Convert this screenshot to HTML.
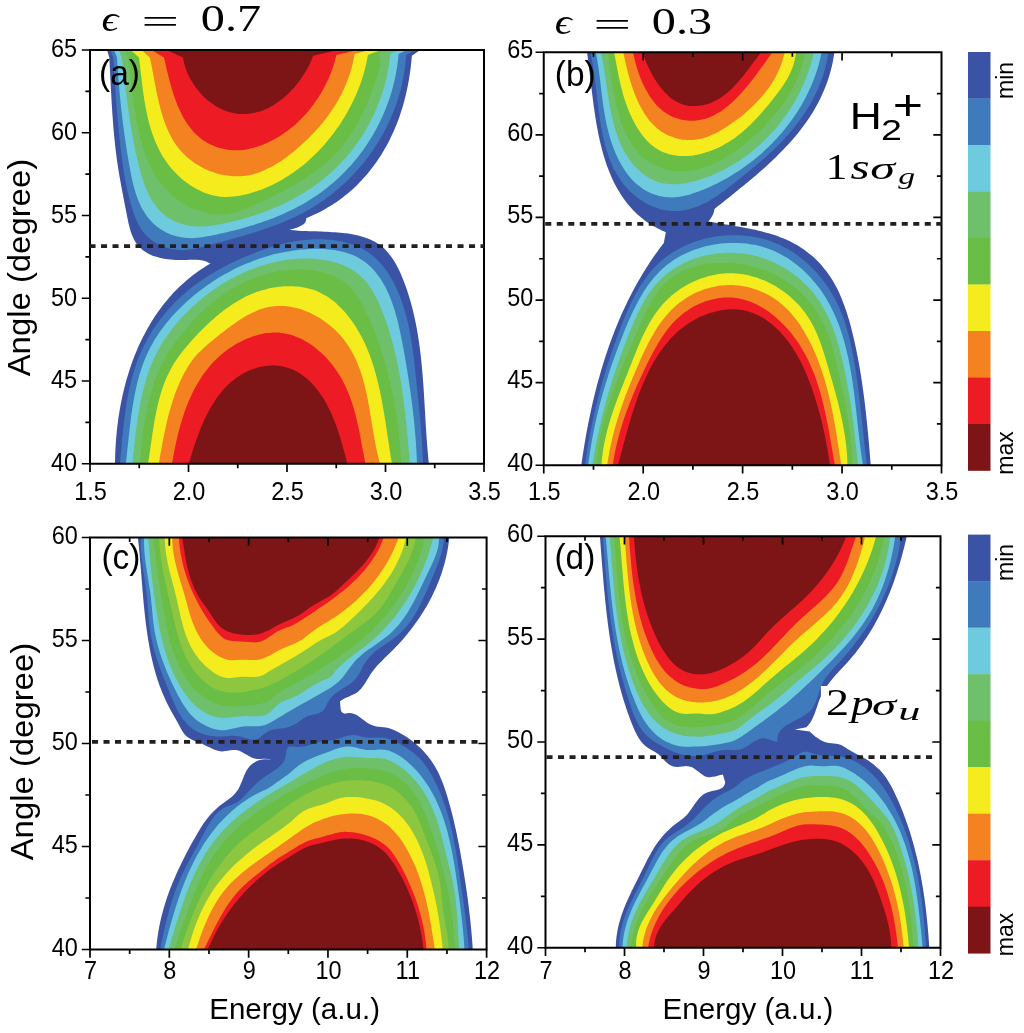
<!DOCTYPE html>
<html lang="en"><head><meta charset="utf-8"><title>Figure</title>
<style>
html,body{margin:0;padding:0;background:#fff;}
body{width:1024px;height:1033px;overflow:hidden;}
svg{display:block;}
text{font-family:"Liberation Sans",sans-serif;fill:#000;}
.tk{font-size:26.2px;}
.ax{font-size:31px;}
.pl{font-size:31px;}
.cb{font-size:22px;}
.m{font-family:"Liberation Serif","DejaVu Serif",serif;}
</style></head><body>
<svg width="1024" height="1033" viewBox="0 0 1024 1033">
<rect width="1024" height="1033" fill="#fff"/>
<!-- panel a -->
<clipPath id="clip-a"><rect x="90" y="50" width="394" height="413.75"/></clipPath>
<g clip-path="url(#clip-a)">
<path d="M107 38L107 50L109.3 57.5C109.34 58.34 109.48 60.85 109.56 62.53C109.65 64.21 109.73 65.89 109.82 67.58C109.9 69.27 109.99 70.95 110.07 72.64C110.16 74.33 110.24 76.03 110.33 77.72C110.41 79.42 110.5 81.11 110.58 82.81C110.67 84.51 110.76 86.21 110.85 87.91C110.94 89.61 111.03 91.31 111.12 93.01C111.21 94.71 111.31 96.41 111.4 98.12C111.5 99.82 111.6 101.52 111.7 103.23C111.81 104.93 111.91 106.63 112.02 108.33C112.13 110.04 112.24 111.74 112.36 113.44C112.47 115.14 112.59 116.84 112.72 118.54C112.84 120.24 112.97 121.94 113.11 123.63C113.24 125.33 113.38 127.03 113.52 128.72C113.67 130.41 113.82 132.1 113.97 133.79C114.13 135.48 114.29 137.17 114.46 138.85C114.63 140.53 114.8 142.21 114.98 143.89C115.16 145.57 115.35 147.24 115.55 148.91C115.74 150.59 115.94 152.25 116.15 153.92C116.36 155.58 116.58 157.24 116.81 158.9C117.03 160.55 117.27 162.2 117.51 163.85C117.76 165.5 118.01 167.14 118.27 168.78C118.53 170.42 118.8 172.06 119.07 173.7C119.35 175.34 119.63 176.98 119.92 178.62C120.2 180.26 120.5 181.9 120.8 183.55C121.1 185.2 121.41 186.85 121.72 188.5C122.03 190.16 122.35 191.82 122.67 193.5C122.99 195.17 123.31 196.85 123.64 198.54C123.97 200.23 124.3 201.93 124.63 203.64C124.97 205.35 125.31 207.08 125.65 208.82C125.98 210.56 126.32 212.32 126.67 214.09C127.02 215.85 127.36 217.65 127.73 219.42C128.1 221.19 128.47 222.98 128.89 224.72C129.31 226.47 129.76 228.21 130.26 229.89C130.76 231.58 131.3 233.24 131.91 234.82C132.52 236.4 133.18 237.94 133.93 239.39C134.69 240.84 135.51 242.22 136.42 243.51C137.33 244.79 138.34 245.98 139.42 247.09C140.5 248.2 141.66 249.22 142.89 250.16C144.12 251.1 145.42 251.96 146.78 252.74C148.14 253.53 149.56 254.24 151.03 254.88C152.5 255.52 154.03 256.09 155.6 256.6C157.16 257.11 158.78 257.54 160.42 257.93C162.06 258.31 163.74 258.63 165.44 258.91C167.14 259.18 168.87 259.39 170.61 259.56C172.35 259.73 174.12 259.85 175.88 259.92C177.64 260 179.42 260.03 181.18 260.03C182.95 260.03 184.73 259.96 186.48 259.92C188.23 259.87 189.98 259.78 191.69 259.76C193.4 259.74 195.1 259.72 196.75 259.81C198.4 259.9 200.02 260.02 201.59 260.3C203.15 260.58 204.67 260.93 206.13 261.48C207.58 262.03 209.6 263.25 210.3 263.6L250 256L289.8 229.7C291.18 229.28 295.6 228.32 298.1 227.2C300.6 226.08 303.42 224.53 304.8 223C306.18 221.47 306.13 218.83 306.4 218C307.22 217.66 309.69 216.67 311.31 215.97C312.92 215.27 314.52 214.55 316.1 213.79C317.68 213.04 319.23 212.27 320.77 211.47C322.31 210.66 323.84 209.84 325.34 208.99C326.84 208.14 328.32 207.27 329.78 206.37C331.25 205.48 332.69 204.56 334.12 203.62C335.54 202.68 336.95 201.71 338.33 200.73C339.72 199.74 341.09 198.73 342.43 197.71C343.78 196.68 345.11 195.63 346.42 194.56C347.73 193.49 349.02 192.4 350.29 191.29C351.55 190.18 352.81 189.05 354.04 187.9C355.27 186.75 356.48 185.58 357.67 184.4C358.86 183.21 360.03 182.01 361.19 180.78C362.34 179.56 363.47 178.32 364.59 177.06C365.7 175.81 366.79 174.53 367.87 173.24C368.94 171.95 370 170.64 371.03 169.32C372.07 167.99 373.08 166.65 374.08 165.3C375.07 163.94 376.05 162.57 377 161.18C377.96 159.8 378.89 158.4 379.81 156.99C380.73 155.57 381.62 154.14 382.5 152.7C383.37 151.26 384.23 149.81 385.07 148.34C385.9 146.87 386.72 145.39 387.52 143.9C388.31 142.41 389.09 140.91 389.85 139.39C390.6 137.88 391.34 136.35 392.05 134.81C392.77 133.28 393.47 131.73 394.14 130.17C394.82 128.61 395.47 127.04 396.11 125.47C396.75 123.89 397.36 122.3 397.96 120.71C398.55 119.11 399.13 117.51 399.69 115.89C400.24 114.28 400.78 112.66 401.3 111.04C401.82 109.41 402.32 107.77 402.8 106.13C403.28 104.49 403.74 102.85 404.19 101.2C404.63 99.54 405.06 97.89 405.46 96.22C405.87 94.56 406.26 92.89 406.63 91.22C407 89.55 407.35 87.88 407.69 86.2C408.03 84.52 408.34 82.84 408.64 81.15C408.94 79.47 409.23 77.78 409.49 76.09C409.76 74.41 410.01 72.72 410.24 71.02C410.48 69.33 410.69 67.64 410.89 65.95C411.09 64.26 411.28 62.56 411.44 60.87C411.61 59.18 411.82 56.65 411.9 55.8L420.2 50L420.2 38Z" fill="#3A53A4"/>
<path d="M115 475.75L115 463.75C115.01 462.92 115.04 460.43 115.08 458.77C115.12 457.11 115.17 455.44 115.23 453.78C115.29 452.11 115.37 450.44 115.45 448.76C115.54 447.09 115.64 445.42 115.75 443.74C115.86 442.07 115.98 440.39 116.12 438.71C116.26 437.03 116.4 435.35 116.56 433.67C116.73 431.99 116.9 430.31 117.09 428.63C117.27 426.95 117.47 425.27 117.69 423.59C117.9 421.91 118.13 420.23 118.37 418.56C118.61 416.88 118.86 415.2 119.13 413.53C119.39 411.85 119.67 410.18 119.97 408.51C120.26 406.84 120.57 405.17 120.89 403.5C121.21 401.84 121.55 400.17 121.9 398.51C122.25 396.85 122.61 395.2 122.99 393.54C123.37 391.89 123.76 390.24 124.17 388.6C124.58 386.95 125 385.31 125.44 383.67C125.88 382.04 126.33 380.41 126.8 378.78C127.26 377.16 127.75 375.54 128.24 373.92C128.74 372.31 129.25 370.7 129.78 369.1C130.31 367.49 130.85 365.9 131.41 364.31C131.97 362.72 132.54 361.14 133.14 359.56C133.73 357.99 134.33 356.42 134.95 354.86C135.58 353.3 136.22 351.75 136.87 350.21C137.52 348.67 138.2 347.13 138.88 345.61C139.57 344.08 140.27 342.56 140.99 341.06C141.72 339.55 142.45 338.05 143.21 336.57C143.96 335.08 144.73 333.6 145.52 332.14C146.31 330.67 147.11 329.21 147.93 327.77C148.76 326.32 149.6 324.89 150.45 323.47C151.31 322.05 152.18 320.64 153.08 319.24C153.97 317.84 154.88 316.45 155.81 315.08C156.73 313.71 157.68 312.35 158.64 311C159.61 309.65 160.59 308.32 161.59 307C162.59 305.67 163.61 304.37 164.64 303.07C165.68 301.78 166.73 300.5 167.81 299.24C168.88 297.98 169.98 296.73 171.09 295.49C172.2 294.26 173.33 293.04 174.48 291.84C175.63 290.64 176.8 289.45 177.98 288.28C179.17 287.11 180.38 285.96 181.61 284.82C182.83 283.68 184.08 282.56 185.34 281.46C186.61 280.36 187.89 279.27 189.2 278.2C190.51 277.14 191.83 276.09 193.18 275.05C194.52 274.02 195.89 273.01 197.27 272.02C198.66 271.02 200.07 270.05 201.49 269.09C202.92 268.14 204.37 267.2 205.83 266.29C207.3 265.37 209.56 264.05 210.3 263.6L250 240L289.8 229.7C290.54 229.79 292.72 230.09 294.23 230.25C295.74 230.41 297.3 230.54 298.88 230.65C300.46 230.77 302.08 230.87 303.72 230.96C305.36 231.04 307.03 231.11 308.72 231.18C310.41 231.25 312.12 231.31 313.85 231.36C315.57 231.42 317.32 231.47 319.08 231.53C320.83 231.59 322.6 231.65 324.37 231.72C326.14 231.79 327.92 231.87 329.7 231.96C331.48 232.05 333.27 232.15 335.04 232.28C336.82 232.4 338.6 232.54 340.36 232.71C342.13 232.88 343.89 233.07 345.63 233.29C347.37 233.51 349.1 233.75 350.81 234.04C352.52 234.32 354.21 234.64 355.88 235C357.54 235.35 359.19 235.75 360.8 236.19C362.42 236.63 364 237.12 365.55 237.66C367.1 238.19 368.62 238.78 370.1 239.42C371.57 240.07 373.01 240.76 374.41 241.52C375.8 242.28 377.15 243.1 378.45 243.98C379.75 244.87 381 245.82 382.2 246.83C383.4 247.85 384.55 248.93 385.66 250.06C386.77 251.2 387.83 252.39 388.85 253.63C389.87 254.87 390.84 256.16 391.78 257.5C392.72 258.83 393.62 260.21 394.48 261.62C395.34 263.03 396.17 264.49 396.96 265.97C397.76 267.44 398.52 268.96 399.25 270.49C399.98 272.02 400.68 273.58 401.36 275.15C402.04 276.73 402.69 278.32 403.32 279.92C403.94 281.52 404.55 283.13 405.13 284.75C405.72 286.36 406.28 287.98 406.83 289.6C407.38 291.22 407.91 292.84 408.42 294.46C408.93 296.08 409.42 297.71 409.9 299.34C410.37 300.96 410.83 302.59 411.28 304.22C411.72 305.85 412.15 307.48 412.56 309.12C412.97 310.75 413.37 312.39 413.75 314.03C414.13 315.66 414.5 317.3 414.85 318.94C415.21 320.58 415.55 322.22 415.87 323.87C416.2 325.51 416.51 327.16 416.81 328.8C417.11 330.45 417.4 332.1 417.68 333.75C417.96 335.39 418.22 337.04 418.48 338.7C418.73 340.35 418.97 342 419.21 343.65C419.44 345.31 419.66 346.96 419.88 348.62C420.09 350.28 420.3 351.93 420.49 353.59C420.69 355.25 420.88 356.91 421.05 358.57C421.23 360.23 421.41 361.89 421.57 363.55C421.73 365.22 421.89 366.88 422.04 368.54C422.19 370.21 422.34 371.87 422.48 373.54C422.62 375.2 422.75 376.87 422.88 378.54C423.01 380.2 423.13 381.87 423.25 383.54C423.37 385.21 423.48 386.88 423.6 388.54C423.71 390.21 423.82 391.88 423.92 393.55C424.03 395.22 424.13 396.89 424.23 398.57C424.34 400.24 424.43 401.91 424.53 403.58C424.63 405.25 424.73 406.92 424.83 408.59C424.92 410.27 425.02 411.94 425.12 413.61C425.21 415.28 425.31 416.96 425.41 418.63C425.51 420.3 425.61 421.97 425.71 423.65C425.81 425.32 425.92 426.99 426.02 428.66C426.13 430.34 426.24 432.01 426.35 433.68C426.46 435.35 426.58 437.03 426.7 438.7C426.82 440.37 426.94 442.04 427.07 443.71C427.2 445.38 427.33 447.06 427.47 448.73C427.61 450.4 427.76 452.07 427.91 453.74C428.06 455.41 428.22 457.08 428.38 458.75C428.55 460.41 428.81 462.92 428.9 463.75L428.9 475.75Z" fill="#3A53A4"/>
<path d="M110.3 38L110.3 50L113.3 57.5C113.35 58.34 113.5 60.85 113.6 62.53C113.71 64.2 113.81 65.87 113.91 67.55C114.01 69.22 114.11 70.89 114.22 72.57C114.32 74.24 114.43 75.91 114.53 77.58C114.64 79.25 114.75 80.92 114.85 82.59C114.96 84.26 115.07 85.93 115.18 87.59C115.3 89.26 115.41 90.93 115.53 92.6C115.64 94.26 115.76 95.93 115.88 97.59C116 99.26 116.12 100.92 116.25 102.59C116.37 104.25 116.5 105.92 116.63 107.58C116.76 109.25 116.9 110.91 117.04 112.57C117.17 114.23 117.31 115.9 117.46 117.56C117.6 119.22 117.75 120.88 117.9 122.54C118.05 124.2 118.21 125.86 118.37 127.52C118.53 129.18 118.69 130.84 118.86 132.5C119.03 134.16 119.2 135.82 119.38 137.48C119.56 139.14 119.74 140.8 119.93 142.46C120.12 144.11 120.31 145.77 120.51 147.43C120.7 149.09 120.91 150.75 121.12 152.4C121.33 154.06 121.54 155.72 121.76 157.37C121.98 159.03 122.21 160.69 122.44 162.34C122.68 164 122.92 165.66 123.16 167.31C123.41 168.97 123.66 170.62 123.93 172.28C124.2 173.93 124.47 175.59 124.76 177.24C125.04 178.89 125.34 180.54 125.65 182.19C125.97 183.83 126.29 185.48 126.63 187.12C126.97 188.77 127.33 190.41 127.7 192.04C128.08 193.68 128.47 195.32 128.88 196.95C129.29 198.58 129.72 200.2 130.17 201.83C130.62 203.45 131.09 205.07 131.59 206.68C132.08 208.3 132.6 209.91 133.14 211.51C133.68 213.11 134.24 214.72 134.85 216.31C135.45 217.89 136.07 219.48 136.75 221.02C137.44 222.57 138.16 224.1 138.95 225.57C139.75 227.04 140.61 228.49 141.55 229.85C142.49 231.22 143.52 232.54 144.61 233.78C145.71 235.03 146.89 236.21 148.12 237.32C149.35 238.43 150.66 239.48 152.01 240.46C153.36 241.43 154.78 242.34 156.22 243.18C157.67 244.01 159.17 244.77 160.7 245.46C162.22 246.15 163.79 246.76 165.37 247.29C166.95 247.83 168.56 248.29 170.17 248.66C171.79 249.04 173.42 249.34 175.05 249.55C176.68 249.76 178.32 249.89 179.95 249.94C181.58 250 183.21 249.97 184.83 249.88C186.46 249.79 188.09 249.63 189.71 249.43C191.34 249.22 192.96 248.95 194.58 248.66C196.21 248.36 197.83 248.01 199.46 247.64C201.08 247.28 202.7 246.87 204.33 246.45C205.96 246.04 207.58 245.6 209.21 245.16C210.84 244.73 212.47 244.28 214.1 243.84C215.73 243.4 217.36 242.96 218.99 242.52C220.63 242.08 222.26 241.63 223.89 241.19C225.53 240.74 227.16 240.3 228.79 239.85C230.43 239.4 232.06 238.95 233.69 238.49C235.32 238.04 236.96 237.58 238.58 237.11C240.21 236.65 241.84 236.18 243.46 235.71C245.09 235.23 246.71 234.75 248.33 234.26C249.95 233.78 251.57 233.28 253.18 232.78C254.79 232.28 256.4 231.77 258.01 231.25C259.61 230.74 261.22 230.21 262.81 229.67C264.41 229.14 266 228.59 267.59 228.04C269.17 227.48 270.75 226.91 272.33 226.34C273.9 225.76 275.47 225.17 277.03 224.57C278.6 223.97 280.15 223.35 281.7 222.72C283.25 222.1 284.79 221.45 286.32 220.8C287.86 220.14 289.38 219.47 290.9 218.79C292.42 218.1 293.92 217.4 295.42 216.69C296.92 215.97 298.41 215.24 299.89 214.48C301.38 213.73 302.85 212.97 304.31 212.18C305.77 211.39 307.22 210.59 308.66 209.77C310.1 208.94 311.53 208.1 312.94 207.24C314.36 206.38 315.77 205.5 317.16 204.6C318.56 203.7 319.94 202.78 321.31 201.85C322.68 200.92 324.04 199.96 325.39 198.99C326.73 198.02 328.07 197.03 329.39 196.03C330.71 195.02 332.02 194 333.32 192.96C334.61 191.93 335.9 190.87 337.17 189.8C338.44 188.73 339.69 187.64 340.93 186.53C342.18 185.43 343.41 184.31 344.62 183.17C345.84 182.04 347.04 180.89 348.22 179.72C349.41 178.56 350.58 177.37 351.74 176.18C352.89 174.98 354.04 173.77 355.16 172.55C356.29 171.32 357.4 170.08 358.5 168.83C359.59 167.58 360.68 166.31 361.74 165.03C362.81 163.75 363.85 162.45 364.89 161.15C365.92 159.84 366.94 158.52 367.94 157.18C368.94 155.85 369.92 154.5 370.89 153.15C371.85 151.79 372.8 150.42 373.74 149.04C374.67 147.65 375.58 146.26 376.48 144.85C377.38 143.45 378.26 142.03 379.12 140.6C379.98 139.17 380.83 137.73 381.65 136.28C382.48 134.83 383.28 133.37 384.07 131.9C384.86 130.43 385.63 128.95 386.38 127.45C387.13 125.96 387.86 124.46 388.58 122.95C389.29 121.44 389.98 119.92 390.65 118.39C391.33 116.86 391.98 115.32 392.61 113.77C393.25 112.23 393.86 110.67 394.45 109.1C395.04 107.54 395.62 105.97 396.17 104.39C396.72 102.81 397.25 101.22 397.76 99.62C398.27 98.03 398.76 96.42 399.22 94.81C399.69 93.2 400.13 91.58 400.56 89.96C400.98 88.33 401.38 86.7 401.76 85.07C402.14 83.43 402.5 81.78 402.83 80.14C403.16 78.49 403.47 76.83 403.76 75.17C404.05 73.51 404.32 71.84 404.56 70.17C404.8 68.5 405.02 66.82 405.22 65.14C405.41 63.46 405.58 61.77 405.73 60.08C405.88 58.39 406.04 55.85 406.1 55L414.4 50L414.4 38Z" fill="#3F7ABD"/>
<path d="M120 475.75L120 463.75C120.07 462.94 120.29 460.52 120.43 458.89C120.58 457.27 120.72 455.63 120.86 454C121 452.36 121.15 450.71 121.29 449.06C121.44 447.41 121.58 445.76 121.73 444.1C121.88 442.44 122.03 440.78 122.19 439.11C122.35 437.44 122.51 435.77 122.67 434.1C122.84 432.43 123.01 430.75 123.19 429.07C123.37 427.4 123.55 425.72 123.74 424.04C123.93 422.36 124.13 420.68 124.34 419C124.55 417.31 124.77 415.63 124.99 413.95C125.22 412.27 125.46 410.59 125.71 408.92C125.95 407.24 126.21 405.56 126.49 403.89C126.76 402.22 127.04 400.54 127.34 398.88C127.64 397.21 127.95 395.55 128.28 393.89C128.6 392.23 128.94 390.57 129.3 388.92C129.66 387.27 130.03 385.62 130.42 383.98C130.81 382.34 131.22 380.71 131.65 379.08C132.07 377.45 132.52 375.83 132.98 374.22C133.44 372.61 133.93 371 134.43 369.4C134.94 367.81 135.46 366.22 136.01 364.64C136.55 363.06 137.12 361.49 137.71 359.93C138.31 358.37 138.92 356.82 139.56 355.28C140.2 353.74 140.86 352.21 141.55 350.69C142.24 349.18 142.95 347.67 143.68 346.18C144.42 344.68 145.18 343.2 145.96 341.73C146.74 340.26 147.54 338.81 148.37 337.36C149.2 335.92 150.04 334.49 150.91 333.07C151.78 331.65 152.67 330.25 153.59 328.86C154.5 327.46 155.43 326.09 156.38 324.72C157.34 323.36 158.31 322.01 159.3 320.68C160.3 319.34 161.31 318.02 162.34 316.72C163.37 315.41 164.42 314.12 165.49 312.84C166.56 311.57 167.65 310.31 168.76 309.07C169.86 307.82 170.99 306.6 172.13 305.38C173.27 304.17 174.43 302.98 175.6 301.8C176.77 300.62 177.97 299.46 179.17 298.32C180.38 297.17 181.61 296.04 182.84 294.93C184.08 293.83 185.34 292.73 186.61 291.66C187.88 290.59 189.16 289.53 190.46 288.49C191.76 287.46 193.07 286.44 194.4 285.44C195.72 284.44 197.06 283.45 198.41 282.49C199.77 281.52 201.13 280.57 202.51 279.64C203.89 278.71 205.28 277.79 206.68 276.89C208.08 275.99 209.49 275.11 210.91 274.24C212.34 273.38 213.77 272.52 215.22 271.69C216.66 270.85 218.11 270.03 219.58 269.22C221.04 268.41 222.51 267.62 224 266.84C225.48 266.06 226.97 265.3 228.47 264.54C229.96 263.79 231.47 263.05 232.98 262.33C234.5 261.6 236.02 260.89 237.55 260.19C239.07 259.49 240.61 258.8 242.15 258.12C243.69 257.44 245.23 256.78 246.78 256.12C248.34 255.47 249.89 254.83 251.45 254.2C253.02 253.56 254.58 252.94 256.15 252.34C257.73 251.73 259.3 251.14 260.89 250.57C262.47 249.99 264.06 249.43 265.66 248.89C267.25 248.34 268.85 247.81 270.46 247.31C272.07 246.8 273.68 246.31 275.31 245.84C276.93 245.37 278.55 244.92 280.19 244.5C281.82 244.07 283.47 243.66 285.11 243.28C286.76 242.9 288.42 242.54 290.08 242.21C291.75 241.88 293.42 241.57 295.1 241.29C296.77 241.01 298.46 240.75 300.16 240.53C301.85 240.3 303.55 240.1 305.26 239.94C306.97 239.77 308.68 239.63 310.39 239.53C312.11 239.42 313.83 239.34 315.54 239.3C317.25 239.26 318.97 239.25 320.68 239.28C322.39 239.31 324.09 239.37 325.79 239.46C327.49 239.56 329.18 239.69 330.86 239.87C332.54 240.04 334.21 240.24 335.87 240.49C337.52 240.74 339.17 241.03 340.79 241.36C342.42 241.69 344.03 242.05 345.62 242.47C347.21 242.88 348.78 243.33 350.33 243.83C351.88 244.33 353.41 244.87 354.91 245.46C356.4 246.05 357.88 246.68 359.32 247.36C360.77 248.04 362.19 248.77 363.57 249.55C364.96 250.33 366.31 251.15 367.63 252.03C368.94 252.9 370.23 253.83 371.47 254.8C372.72 255.78 373.93 256.8 375.11 257.87C376.29 258.94 377.43 260.05 378.55 261.2C379.66 262.35 380.73 263.55 381.78 264.78C382.82 266.01 383.84 267.28 384.82 268.58C385.8 269.88 386.75 271.22 387.67 272.58C388.59 273.95 389.48 275.34 390.33 276.76C391.19 278.18 392.02 279.63 392.82 281.1C393.62 282.57 394.4 284.07 395.14 285.58C395.88 287.09 396.6 288.62 397.29 290.17C397.98 291.72 398.64 293.28 399.27 294.85C399.91 296.43 400.52 298.01 401.1 299.61C401.69 301.2 402.25 302.81 402.78 304.42C403.32 306.03 403.83 307.64 404.32 309.27C404.81 310.89 405.28 312.52 405.72 314.16C406.17 315.8 406.6 317.44 407 319.09C407.41 320.74 407.8 322.39 408.17 324.05C408.54 325.7 408.89 327.37 409.23 329.03C409.57 330.7 409.89 332.37 410.2 334.04C410.51 335.71 410.8 337.39 411.08 339.06C411.36 340.74 411.63 342.42 411.88 344.1C412.14 345.78 412.38 347.46 412.62 349.14C412.85 350.82 413.08 352.51 413.3 354.19C413.51 355.87 413.72 357.56 413.93 359.24C414.13 360.92 414.32 362.6 414.52 364.28C414.71 365.95 414.89 367.63 415.08 369.3C415.26 370.98 415.44 372.65 415.62 374.32C415.79 375.98 415.97 377.65 416.14 379.31C416.32 380.97 416.49 382.63 416.67 384.28C416.84 385.93 417.02 387.58 417.19 389.22C417.37 390.87 417.54 392.51 417.71 394.15C417.88 395.79 418.05 397.43 418.22 399.07C418.39 400.7 418.56 402.34 418.72 403.97C418.89 405.61 419.05 407.24 419.21 408.87C419.38 410.51 419.53 412.14 419.69 413.77C419.84 415.41 420 417.04 420.15 418.68C420.29 420.31 420.44 421.95 420.58 423.59C420.72 425.23 420.86 426.87 420.99 428.52C421.13 430.16 421.26 431.81 421.38 433.46C421.5 435.11 421.62 436.77 421.74 438.43C421.85 440.09 421.96 441.75 422.06 443.42C422.17 445.09 422.27 446.76 422.36 448.45C422.45 450.13 422.53 451.81 422.61 453.51C422.69 455.2 422.76 456.9 422.83 458.61C422.89 460.31 422.97 462.89 423 463.75L423 475.75Z" fill="#3F7ABD"/>
<path d="M114 38L114 50L117 57.5C117.05 58.37 117.21 60.98 117.32 62.7C117.43 64.42 117.54 66.14 117.66 67.84C117.77 69.55 117.89 71.25 118.01 72.94C118.14 74.63 118.26 76.31 118.39 77.98C118.52 79.66 118.65 81.33 118.79 82.99C118.93 84.65 119.07 86.31 119.21 87.96C119.35 89.61 119.5 91.26 119.65 92.9C119.8 94.55 119.96 96.18 120.12 97.82C120.28 99.45 120.44 101.08 120.61 102.71C120.78 104.34 120.95 105.97 121.13 107.59C121.3 109.22 121.48 110.84 121.67 112.46C121.85 114.09 122.04 115.71 122.24 117.33C122.43 118.95 122.63 120.57 122.83 122.2C123.04 123.82 123.24 125.44 123.46 127.07C123.67 128.69 123.89 130.32 124.11 131.95C124.34 133.58 124.56 135.22 124.8 136.85C125.03 138.49 125.27 140.13 125.51 141.77C125.76 143.42 126.01 145.07 126.26 146.72C126.51 148.37 126.77 150.03 127.04 151.7C127.31 153.36 127.58 155.04 127.85 156.71C128.13 158.39 128.41 160.08 128.7 161.77C128.99 163.47 129.28 165.17 129.59 166.87C129.89 168.58 130.2 170.29 130.53 172C130.86 173.71 131.2 175.43 131.56 177.13C131.92 178.84 132.29 180.54 132.69 182.24C133.1 183.93 133.52 185.62 133.97 187.28C134.42 188.95 134.9 190.62 135.41 192.25C135.92 193.89 136.46 195.52 137.04 197.11C137.62 198.71 138.23 200.29 138.89 201.84C139.54 203.39 140.24 204.92 140.98 206.41C141.73 207.9 142.51 209.36 143.35 210.79C144.19 212.21 145.07 213.6 146.02 214.95C146.96 216.3 147.95 217.61 149 218.87C150.05 220.13 151.16 221.35 152.32 222.5C153.47 223.66 154.68 224.76 155.94 225.8C157.2 226.84 158.51 227.82 159.86 228.74C161.21 229.66 162.61 230.51 164.04 231.3C165.47 232.09 166.94 232.82 168.44 233.48C169.93 234.14 171.46 234.73 173.01 235.26C174.56 235.78 176.14 236.24 177.73 236.62C179.31 237.01 180.93 237.32 182.54 237.56C184.16 237.8 185.79 237.97 187.42 238.07C189.05 238.16 190.68 238.17 192.32 238.13C193.96 238.09 195.59 237.97 197.23 237.81C198.88 237.66 200.52 237.44 202.16 237.2C203.81 236.96 205.45 236.67 207.1 236.37C208.75 236.08 210.39 235.75 212.04 235.42C213.69 235.09 215.34 234.75 216.99 234.4C218.64 234.05 220.29 233.69 221.94 233.33C223.59 232.96 225.24 232.58 226.89 232.2C228.54 231.81 230.19 231.41 231.84 231.01C233.48 230.6 235.13 230.18 236.77 229.75C238.41 229.32 240.05 228.89 241.69 228.44C243.33 227.98 244.96 227.52 246.59 227.05C248.22 226.58 249.85 226.09 251.47 225.59C253.09 225.09 254.71 224.58 256.33 224.06C257.94 223.54 259.55 223 261.15 222.46C262.76 221.91 264.35 221.35 265.95 220.77C267.54 220.2 269.12 219.61 270.7 219.01C272.28 218.41 273.86 217.79 275.42 217.16C276.98 216.53 278.54 215.88 280.09 215.22C281.64 214.56 283.18 213.89 284.72 213.2C286.25 212.51 287.77 211.81 289.29 211.09C290.8 210.37 292.31 209.63 293.8 208.88C295.3 208.12 296.79 207.36 298.26 206.57C299.74 205.79 301.2 204.98 302.66 204.17C304.11 203.35 305.55 202.51 306.98 201.66C308.41 200.81 309.83 199.94 311.24 199.05C312.64 198.16 314.04 197.25 315.42 196.33C316.8 195.4 318.17 194.46 319.52 193.5C320.87 192.54 322.21 191.56 323.54 190.56C324.87 189.56 326.18 188.55 327.48 187.52C328.77 186.48 330.06 185.43 331.33 184.36C332.6 183.3 333.85 182.21 335.09 181.11C336.33 180.01 337.56 178.89 338.77 177.75C339.98 176.62 341.17 175.47 342.35 174.3C343.53 173.14 344.7 171.95 345.84 170.76C346.99 169.56 348.13 168.34 349.24 167.12C350.36 165.89 351.46 164.65 352.55 163.39C353.63 162.13 354.7 160.86 355.75 159.57C356.8 158.29 357.84 156.99 358.86 155.68C359.88 154.36 360.88 153.04 361.86 151.7C362.85 150.36 363.82 149 364.77 147.64C365.72 146.27 366.65 144.9 367.57 143.51C368.48 142.11 369.38 140.71 370.26 139.3C371.14 137.88 372 136.46 372.84 135.02C373.69 133.58 374.51 132.13 375.32 130.67C376.12 129.22 376.91 127.74 377.68 126.26C378.45 124.78 379.2 123.29 379.93 121.79C380.66 120.29 381.38 118.78 382.07 117.26C382.76 115.74 383.43 114.21 384.09 112.67C384.74 111.13 385.38 109.58 385.99 108.02C386.6 106.47 387.2 104.9 387.77 103.33C388.34 101.75 388.9 100.17 389.43 98.58C389.96 96.99 390.47 95.39 390.97 93.79C391.46 92.18 391.93 90.57 392.38 88.95C392.83 87.33 393.25 85.71 393.66 84.07C394.07 82.44 394.45 80.8 394.82 79.16C395.18 77.52 395.52 75.86 395.84 74.21C396.16 72.55 396.46 70.89 396.73 69.22C397.01 67.56 397.26 65.89 397.49 64.21C397.72 62.53 397.93 60.85 398.11 59.17C398.3 57.48 398.52 54.94 398.6 54.1L407 50L407 38Z" fill="#6DCBDD"/>
<path d="M125.75 475.75L125.75 463.75C125.85 462.95 126.14 460.58 126.33 458.98C126.51 457.38 126.7 455.77 126.88 454.15C127.06 452.53 127.23 450.89 127.41 449.26C127.59 447.62 127.76 445.97 127.94 444.32C128.12 442.67 128.29 441.01 128.47 439.35C128.65 437.68 128.83 436.01 129.02 434.33C129.2 432.66 129.39 430.98 129.58 429.3C129.77 427.62 129.97 425.93 130.17 424.24C130.38 422.56 130.58 420.87 130.8 419.17C131.02 417.48 131.24 415.79 131.48 414.1C131.71 412.41 131.96 410.72 132.21 409.03C132.47 407.34 132.73 405.65 133.01 403.97C133.29 402.29 133.57 400.6 133.88 398.93C134.18 397.25 134.5 395.57 134.83 393.91C135.16 392.24 135.51 390.57 135.87 388.91C136.24 387.26 136.62 385.61 137.02 383.96C137.41 382.32 137.83 380.68 138.27 379.06C138.7 377.43 139.16 375.81 139.63 374.2C140.11 372.59 140.61 370.99 141.13 369.41C141.65 367.82 142.19 366.24 142.76 364.68C143.33 363.11 143.92 361.56 144.53 360.02C145.15 358.48 145.79 356.96 146.46 355.45C147.13 353.94 147.83 352.44 148.55 350.96C149.27 349.48 150.02 348.01 150.79 346.56C151.57 345.11 152.37 343.67 153.19 342.25C154.02 340.83 154.87 339.42 155.74 338.03C156.61 336.64 157.51 335.26 158.43 333.9C159.34 332.53 160.29 331.19 161.25 329.85C162.21 328.52 163.2 327.2 164.2 325.89C165.2 324.59 166.23 323.3 167.27 322.02C168.32 320.74 169.38 319.48 170.47 318.23C171.55 316.98 172.65 315.75 173.77 314.53C174.89 313.31 176.03 312.11 177.18 310.92C178.33 309.72 179.5 308.55 180.69 307.38C181.88 306.22 183.08 305.07 184.29 303.94C185.51 302.8 186.74 301.68 187.99 300.58C189.23 299.47 190.49 298.38 191.76 297.3C193.03 296.22 194.32 295.15 195.61 294.1C196.91 293.05 198.22 292.02 199.54 290.99C200.86 289.97 202.2 288.97 203.54 287.98C204.89 286.99 206.25 286.01 207.62 285.05C208.99 284.09 210.37 283.15 211.77 282.22C213.16 281.29 214.57 280.38 215.98 279.49C217.4 278.59 218.83 277.71 220.26 276.85C221.7 275.99 223.15 275.14 224.61 274.32C226.07 273.49 227.54 272.68 229.02 271.89C230.5 271.09 231.99 270.32 233.49 269.56C234.99 268.81 236.5 268.07 238.01 267.35C239.53 266.63 241.06 265.93 242.6 265.25C244.13 264.57 245.68 263.9 247.23 263.26C248.79 262.61 250.35 261.99 251.92 261.39C253.5 260.78 255.08 260.2 256.66 259.63C258.25 259.07 259.85 258.52 261.45 258C263.06 257.47 264.67 256.97 266.29 256.49C267.91 256.01 269.53 255.55 271.17 255.11C272.8 254.67 274.44 254.25 276.09 253.85C277.73 253.45 279.39 253.08 281.05 252.73C282.71 252.37 284.37 252.04 286.05 251.73C287.72 251.43 289.4 251.14 291.08 250.88C292.77 250.62 294.46 250.38 296.15 250.16C297.85 249.95 299.55 249.75 301.25 249.58C302.96 249.42 304.67 249.27 306.38 249.15C308.09 249.04 309.8 248.94 311.51 248.88C313.22 248.82 314.93 248.79 316.64 248.78C318.34 248.78 320.04 248.81 321.73 248.88C323.42 248.94 325.11 249.04 326.78 249.17C328.45 249.31 330.11 249.48 331.75 249.69C333.4 249.9 335.03 250.14 336.64 250.43C338.26 250.72 339.85 251.05 341.43 251.43C343 251.8 344.56 252.22 346.09 252.68C347.62 253.15 349.13 253.66 350.6 254.22C352.08 254.78 353.54 255.38 354.96 256.04C356.38 256.7 357.77 257.41 359.13 258.17C360.49 258.94 361.81 259.75 363.1 260.63C364.39 261.5 365.64 262.43 366.85 263.41C368.06 264.4 369.24 265.44 370.37 266.53C371.51 267.62 372.61 268.76 373.68 269.95C374.74 271.14 375.77 272.37 376.77 273.64C377.76 274.92 378.72 276.24 379.65 277.59C380.57 278.94 381.46 280.33 382.32 281.75C383.18 283.17 384.01 284.63 384.8 286.11C385.6 287.59 386.36 289.1 387.09 290.63C387.83 292.16 388.53 293.71 389.2 295.28C389.87 296.85 390.51 298.45 391.13 300.05C391.74 301.65 392.32 303.27 392.88 304.9C393.44 306.53 393.98 308.18 394.49 309.83C395 311.48 395.49 313.14 395.95 314.81C396.42 316.47 396.87 318.15 397.3 319.83C397.73 321.51 398.14 323.19 398.54 324.88C398.93 326.56 399.31 328.25 399.68 329.94C400.06 331.63 400.41 333.32 400.76 335C401.11 336.69 401.44 338.37 401.78 340.05C402.11 341.72 402.43 343.4 402.75 345.06C403.07 346.73 403.38 348.4 403.69 350.06C403.99 351.71 404.29 353.37 404.59 355.02C404.88 356.67 405.17 358.32 405.45 359.96C405.74 361.61 406.01 363.25 406.29 364.89C406.56 366.52 406.83 368.16 407.09 369.79C407.36 371.42 407.62 373.05 407.87 374.68C408.13 376.31 408.38 377.94 408.63 379.56C408.87 381.19 409.12 382.81 409.36 384.43C409.6 386.06 409.84 387.68 410.07 389.3C410.3 390.92 410.53 392.54 410.75 394.16C410.98 395.78 411.2 397.4 411.41 399.02C411.63 400.65 411.84 402.27 412.05 403.89C412.25 405.51 412.46 407.14 412.65 408.77C412.85 410.39 413.04 412.02 413.23 413.65C413.41 415.28 413.59 416.91 413.77 418.55C413.95 420.18 414.12 421.82 414.28 423.46C414.44 425.1 414.6 426.75 414.76 428.4C414.91 430.04 415.06 431.7 415.2 433.35C415.34 435.01 415.47 436.67 415.6 438.33C415.73 440 415.85 441.67 415.96 443.35C416.08 445.02 416.18 446.7 416.29 448.39C416.39 450.08 416.48 451.77 416.57 453.47C416.65 455.17 416.73 456.88 416.81 458.59C416.88 460.3 416.97 462.89 417 463.75L417 475.75Z" fill="#6DCBDD"/>
<path d="M119 38L119 50L121.6 57.5C121.71 58.35 122.06 60.92 122.29 62.62C122.51 64.32 122.73 66.01 122.95 67.7C123.17 69.39 123.38 71.07 123.6 72.75C123.81 74.42 124.02 76.1 124.23 77.76C124.44 79.43 124.64 81.09 124.85 82.75C125.06 84.41 125.27 86.07 125.47 87.72C125.68 89.37 125.89 91.02 126.1 92.67C126.31 94.32 126.52 95.96 126.73 97.6C126.94 99.25 127.15 100.89 127.37 102.53C127.59 104.17 127.81 105.8 128.03 107.44C128.26 109.08 128.48 110.71 128.71 112.35C128.95 113.99 129.18 115.62 129.43 117.26C129.67 118.89 129.92 120.53 130.17 122.17C130.42 123.81 130.68 125.45 130.95 127.09C131.22 128.73 131.49 130.37 131.78 132.01C132.06 133.66 132.35 135.31 132.65 136.96C132.95 138.61 133.26 140.26 133.57 141.92C133.89 143.57 134.22 145.23 134.56 146.9C134.9 148.56 135.25 150.23 135.61 151.9C135.97 153.57 136.34 155.25 136.72 156.93C137.11 158.62 137.5 160.3 137.91 162C138.32 163.69 138.74 165.4 139.18 167.1C139.62 168.8 140.07 170.51 140.55 172.2C141.03 173.9 141.52 175.6 142.04 177.28C142.57 178.97 143.11 180.64 143.69 182.3C144.26 183.95 144.87 185.6 145.51 187.21C146.15 188.83 146.82 190.42 147.53 191.99C148.25 193.55 148.99 195.09 149.79 196.59C150.58 198.08 151.42 199.55 152.3 200.97C153.18 202.39 154.11 203.78 155.08 205.1C156.06 206.43 157.08 207.72 158.15 208.94C159.22 210.17 160.34 211.34 161.51 212.44C162.68 213.55 163.89 214.59 165.15 215.57C166.42 216.54 167.73 217.45 169.08 218.29C170.43 219.13 171.82 219.9 173.25 220.61C174.68 221.32 176.14 221.97 177.63 222.55C179.13 223.13 180.65 223.64 182.2 224.09C183.75 224.55 185.32 224.93 186.91 225.26C188.5 225.59 190.12 225.85 191.75 226.05C193.37 226.25 195.01 226.39 196.66 226.47C198.31 226.54 199.97 226.56 201.63 226.51C203.29 226.47 204.96 226.37 206.63 226.22C208.3 226.08 209.97 225.88 211.65 225.65C213.32 225.42 215 225.15 216.67 224.85C218.35 224.56 220.03 224.23 221.7 223.89C223.37 223.55 225.04 223.19 226.71 222.83C228.38 222.46 230.05 222.07 231.71 221.68C233.37 221.28 235.03 220.87 236.69 220.45C238.34 220.02 239.99 219.58 241.64 219.13C243.28 218.68 244.93 218.21 246.56 217.73C248.2 217.25 249.83 216.75 251.46 216.24C253.08 215.73 254.7 215.2 256.32 214.66C257.93 214.12 259.54 213.56 261.14 212.99C262.74 212.42 264.34 211.84 265.92 211.23C267.51 210.63 269.09 210.02 270.66 209.38C272.23 208.75 273.8 208.1 275.35 207.44C276.91 206.78 278.46 206.1 279.99 205.4C281.53 204.71 283.06 203.99 284.58 203.27C286.1 202.54 287.61 201.79 289.11 201.03C290.61 200.27 292.1 199.49 293.58 198.7C295.06 197.91 296.53 197.1 297.99 196.27C299.44 195.44 300.89 194.6 302.32 193.73C303.76 192.87 305.18 191.99 306.59 191.1C308 190.2 309.4 189.29 310.79 188.36C312.17 187.42 313.55 186.48 314.9 185.51C316.26 184.54 317.61 183.56 318.94 182.55C320.27 181.55 321.59 180.53 322.89 179.49C324.2 178.45 325.49 177.4 326.76 176.32C328.03 175.25 329.29 174.15 330.54 173.04C331.78 171.93 333.01 170.79 334.22 169.65C335.43 168.5 336.62 167.33 337.8 166.14C338.98 164.96 340.15 163.76 341.29 162.54C342.44 161.32 343.57 160.08 344.68 158.83C345.79 157.58 346.89 156.31 347.97 155.03C349.04 153.74 350.11 152.44 351.15 151.13C352.19 149.81 353.22 148.48 354.23 147.14C355.23 145.79 356.22 144.44 357.19 143.06C358.16 141.69 359.12 140.31 360.05 138.91C360.99 137.51 361.9 136.09 362.8 134.67C363.69 133.25 364.57 131.81 365.43 130.36C366.29 128.91 367.13 127.45 367.94 125.97C368.76 124.5 369.56 123.02 370.34 121.52C371.12 120.03 371.88 118.52 372.62 117.01C373.36 115.49 374.07 113.97 374.77 112.43C375.47 110.9 376.14 109.35 376.8 107.8C377.45 106.24 378.09 104.68 378.7 103.11C379.31 101.54 379.91 99.96 380.47 98.37C381.04 96.79 381.59 95.19 382.12 93.59C382.64 91.99 383.15 90.38 383.63 88.76C384.11 87.15 384.57 85.53 385 83.9C385.44 82.27 385.85 80.64 386.24 79C386.63 77.36 387 75.72 387.34 74.07C387.68 72.42 388 70.77 388.3 69.11C388.59 67.45 388.86 65.79 389.11 64.12C389.36 62.46 389.58 60.79 389.78 59.12C389.98 57.45 390.21 54.94 390.3 54.1L399.5 50L399.5 38Z" fill="#6FC06B"/>
<path d="M132.5 475.75L132.5 463.75C132.58 462.94 132.81 460.53 132.97 458.9C133.13 457.28 133.28 455.65 133.45 454.01C133.61 452.37 133.77 450.73 133.94 449.08C134.11 447.43 134.28 445.78 134.45 444.12C134.63 442.46 134.81 440.79 134.99 439.13C135.18 437.46 135.37 435.79 135.57 434.12C135.77 432.45 135.98 430.77 136.19 429.1C136.4 427.42 136.63 425.74 136.86 424.07C137.09 422.39 137.33 420.71 137.58 419.04C137.83 417.36 138.09 415.68 138.36 414.01C138.64 412.34 138.92 410.66 139.22 408.99C139.51 407.32 139.82 405.66 140.14 404C140.47 402.33 140.8 400.67 141.15 399.02C141.5 397.37 141.87 395.72 142.25 394.07C142.63 392.43 143.03 390.79 143.45 389.16C143.86 387.53 144.29 385.91 144.74 384.3C145.19 382.68 145.66 381.07 146.15 379.48C146.63 377.88 147.14 376.29 147.66 374.71C148.19 373.13 148.74 371.56 149.31 370C149.88 368.45 150.46 366.9 151.08 365.36C151.69 363.83 152.32 362.31 152.98 360.8C153.64 359.29 154.32 357.79 155.03 356.31C155.74 354.83 156.47 353.36 157.23 351.91C157.99 350.45 158.77 349.01 159.57 347.59C160.38 346.16 161.21 344.75 162.06 343.36C162.91 341.96 163.79 340.58 164.69 339.21C165.59 337.84 166.51 336.49 167.45 335.15C168.39 333.81 169.35 332.48 170.34 331.17C171.32 329.85 172.33 328.55 173.35 327.27C174.38 325.98 175.43 324.71 176.49 323.45C177.56 322.19 178.64 320.95 179.74 319.72C180.85 318.48 181.97 317.27 183.11 316.06C184.25 314.85 185.41 313.66 186.58 312.48C187.76 311.3 188.95 310.14 190.16 308.99C191.37 307.83 192.59 306.69 193.83 305.57C195.07 304.44 196.33 303.33 197.6 302.23C198.87 301.14 200.16 300.05 201.47 298.99C202.77 297.92 204.09 296.87 205.42 295.83C206.75 294.79 208.09 293.77 209.45 292.77C210.81 291.77 212.19 290.78 213.57 289.81C214.96 288.84 216.36 287.89 217.77 286.96C219.18 286.03 220.61 285.11 222.05 284.22C223.48 283.32 224.93 282.44 226.39 281.59C227.85 280.73 229.32 279.89 230.81 279.08C232.29 278.26 233.78 277.46 235.29 276.69C236.79 275.91 238.31 275.16 239.83 274.43C241.36 273.7 242.89 272.99 244.43 272.3C245.98 271.61 247.53 270.95 249.09 270.3C250.65 269.66 252.22 269.04 253.8 268.45C255.38 267.86 256.96 267.29 258.56 266.74C260.15 266.2 261.75 265.68 263.36 265.18C264.97 264.69 266.59 264.22 268.21 263.77C269.83 263.33 271.46 262.91 273.09 262.52C274.73 262.14 276.37 261.77 278.01 261.44C279.66 261.1 281.31 260.79 282.96 260.52C284.62 260.24 286.28 259.99 287.95 259.77C289.61 259.55 291.28 259.35 292.95 259.19C294.62 259.03 296.3 258.9 297.98 258.8C299.66 258.69 301.34 258.62 303.03 258.58C304.71 258.55 306.4 258.54 308.08 258.57C309.76 258.59 311.44 258.65 313.12 258.75C314.79 258.84 316.46 258.97 318.12 259.14C319.78 259.31 321.43 259.52 323.07 259.76C324.71 260.01 326.33 260.29 327.94 260.62C329.55 260.94 331.15 261.31 332.72 261.72C334.29 262.12 335.85 262.57 337.38 263.07C338.91 263.57 340.42 264.1 341.9 264.69C343.38 265.28 344.84 265.91 346.27 266.59C347.69 267.27 349.09 268 350.45 268.77C351.82 269.55 353.15 270.38 354.44 271.26C355.73 272.14 356.99 273.07 358.21 274.05C359.43 275.03 360.61 276.07 361.74 277.16C362.88 278.25 363.97 279.4 365.02 280.59C366.07 281.79 367.08 283.04 368.06 284.32C369.04 285.61 369.97 286.94 370.88 288.31C371.78 289.67 372.65 291.08 373.49 292.52C374.33 293.96 375.13 295.43 375.91 296.93C376.69 298.42 377.44 299.95 378.16 301.5C378.89 303.04 379.58 304.61 380.26 306.19C380.93 307.77 381.58 309.37 382.22 310.98C382.85 312.59 383.46 314.21 384.06 315.83C384.65 317.45 385.23 319.08 385.79 320.71C386.35 322.34 386.9 323.97 387.44 325.6C387.97 327.23 388.49 328.86 388.99 330.49C389.5 332.12 389.99 333.75 390.47 335.38C390.94 337.01 391.41 338.65 391.86 340.28C392.31 341.91 392.75 343.55 393.17 345.18C393.6 346.82 394.01 348.45 394.41 350.09C394.82 351.73 395.21 353.36 395.59 355C395.96 356.64 396.33 358.28 396.69 359.92C397.04 361.55 397.39 363.19 397.73 364.83C398.06 366.47 398.39 368.11 398.7 369.75C399.02 371.4 399.33 373.04 399.62 374.68C399.92 376.32 400.21 377.96 400.49 379.61C400.77 381.25 401.04 382.89 401.3 384.54C401.56 386.18 401.82 387.83 402.07 389.47C402.32 391.12 402.55 392.76 402.79 394.41C403.02 396.06 403.25 397.7 403.47 399.35C403.69 401 403.9 402.64 404.11 404.29C404.32 405.94 404.52 407.59 404.71 409.24C404.91 410.88 405.1 412.53 405.29 414.18C405.48 415.83 405.66 417.48 405.83 419.13C406.01 420.78 406.18 422.43 406.35 424.08C406.52 425.73 406.69 427.38 406.85 429.04C407.02 430.69 407.18 432.34 407.33 433.99C407.49 435.64 407.64 437.29 407.8 438.95C407.95 440.6 408.1 442.25 408.25 443.9C408.4 445.56 408.55 447.21 408.69 448.86C408.84 450.52 408.98 452.17 409.13 453.82C409.27 455.48 409.42 457.13 409.56 458.79C409.71 460.44 409.93 462.92 410 463.75L410 475.75Z" fill="#6FC06B"/>
<path d="M125 38L125 50L128 57.5C128.11 58.26 128.45 60.53 128.66 62.08C128.88 63.62 129.09 65.19 129.29 66.77C129.5 68.35 129.7 69.95 129.9 71.56C130.1 73.17 130.3 74.8 130.5 76.44C130.7 78.08 130.9 79.74 131.1 81.4C131.3 83.07 131.49 84.75 131.7 86.43C131.9 88.12 132.11 89.82 132.32 91.52C132.53 93.22 132.75 94.93 132.97 96.65C133.19 98.36 133.42 100.09 133.66 101.81C133.9 103.54 134.14 105.27 134.4 107C134.65 108.73 134.92 110.46 135.19 112.19C135.47 113.92 135.75 115.66 136.05 117.39C136.35 119.12 136.67 120.84 136.99 122.57C137.32 124.29 137.66 126.01 138.02 127.72C138.38 129.44 138.76 131.15 139.15 132.85C139.54 134.55 139.95 136.24 140.38 137.92C140.82 139.6 141.26 141.28 141.74 142.94C142.21 144.6 142.7 146.25 143.22 147.88C143.73 149.52 144.27 151.14 144.83 152.75C145.4 154.35 145.99 155.94 146.6 157.52C147.21 159.09 147.85 160.65 148.52 162.18C149.19 163.72 149.89 165.24 150.61 166.74C151.34 168.23 152.09 169.71 152.88 171.16C153.67 172.61 154.49 174.04 155.34 175.44C156.19 176.85 157.07 178.23 157.99 179.58C158.91 180.93 159.86 182.26 160.85 183.55C161.84 184.85 162.87 186.11 163.93 187.35C164.99 188.59 166.09 189.79 167.24 190.97C168.38 192.14 169.56 193.28 170.78 194.38C172 195.49 173.26 196.56 174.57 197.59C175.87 198.63 177.21 199.63 178.59 200.58C179.96 201.54 181.38 202.45 182.82 203.33C184.26 204.2 185.74 205.03 187.24 205.81C188.74 206.6 190.27 207.33 191.82 208.02C193.36 208.71 194.94 209.35 196.53 209.94C198.12 210.52 199.73 211.06 201.35 211.54C202.98 212.02 204.62 212.44 206.27 212.81C207.91 213.17 209.58 213.48 211.24 213.73C212.91 213.97 214.58 214.16 216.25 214.28C217.93 214.4 219.61 214.46 221.28 214.45C222.95 214.44 224.63 214.37 226.29 214.22C227.96 214.07 229.62 213.86 231.27 213.57C232.92 213.28 234.57 212.92 236.19 212.48C237.82 212.04 239.43 211.52 241.03 210.93C242.62 210.35 244.2 209.66 245.77 208.96C247.34 208.27 248.9 207.51 250.46 206.78C252.02 206.05 253.58 205.31 255.14 204.57C256.69 203.84 258.25 203.1 259.8 202.37C261.36 201.63 262.91 200.9 264.46 200.16C266.01 199.42 267.55 198.69 269.09 197.94C270.63 197.2 272.17 196.46 273.7 195.71C275.23 194.96 276.75 194.2 278.27 193.44C279.79 192.68 281.3 191.92 282.8 191.14C284.31 190.37 285.8 189.59 287.29 188.8C288.78 188 290.26 187.21 291.73 186.4C293.2 185.58 294.66 184.77 296.11 183.93C297.56 183.1 299 182.26 300.43 181.4C301.86 180.54 303.27 179.68 304.68 178.79C306.08 177.91 307.47 177.01 308.85 176.09C310.23 175.18 311.59 174.25 312.94 173.3C314.29 172.35 315.63 171.39 316.95 170.4C318.27 169.42 319.57 168.42 320.86 167.39C322.15 166.37 323.42 165.33 324.67 164.26C325.93 163.2 327.17 162.11 328.38 161C329.6 159.89 330.8 158.76 331.98 157.61C333.16 156.45 334.32 155.27 335.46 154.06C336.6 152.86 337.72 151.63 338.82 150.37C339.91 149.11 340.99 147.82 342.05 146.51C343.1 145.19 344.13 143.85 345.14 142.49C346.15 141.13 347.14 139.73 348.11 138.33C349.08 136.92 350.03 135.48 350.96 134.04C351.88 132.59 352.79 131.12 353.68 129.63C354.57 128.15 355.43 126.65 356.28 125.13C357.13 123.62 357.96 122.09 358.77 120.55C359.58 119.02 360.37 117.47 361.15 115.91C361.92 114.35 362.68 112.79 363.41 111.22C364.15 109.65 364.87 108.07 365.57 106.49C366.28 104.92 366.96 103.33 367.63 101.75C368.3 100.17 368.95 98.59 369.59 97.01C370.22 95.44 370.84 93.86 371.45 92.29C372.05 90.72 372.64 89.15 373.21 87.6C373.78 86.04 374.34 84.49 374.88 82.95C375.43 81.41 375.96 79.89 376.47 78.37C376.98 76.85 377.5 75.36 377.95 73.84C378.4 72.33 378.84 70.82 379.17 69.26C379.51 67.7 379.8 66.12 379.96 64.46C380.12 62.8 380.21 61.11 380.13 59.3C380.06 57.48 379.61 54.55 379.5 53.6L391.2 50L391.2 38Z" fill="#6ABD45"/>
<path d="M140 475.75L140 463.75C140.07 462.92 140.26 460.42 140.4 458.75C140.54 457.08 140.68 455.4 140.83 453.73C140.98 452.05 141.13 450.37 141.3 448.69C141.46 447.01 141.63 445.33 141.81 443.65C141.98 441.96 142.17 440.28 142.37 438.59C142.56 436.91 142.77 435.23 142.98 433.54C143.2 431.86 143.42 430.18 143.66 428.5C143.9 426.82 144.15 425.14 144.41 423.46C144.67 421.79 144.95 420.11 145.24 418.44C145.52 416.77 145.82 415.1 146.14 413.44C146.46 411.78 146.79 410.12 147.14 408.47C147.48 406.82 147.85 405.17 148.23 403.53C148.61 401.89 149 400.25 149.42 398.62C149.83 396.99 150.27 395.37 150.72 393.76C151.17 392.14 151.64 390.54 152.13 388.94C152.62 387.34 153.14 385.75 153.67 384.17C154.2 382.59 154.75 381.02 155.33 379.46C155.91 377.9 156.5 376.35 157.13 374.82C157.75 373.28 158.39 371.75 159.06 370.24C159.73 368.72 160.43 367.22 161.15 365.73C161.87 364.24 162.61 362.76 163.38 361.3C164.16 359.83 164.95 358.38 165.78 356.95C166.61 355.51 167.46 354.09 168.34 352.69C169.22 351.28 170.13 349.89 171.05 348.51C171.98 347.12 172.93 345.76 173.89 344.4C174.85 343.03 175.84 341.69 176.84 340.34C177.83 339 178.85 337.66 179.87 336.34C180.89 335.01 181.93 333.69 182.98 332.38C184.04 331.07 185.1 329.77 186.19 328.49C187.27 327.2 188.37 325.92 189.48 324.66C190.6 323.39 191.73 322.14 192.88 320.91C194.03 319.67 195.19 318.45 196.37 317.24C197.56 316.03 198.75 314.84 199.97 313.66C201.18 312.48 202.41 311.32 203.65 310.18C204.9 309.03 206.15 307.9 207.43 306.79C208.7 305.68 209.99 304.59 211.29 303.52C212.6 302.44 213.92 301.39 215.25 300.35C216.58 299.32 217.93 298.3 219.29 297.31C220.65 296.31 222.02 295.34 223.41 294.39C224.79 293.44 226.2 292.5 227.61 291.6C229.02 290.69 230.45 289.8 231.89 288.94C233.33 288.08 234.78 287.24 236.24 286.43C237.71 285.62 239.18 284.83 240.67 284.07C242.16 283.31 243.66 282.57 245.17 281.86C246.68 281.15 248.2 280.47 249.73 279.81C251.27 279.16 252.81 278.53 254.37 277.93C255.92 277.33 257.49 276.76 259.07 276.22C260.64 275.68 262.23 275.16 263.82 274.68C265.42 274.2 267.03 273.75 268.64 273.33C270.26 272.91 271.88 272.53 273.52 272.17C275.15 271.82 276.8 271.49 278.45 271.21C280.1 270.92 281.76 270.66 283.43 270.44C285.1 270.22 286.78 270.03 288.46 269.88C290.15 269.73 291.84 269.62 293.54 269.54C295.24 269.46 296.95 269.42 298.67 269.42C300.38 269.41 302.11 269.44 303.83 269.52C305.56 269.59 307.29 269.7 309.01 269.86C310.73 270.02 312.45 270.22 314.15 270.47C315.86 270.72 317.56 271.01 319.23 271.35C320.9 271.7 322.57 272.1 324.2 272.55C325.83 273 327.44 273.5 329.01 274.06C330.58 274.62 332.13 275.24 333.64 275.92C335.14 276.6 336.61 277.33 338.03 278.14C339.45 278.94 340.83 279.81 342.16 280.74C343.49 281.66 344.77 282.66 346.01 283.7C347.25 284.75 348.44 285.85 349.59 287C350.74 288.16 351.84 289.37 352.9 290.61C353.96 291.86 354.98 293.17 355.96 294.5C356.94 295.84 357.87 297.22 358.78 298.63C359.69 300.03 360.55 301.48 361.39 302.95C362.24 304.42 363.04 305.92 363.83 307.43C364.61 308.94 365.37 310.48 366.11 312.03C366.85 313.57 367.57 315.14 368.27 316.7C368.97 318.27 369.66 319.85 370.33 321.42C371.01 322.99 371.67 324.57 372.32 326.15C372.97 327.73 373.6 329.31 374.23 330.89C374.85 332.47 375.46 334.06 376.06 335.65C376.66 337.23 377.24 338.82 377.81 340.41C378.39 342 378.95 343.6 379.5 345.19C380.05 346.79 380.59 348.39 381.11 349.99C381.64 351.59 382.15 353.19 382.65 354.79C383.16 356.4 383.65 358 384.13 359.61C384.61 361.22 385.07 362.83 385.53 364.44C385.99 366.06 386.44 367.67 386.87 369.29C387.31 370.91 387.73 372.52 388.14 374.15C388.56 375.77 388.96 377.39 389.35 379.02C389.74 380.64 390.12 382.27 390.5 383.9C390.87 385.53 391.23 387.16 391.58 388.79C391.93 390.43 392.27 392.06 392.6 393.7C392.93 395.34 393.25 396.98 393.57 398.62C393.88 400.27 394.18 401.91 394.47 403.56C394.76 405.2 395.04 406.85 395.32 408.5C395.59 410.15 395.86 411.81 396.11 413.46C396.37 415.12 396.61 416.78 396.85 418.43C397.09 420.09 397.31 421.76 397.53 423.42C397.75 425.08 397.96 426.75 398.17 428.42C398.37 430.08 398.56 431.75 398.75 433.43C398.94 435.1 399.11 436.77 399.28 438.45C399.45 440.12 399.61 441.8 399.77 443.48C399.92 445.16 400.07 446.85 400.21 448.53C400.34 450.22 400.47 451.9 400.6 453.59C400.72 455.28 400.84 456.97 400.95 458.66C401.05 460.36 401.2 462.9 401.25 463.75L401.25 475.75Z" fill="#6ABD45"/>
<path d="M130.7 38L130.7 50L139 57.5C139.1 58.3 139.39 60.69 139.59 62.31C139.78 63.92 139.97 65.54 140.15 67.17C140.34 68.8 140.53 70.44 140.72 72.08C140.91 73.73 141.09 75.38 141.29 77.04C141.48 78.69 141.67 80.36 141.88 82.02C142.08 83.69 142.28 85.36 142.5 87.03C142.71 88.7 142.93 90.38 143.16 92.05C143.39 93.72 143.63 95.4 143.89 97.07C144.14 98.75 144.4 100.42 144.68 102.09C144.96 103.77 145.25 105.44 145.55 107.1C145.86 108.77 146.18 110.43 146.52 112.09C146.87 113.74 147.22 115.39 147.6 117.04C147.98 118.68 148.38 120.32 148.8 121.95C149.22 123.58 149.67 125.2 150.13 126.82C150.6 128.43 151.09 130.03 151.61 131.62C152.13 133.21 152.68 134.79 153.25 136.36C153.82 137.93 154.42 139.48 155.06 141.02C155.69 142.56 156.35 144.09 157.05 145.6C157.74 147.11 158.47 148.61 159.23 150.09C160 151.56 160.8 153.03 161.63 154.47C162.47 155.91 163.34 157.33 164.25 158.74C165.16 160.14 166.11 161.53 167.1 162.89C168.09 164.25 169.13 165.59 170.2 166.91C171.27 168.22 172.38 169.51 173.53 170.78C174.68 172.04 175.87 173.27 177.08 174.47C178.3 175.67 179.56 176.84 180.84 177.97C182.13 179.1 183.44 180.2 184.79 181.25C186.13 182.3 187.5 183.32 188.9 184.28C190.3 185.25 191.72 186.18 193.16 187.05C194.61 187.92 196.08 188.75 197.57 189.52C199.05 190.29 200.56 191.02 202.09 191.68C203.61 192.34 205.15 192.95 206.71 193.5C208.26 194.04 209.83 194.53 211.41 194.95C212.99 195.37 214.59 195.73 216.19 196.02C217.79 196.31 219.4 196.53 221.01 196.68C222.63 196.83 224.25 196.9 225.87 196.92C227.5 196.94 229.12 196.88 230.75 196.78C232.38 196.68 234.01 196.52 235.63 196.31C237.26 196.1 238.88 195.84 240.5 195.54C242.12 195.24 243.74 194.89 245.35 194.51C246.96 194.13 248.56 193.71 250.15 193.27C251.74 192.82 253.33 192.34 254.9 191.84C256.47 191.33 258.04 190.79 259.59 190.23C261.15 189.66 262.69 189.07 264.22 188.44C265.76 187.82 267.28 187.17 268.79 186.49C270.31 185.82 271.81 185.11 273.3 184.38C274.79 183.65 276.27 182.89 277.74 182.1C279.2 181.32 280.66 180.51 282.1 179.67C283.55 178.84 284.98 177.98 286.4 177.1C287.82 176.21 289.22 175.3 290.62 174.37C292.01 173.44 293.39 172.49 294.76 171.51C296.12 170.54 297.48 169.54 298.82 168.52C300.15 167.5 301.48 166.45 302.79 165.39C304.1 164.33 305.4 163.25 306.68 162.14C307.96 161.04 309.23 159.92 310.48 158.77C311.73 157.63 312.97 156.47 314.19 155.29C315.41 154.11 316.61 152.91 317.8 151.7C318.99 150.48 320.16 149.25 321.31 148C322.47 146.75 323.61 145.49 324.73 144.21C325.85 142.92 326.96 141.63 328.04 140.31C329.13 139 330.2 137.67 331.25 136.33C332.3 134.99 333.33 133.64 334.35 132.27C335.36 130.9 336.36 129.52 337.34 128.12C338.31 126.73 339.27 125.32 340.21 123.9C341.15 122.48 342.07 121.05 342.97 119.61C343.87 118.17 344.75 116.72 345.61 115.26C346.47 113.8 347.31 112.32 348.13 110.84C348.95 109.36 349.75 107.87 350.53 106.37C351.3 104.88 352.06 103.37 352.79 101.86C353.53 100.34 354.24 98.82 354.93 97.29C355.62 95.76 356.29 94.23 356.94 92.69C357.58 91.15 358.21 89.6 358.81 88.05C359.41 86.49 359.99 84.94 360.54 83.38C361.1 81.82 361.63 80.25 362.13 78.68C362.64 77.11 363.13 75.54 363.58 73.97C364.04 72.39 364.48 70.81 364.89 69.23C365.3 67.66 365.68 66.07 366.04 64.49C366.4 62.91 366.74 61.33 367.05 59.75C367.36 58.16 367.76 55.79 367.9 55L381.2 50L381.2 38Z" fill="#F5EC1E"/>
<path d="M148 475.75L148 463.75C148.13 462.94 148.53 460.54 148.78 458.91C149.04 457.29 149.28 455.66 149.53 454.01C149.77 452.37 150.01 450.72 150.25 449.06C150.49 447.4 150.73 445.74 150.97 444.06C151.21 442.39 151.45 440.71 151.69 439.03C151.94 437.35 152.18 435.67 152.43 433.98C152.69 432.3 152.94 430.61 153.21 428.92C153.47 427.23 153.74 425.54 154.03 423.85C154.31 422.16 154.6 420.47 154.9 418.79C155.21 417.11 155.52 415.43 155.86 413.75C156.19 412.07 156.53 410.4 156.89 408.74C157.25 407.07 157.63 405.41 158.03 403.76C158.42 402.12 158.84 400.47 159.27 398.84C159.71 397.21 160.17 395.59 160.65 393.98C161.13 392.37 161.63 390.77 162.16 389.18C162.69 387.6 163.24 386.03 163.82 384.47C164.4 382.91 165.01 381.37 165.65 379.85C166.29 378.32 166.96 376.81 167.66 375.32C168.36 373.83 169.09 372.36 169.84 370.9C170.6 369.44 171.39 368 172.21 366.58C173.02 365.15 173.87 363.75 174.74 362.36C175.62 360.97 176.52 359.6 177.45 358.24C178.38 356.88 179.34 355.55 180.33 354.22C181.32 352.9 182.33 351.59 183.37 350.3C184.4 349 185.46 347.72 186.54 346.45C187.61 345.18 188.71 343.92 189.82 342.67C190.93 341.42 192.06 340.18 193.19 338.94C194.32 337.7 195.47 336.47 196.63 335.24C197.78 334.02 198.95 332.8 200.13 331.59C201.31 330.38 202.49 329.19 203.7 328C204.9 326.81 206.11 325.64 207.33 324.47C208.56 323.31 209.8 322.16 211.05 321.03C212.3 319.9 213.56 318.78 214.83 317.68C216.11 316.58 217.39 315.49 218.69 314.43C220 313.37 221.31 312.32 222.64 311.3C223.96 310.28 225.31 309.27 226.66 308.3C228.02 307.32 229.39 306.36 230.77 305.43C232.15 304.5 233.55 303.59 234.96 302.72C236.38 301.84 237.8 300.99 239.25 300.17C240.69 299.35 242.15 298.55 243.62 297.79C245.1 297.03 246.59 296.3 248.09 295.6C249.6 294.9 251.12 294.24 252.66 293.61C254.19 292.98 255.75 292.38 257.32 291.83C258.89 291.27 260.48 290.75 262.08 290.27C263.69 289.79 265.31 289.34 266.95 288.94C268.59 288.54 270.25 288.18 271.92 287.86C273.59 287.54 275.29 287.27 276.99 287.04C278.68 286.81 280.4 286.62 282.11 286.48C283.83 286.35 285.55 286.26 287.27 286.22C288.99 286.18 290.71 286.19 292.43 286.25C294.14 286.31 295.86 286.42 297.55 286.59C299.25 286.76 300.95 286.98 302.62 287.25C304.29 287.53 305.95 287.86 307.59 288.26C309.22 288.65 310.84 289.1 312.43 289.61C314.01 290.12 315.58 290.7 317.11 291.33C318.64 291.96 320.14 292.66 321.61 293.42C323.09 294.17 324.52 294.98 325.93 295.84C327.34 296.71 328.72 297.62 330.07 298.59C331.42 299.55 332.74 300.56 334.02 301.61C335.31 302.66 336.57 303.75 337.79 304.88C339.02 306.01 340.22 307.18 341.38 308.38C342.55 309.58 343.69 310.81 344.79 312.07C345.9 313.33 346.98 314.61 348.02 315.92C349.07 317.23 350.08 318.56 351.07 319.9C352.06 321.25 353.02 322.61 353.94 323.99C354.87 325.37 355.77 326.77 356.65 328.18C357.52 329.59 358.36 331.02 359.19 332.46C360.01 333.9 360.8 335.36 361.57 336.83C362.34 338.3 363.08 339.78 363.8 341.28C364.52 342.78 365.22 344.29 365.89 345.81C366.56 347.33 367.22 348.87 367.85 350.41C368.48 351.96 369.08 353.51 369.67 355.08C370.26 356.64 370.83 358.22 371.38 359.81C371.93 361.39 372.46 362.99 372.97 364.59C373.49 366.19 373.98 367.81 374.46 369.42C374.94 371.04 375.4 372.67 375.85 374.3C376.3 375.94 376.73 377.58 377.15 379.22C377.56 380.87 377.97 382.52 378.36 384.18C378.75 385.83 379.12 387.5 379.49 389.16C379.85 390.83 380.21 392.49 380.55 394.17C380.89 395.84 381.23 397.51 381.55 399.19C381.87 400.87 382.19 402.55 382.49 404.23C382.8 405.91 383.09 407.59 383.38 409.27C383.68 410.96 383.96 412.64 384.24 414.32C384.51 416 384.78 417.69 385.05 419.37C385.32 421.05 385.58 422.73 385.84 424.4C386.1 426.08 386.35 427.76 386.61 429.43C386.86 431.1 387.11 432.77 387.36 434.43C387.61 436.09 387.86 437.75 388.11 439.41C388.36 441.06 388.61 442.71 388.86 444.36C389.11 446 389.36 447.64 389.61 449.27C389.87 450.9 390.12 452.53 390.38 454.15C390.64 455.76 390.91 457.37 391.18 458.97C391.45 460.57 391.86 462.95 392 463.75L392 475.75Z" fill="#F5EC1E"/>
<path d="M141.5 38L141.5 50L149.8 57.5C149.97 58.24 150.47 60.45 150.79 61.97C151.11 63.49 151.43 65.03 151.74 66.6C152.05 68.17 152.35 69.76 152.66 71.37C152.96 72.98 153.27 74.61 153.57 76.26C153.88 77.9 154.19 79.57 154.5 81.24C154.81 82.92 155.13 84.6 155.46 86.3C155.78 87.99 156.12 89.7 156.46 91.41C156.81 93.11 157.16 94.83 157.53 96.54C157.91 98.26 158.29 99.98 158.69 101.69C159.1 103.4 159.51 105.11 159.95 106.82C160.39 108.52 160.85 110.22 161.34 111.91C161.82 113.6 162.33 115.28 162.86 116.94C163.4 118.61 163.95 120.26 164.54 121.89C165.14 123.53 165.75 125.15 166.41 126.74C167.06 128.34 167.74 129.92 168.46 131.47C169.18 133.02 169.94 134.54 170.73 136.04C171.53 137.54 172.36 139.01 173.24 140.45C174.11 141.89 175.03 143.29 175.99 144.66C176.95 146.03 177.96 147.37 179.01 148.67C180.07 149.96 181.17 151.22 182.31 152.44C183.45 153.65 184.64 154.83 185.86 155.97C187.08 157.1 188.34 158.2 189.64 159.25C190.93 160.3 192.26 161.31 193.62 162.27C194.99 163.23 196.38 164.15 197.8 165.02C199.22 165.89 200.67 166.72 202.15 167.5C203.62 168.27 205.12 169.01 206.64 169.69C208.16 170.36 209.7 171 211.26 171.58C212.81 172.15 214.39 172.68 215.98 173.16C217.56 173.64 219.17 174.06 220.78 174.43C222.39 174.8 224.02 175.11 225.64 175.37C227.27 175.63 228.91 175.83 230.55 175.98C232.19 176.13 233.83 176.22 235.47 176.25C237.12 176.27 238.76 176.25 240.4 176.16C242.03 176.07 243.67 175.92 245.3 175.7C246.92 175.49 248.54 175.22 250.15 174.88C251.76 174.54 253.36 174.14 254.94 173.68C256.53 173.23 258.11 172.71 259.67 172.14C261.23 171.57 262.79 170.94 264.32 170.27C265.86 169.6 267.39 168.87 268.91 168.11C270.42 167.35 271.92 166.53 273.41 165.69C274.9 164.84 276.38 163.95 277.84 163.03C279.3 162.11 280.75 161.16 282.18 160.17C283.61 159.19 285.03 158.17 286.43 157.14C287.84 156.1 289.23 155.03 290.6 153.95C291.97 152.87 293.33 151.77 294.67 150.65C296.01 149.54 297.34 148.4 298.65 147.26C299.96 146.12 301.25 144.97 302.53 143.8C303.8 142.64 305.06 141.46 306.3 140.28C307.54 139.09 308.77 137.9 309.97 136.69C311.18 135.48 312.37 134.26 313.53 133.03C314.7 131.8 315.85 130.56 316.98 129.3C318.11 128.05 319.22 126.78 320.31 125.51C321.4 124.23 322.47 122.94 323.51 121.64C324.56 120.33 325.59 119.02 326.6 117.69C327.6 116.37 328.59 115.03 329.55 113.68C330.51 112.33 331.45 110.96 332.37 109.58C333.29 108.21 334.19 106.82 335.06 105.42C335.93 104.01 336.78 102.6 337.61 101.17C338.43 99.74 339.23 98.3 340.01 96.84C340.79 95.38 341.54 93.92 342.27 92.43C342.99 90.95 343.7 89.45 344.37 87.94C345.05 86.43 345.7 84.91 346.33 83.37C346.95 81.83 347.55 80.28 348.12 78.71C348.69 77.14 349.24 75.56 349.75 73.97C350.27 72.37 350.76 70.76 351.22 69.13C351.68 67.51 352.12 65.87 352.52 64.21C352.93 62.56 353.3 60.89 353.65 59.2C354 57.52 354.44 54.95 354.6 54.1L369.6 50L369.6 38Z" fill="#F58220"/>
<path d="M158.75 475.75L158.75 463.75C158.89 462.94 159.31 460.53 159.6 458.91C159.88 457.29 160.17 455.66 160.45 454.03C160.74 452.4 161.03 450.77 161.33 449.13C161.63 447.49 161.93 445.85 162.23 444.21C162.54 442.57 162.85 440.92 163.17 439.27C163.49 437.63 163.82 435.98 164.15 434.33C164.49 432.68 164.83 431.04 165.19 429.39C165.54 427.74 165.9 426.1 166.28 424.45C166.66 422.81 167.04 421.17 167.44 419.53C167.84 417.89 168.25 416.25 168.68 414.62C169.11 412.99 169.55 411.36 170.01 409.74C170.46 408.12 170.94 406.5 171.43 404.89C171.92 403.27 172.42 401.67 172.95 400.07C173.47 398.47 174.02 396.88 174.58 395.3C175.14 393.72 175.73 392.14 176.33 390.58C176.94 389.01 177.56 387.46 178.21 385.91C178.86 384.36 179.53 382.83 180.23 381.31C180.92 379.78 181.64 378.27 182.39 376.77C183.13 375.27 183.9 373.79 184.7 372.33C185.5 370.86 186.32 369.42 187.18 368C188.03 366.59 188.91 365.19 189.83 363.83C190.74 362.47 191.69 361.14 192.67 359.85C193.64 358.56 194.65 357.3 195.7 356.08C196.74 354.86 197.82 353.69 198.93 352.55C200.04 351.4 201.18 350.3 202.35 349.2C203.51 348.11 204.71 347.05 205.92 346C207.14 344.94 208.38 343.9 209.63 342.86C210.89 341.82 212.16 340.78 213.45 339.73C214.74 338.69 216.04 337.63 217.36 336.57C218.67 335.51 220 334.43 221.34 333.37C222.68 332.3 224.04 331.23 225.41 330.18C226.77 329.12 228.15 328.06 229.54 327.02C230.93 325.99 232.34 324.96 233.75 323.95C235.17 322.95 236.59 321.96 238.03 321C239.47 320.04 240.92 319.11 242.38 318.21C243.84 317.31 245.31 316.43 246.8 315.6C248.28 314.77 249.77 313.98 251.28 313.23C252.78 312.48 254.3 311.78 255.82 311.13C257.35 310.47 258.88 309.87 260.43 309.33C261.98 308.79 263.53 308.29 265.1 307.87C266.66 307.45 268.24 307.09 269.82 306.8C271.4 306.51 273 306.29 274.6 306.14C276.2 305.99 277.8 305.9 279.41 305.89C281.02 305.87 282.64 305.91 284.25 306.02C285.86 306.13 287.48 306.3 289.09 306.53C290.7 306.77 292.31 307.06 293.91 307.4C295.52 307.75 297.12 308.16 298.7 308.62C300.29 309.07 301.87 309.59 303.44 310.15C305.01 310.72 306.57 311.33 308.11 312C309.65 312.66 311.18 313.37 312.69 314.13C314.2 314.89 315.69 315.7 317.16 316.54C318.63 317.39 320.08 318.28 321.51 319.21C322.93 320.14 324.34 321.12 325.71 322.13C327.08 323.13 328.43 324.18 329.75 325.26C331.07 326.34 332.36 327.46 333.61 328.61C334.87 329.76 336.09 330.94 337.28 332.15C338.46 333.36 339.61 334.6 340.72 335.86C341.83 337.13 342.91 338.42 343.94 339.74C344.97 341.05 345.95 342.39 346.9 343.75C347.85 345.11 348.75 346.5 349.62 347.9C350.49 349.31 351.32 350.73 352.12 352.18C352.92 353.62 353.68 355.09 354.41 356.57C355.13 358.05 355.83 359.55 356.49 361.06C357.16 362.58 357.79 364.11 358.4 365.66C359 367.2 359.58 368.76 360.13 370.33C360.68 371.91 361.21 373.5 361.71 375.09C362.21 376.69 362.69 378.3 363.15 379.92C363.61 381.54 364.04 383.17 364.46 384.81C364.88 386.44 365.28 388.09 365.66 389.75C366.05 391.4 366.41 393.06 366.77 394.73C367.12 396.39 367.46 398.06 367.79 399.74C368.12 401.41 368.43 403.1 368.74 404.78C369.05 406.46 369.35 408.14 369.64 409.83C369.93 411.51 370.21 413.2 370.5 414.89C370.78 416.57 371.05 418.26 371.33 419.94C371.6 421.62 371.87 423.3 372.15 424.98C372.42 426.66 372.69 428.33 372.97 430C373.24 431.67 373.52 433.33 373.81 434.99C374.09 436.64 374.38 438.29 374.68 439.93C374.97 441.57 375.28 443.21 375.59 444.83C375.91 446.45 376.23 448.07 376.57 449.67C376.91 451.27 377.25 452.87 377.62 454.44C377.98 456.02 378.36 457.59 378.76 459.14C379.16 460.69 379.79 462.98 380 463.75L380 475.75Z" fill="#F58220"/>
<path d="M151.5 38L151.5 50L164 57.5C164.17 58.25 164.67 60.48 165.01 62.01C165.36 63.54 165.71 65.1 166.07 66.67C166.44 68.25 166.81 69.85 167.19 71.46C167.58 73.08 167.97 74.71 168.38 76.35C168.79 77.99 169.22 79.65 169.66 81.31C170.11 82.96 170.56 84.63 171.04 86.3C171.52 87.97 172.02 89.64 172.54 91.3C173.06 92.97 173.6 94.63 174.17 96.29C174.74 97.94 175.32 99.59 175.94 101.22C176.56 102.85 177.2 104.47 177.87 106.07C178.54 107.67 179.24 109.26 179.98 110.82C180.71 112.37 181.47 113.91 182.27 115.42C183.06 116.93 183.89 118.41 184.76 119.86C185.62 121.31 186.52 122.73 187.46 124.1C188.4 125.48 189.38 126.82 190.4 128.12C191.42 129.41 192.48 130.67 193.58 131.88C194.68 133.08 195.83 134.24 197.02 135.35C198.21 136.45 199.44 137.51 200.73 138.51C202.01 139.5 203.35 140.45 204.72 141.32C206.09 142.2 207.52 143.02 208.97 143.78C210.43 144.54 211.93 145.23 213.45 145.86C214.97 146.49 216.53 147.06 218.11 147.56C219.69 148.07 221.29 148.5 222.91 148.87C224.53 149.24 226.17 149.54 227.82 149.77C229.46 150 231.13 150.17 232.79 150.26C234.45 150.35 236.12 150.37 237.78 150.31C239.44 150.26 241.11 150.13 242.76 149.94C244.42 149.75 246.07 149.49 247.71 149.18C249.35 148.86 250.99 148.48 252.61 148.06C254.23 147.64 255.84 147.16 257.44 146.64C259.03 146.12 260.62 145.55 262.18 144.95C263.75 144.34 265.3 143.7 266.83 143.02C268.36 142.33 269.87 141.61 271.37 140.86C272.87 140.1 274.35 139.31 275.81 138.48C277.27 137.65 278.71 136.79 280.13 135.89C281.55 134.99 282.96 134.06 284.34 133.1C285.72 132.14 287.09 131.15 288.43 130.12C289.77 129.1 291.09 128.05 292.39 126.96C293.69 125.88 294.97 124.77 296.23 123.63C297.48 122.5 298.72 121.33 299.93 120.14C301.14 118.95 302.33 117.74 303.49 116.5C304.66 115.26 305.8 114 306.91 112.71C308.03 111.43 309.12 110.12 310.19 108.8C311.25 107.47 312.29 106.12 313.31 104.76C314.32 103.39 315.31 102.01 316.28 100.61C317.24 99.2 318.17 97.78 319.08 96.35C319.99 94.92 320.87 93.46 321.73 92C322.58 90.54 323.4 89.06 324.2 87.57C324.99 86.08 325.76 84.57 326.5 83.06C327.23 81.55 327.94 80.02 328.62 78.49C329.3 76.95 329.94 75.41 330.56 73.86C331.17 72.31 331.76 70.75 332.31 69.19C332.86 67.63 333.38 66.06 333.87 64.48C334.36 62.91 334.81 61.33 335.24 59.75C335.66 58.17 336.21 55.79 336.4 55L358 50L358 38Z" fill="#ED1C24"/>
<path d="M172 475.75L172 463.75C172.14 462.94 172.55 460.53 172.84 458.91C173.12 457.29 173.42 455.66 173.73 454.03C174.03 452.4 174.35 450.76 174.68 449.12C175.01 447.47 175.35 445.83 175.7 444.18C176.05 442.54 176.42 440.89 176.8 439.24C177.17 437.59 177.57 435.94 177.97 434.29C178.38 432.64 178.8 430.99 179.24 429.34C179.68 427.7 180.13 426.05 180.6 424.41C181.07 422.77 181.56 421.14 182.06 419.51C182.57 417.88 183.09 416.25 183.64 414.63C184.18 413.02 184.74 411.4 185.32 409.8C185.91 408.2 186.51 406.61 187.13 405.02C187.76 403.44 188.4 401.86 189.07 400.3C189.74 398.74 190.43 397.19 191.15 395.65C191.86 394.11 192.6 392.59 193.37 391.08C194.13 389.57 194.92 388.07 195.73 386.59C196.55 385.11 197.39 383.65 198.26 382.21C199.12 380.76 200.02 379.33 200.94 377.92C201.87 376.51 202.82 375.12 203.8 373.75C204.78 372.38 205.79 371.03 206.83 369.71C207.87 368.38 208.94 367.08 210.05 365.8C211.15 364.52 212.29 363.26 213.45 362.03C214.62 360.8 215.82 359.59 217.06 358.41C218.29 357.23 219.56 356.07 220.86 354.95C222.17 353.82 223.51 352.73 224.87 351.66C226.24 350.6 227.64 349.56 229.07 348.57C230.5 347.57 231.95 346.6 233.43 345.68C234.91 344.76 236.41 343.87 237.93 343.03C239.45 342.19 241 341.38 242.55 340.63C244.11 339.87 245.69 339.16 247.28 338.5C248.87 337.84 250.47 337.22 252.08 336.66C253.69 336.1 255.31 335.59 256.94 335.14C258.56 334.69 260.2 334.29 261.83 333.95C263.47 333.62 265.11 333.33 266.74 333.12C268.38 332.9 270.02 332.75 271.64 332.66C273.27 332.57 274.9 332.54 276.52 332.59C278.13 332.64 279.74 332.75 281.34 332.94C282.94 333.13 284.53 333.38 286.1 333.7C287.67 334.02 289.24 334.41 290.78 334.86C292.33 335.31 293.86 335.82 295.38 336.39C296.9 336.96 298.4 337.59 299.88 338.27C301.36 338.96 302.83 339.7 304.28 340.49C305.72 341.28 307.15 342.13 308.56 343.02C309.96 343.91 311.35 344.85 312.71 345.84C314.07 346.82 315.41 347.85 316.73 348.92C318.04 350 319.33 351.11 320.6 352.26C321.86 353.41 323.1 354.61 324.31 355.83C325.52 357.05 326.7 358.31 327.86 359.6C329.01 360.89 330.13 362.22 331.23 363.57C332.32 364.92 333.38 366.3 334.41 367.7C335.44 369.1 336.43 370.53 337.39 371.97C338.35 373.42 339.28 374.89 340.17 376.37C341.06 377.86 341.92 379.36 342.73 380.88C343.55 382.39 344.33 383.93 345.08 385.47C345.82 387.02 346.53 388.57 347.21 390.14C347.89 391.71 348.54 393.29 349.16 394.88C349.78 396.47 350.37 398.08 350.93 399.69C351.5 401.3 352.03 402.92 352.55 404.54C353.06 406.17 353.55 407.8 354.02 409.44C354.49 411.08 354.94 412.72 355.37 414.37C355.8 416.02 356.21 417.68 356.61 419.33C357.01 420.99 357.39 422.65 357.76 424.31C358.13 425.97 358.48 427.63 358.83 429.3C359.17 430.96 359.51 432.62 359.83 434.29C360.16 435.95 360.48 437.61 360.8 439.27C361.11 440.92 361.42 442.58 361.73 444.23C362.04 445.88 362.35 447.53 362.65 449.17C362.96 450.81 363.27 452.45 363.58 454.07C363.89 455.7 364.2 457.32 364.52 458.94C364.84 460.55 365.34 462.95 365.5 463.75L365.5 475.75Z" fill="#ED1C24"/>
<path d="M166.4 38L166.4 50L183 57.5C183.16 58.33 183.57 60.84 183.97 62.5C184.37 64.16 184.85 65.82 185.39 67.47C185.94 69.12 186.56 70.76 187.23 72.38C187.91 73.99 188.66 75.6 189.47 77.18C190.27 78.76 191.14 80.32 192.07 81.85C192.99 83.37 193.97 84.87 195.01 86.34C196.04 87.8 197.13 89.23 198.26 90.61C199.39 92 200.57 93.35 201.79 94.64C203.02 95.94 204.29 97.19 205.59 98.38C206.89 99.58 208.24 100.72 209.62 101.8C210.99 102.88 212.41 103.91 213.85 104.86C215.29 105.81 216.77 106.7 218.26 107.52C219.76 108.33 221.28 109.08 222.83 109.75C224.37 110.41 225.93 111 227.51 111.51C229.09 112.02 230.69 112.45 232.3 112.8C233.91 113.16 235.53 113.43 237.15 113.64C238.78 113.84 240.41 113.96 242.05 114C243.68 114.05 245.32 114.02 246.96 113.91C248.59 113.81 250.22 113.62 251.85 113.37C253.47 113.11 255.09 112.77 256.7 112.36C258.3 111.95 259.9 111.46 261.47 110.91C263.05 110.35 264.62 109.71 266.16 109.01C267.7 108.32 269.23 107.55 270.73 106.72C272.24 105.89 273.72 105 275.18 104.05C276.64 103.11 278.08 102.1 279.49 101.05C280.9 100 282.28 98.9 283.64 97.75C284.99 96.61 286.32 95.41 287.62 94.19C288.91 92.96 290.18 91.69 291.41 90.39C292.64 89.09 293.83 87.75 294.99 86.39C296.15 85.04 297.28 83.64 298.36 82.24C299.45 80.83 300.49 79.39 301.5 77.95C302.5 76.51 303.46 75.04 304.38 73.57C305.3 72.1 306.17 70.62 307 69.13C307.82 67.65 308.6 66.15 309.33 64.67C310.06 63.18 310.74 61.69 311.37 60.21C312 58.73 312.81 56.54 313.1 55.8L338 50L338 38Z" fill="#7D1416"/>
<path d="M188.75 475.75L188.75 463.75C188.97 463.01 189.63 460.8 190.08 459.3C190.53 457.8 191 456.27 191.47 454.73C191.95 453.2 192.43 451.64 192.93 450.07C193.43 448.51 193.95 446.92 194.47 445.34C195 443.75 195.55 442.15 196.11 440.55C196.66 438.95 197.24 437.34 197.83 435.73C198.43 434.12 199.04 432.51 199.67 430.9C200.3 429.29 200.95 427.68 201.63 426.08C202.3 424.48 202.99 422.88 203.71 421.3C204.42 419.71 205.16 418.13 205.92 416.57C206.69 415 207.47 413.45 208.29 411.91C209.1 410.38 209.94 408.86 210.8 407.36C211.67 405.86 212.56 404.37 213.49 402.92C214.41 401.46 215.36 400.03 216.34 398.62C217.33 397.22 218.34 395.83 219.38 394.49C220.43 393.14 221.51 391.82 222.62 390.53C223.73 389.25 224.87 388 226.05 386.78C227.23 385.57 228.45 384.4 229.7 383.26C230.95 382.13 232.24 381.03 233.57 379.99C234.89 378.94 236.26 377.93 237.66 376.98C239.06 376.03 240.51 375.12 241.97 374.27C243.44 373.42 244.94 372.61 246.46 371.87C247.98 371.13 249.53 370.44 251.09 369.82C252.66 369.19 254.25 368.63 255.84 368.13C257.44 367.63 259.06 367.2 260.68 366.84C262.3 366.48 263.93 366.18 265.57 365.96C267.2 365.74 268.84 365.59 270.48 365.52C272.11 365.46 273.75 365.46 275.38 365.55C277 365.64 278.63 365.81 280.23 366.06C281.84 366.3 283.43 366.63 285 367.02C286.57 367.42 288.13 367.89 289.65 368.43C291.17 368.97 292.67 369.58 294.14 370.26C295.6 370.94 297.03 371.7 298.42 372.51C299.81 373.32 301.17 374.21 302.49 375.14C303.81 376.08 305.1 377.08 306.35 378.13C307.6 379.18 308.82 380.29 310 381.45C311.19 382.6 312.34 383.81 313.46 385.05C314.58 386.3 315.66 387.6 316.71 388.92C317.77 390.25 318.79 391.62 319.78 393.02C320.77 394.42 321.72 395.86 322.65 397.33C323.58 398.79 324.48 400.28 325.34 401.8C326.21 403.31 327.05 404.85 327.85 406.4C328.66 407.96 329.44 409.54 330.19 411.12C330.94 412.7 331.66 414.31 332.36 415.91C333.05 417.52 333.72 419.13 334.36 420.75C334.99 422.36 335.61 423.98 336.2 425.6C336.79 427.22 337.35 428.84 337.89 430.46C338.44 432.08 338.96 433.7 339.47 435.32C339.98 436.94 340.47 438.55 340.95 440.16C341.43 441.77 341.89 443.38 342.34 444.97C342.8 446.57 343.24 448.17 343.68 449.75C344.11 451.33 344.54 452.91 344.97 454.48C345.39 456.05 345.81 457.6 346.24 459.15C346.66 460.69 347.29 462.98 347.5 463.75L347.5 475.75Z" fill="#7D1416"/>
</g>
<!-- panel b -->
<clipPath id="clip-b"><rect x="543.75" y="52.25" width="397.75" height="413"/></clipPath>
<g clip-path="url(#clip-b)">
<path d="M587 40.25L587 52.25C587.11 53.03 587.44 55.37 587.66 56.94C587.87 58.52 588.08 60.11 588.29 61.72C588.49 63.32 588.69 64.93 588.89 66.56C589.09 68.18 589.29 69.82 589.49 71.46C589.69 73.11 589.88 74.76 590.08 76.42C590.27 78.09 590.47 79.76 590.67 81.43C590.86 83.11 591.06 84.8 591.26 86.48C591.46 88.17 591.66 89.87 591.87 91.57C592.08 93.27 592.29 94.98 592.5 96.68C592.72 98.39 592.94 100.1 593.16 101.82C593.39 103.53 593.62 105.25 593.86 106.96C594.1 108.68 594.34 110.4 594.6 112.12C594.85 113.83 595.11 115.55 595.38 117.27C595.66 118.99 595.94 120.7 596.23 122.41C596.52 124.13 596.82 125.84 597.14 127.54C597.45 129.25 597.77 130.95 598.11 132.65C598.45 134.35 598.8 136.04 599.17 137.73C599.53 139.41 599.91 141.09 600.31 142.77C600.7 144.44 601.11 146.11 601.53 147.76C601.96 149.42 602.4 151.07 602.86 152.71C603.32 154.35 603.8 155.98 604.3 157.6C604.79 159.22 605.31 160.83 605.84 162.42C606.38 164.02 606.93 165.6 607.51 167.18C608.08 168.75 608.68 170.3 609.3 171.85C609.92 173.39 610.56 174.92 611.22 176.43C611.88 177.95 612.57 179.45 613.28 180.93C614 182.41 614.73 183.87 615.49 185.32C616.26 186.77 617.04 188.2 617.86 189.61C618.67 191.02 619.52 192.41 620.39 193.78C621.26 195.15 622.15 196.5 623.08 197.83C624.01 199.15 624.96 200.46 625.95 201.75C626.94 203.03 627.95 204.29 629 205.53C630.05 206.77 631.13 207.98 632.24 209.17C633.35 210.36 634.5 211.53 635.68 212.66C636.85 213.8 638.07 214.91 639.31 216C640.56 217.08 641.84 218.14 643.16 219.17C644.48 220.19 645.84 221.19 647.23 222.16C648.62 223.13 650.05 224.08 651.52 224.98C652.99 225.89 654.49 226.77 656.04 227.62C657.59 228.46 659.17 229.28 660.8 230.06C662.42 230.84 664.97 231.93 665.8 232.3L663.8 243L690 240L708.7 221.5C709.4 220.38 711.92 216.88 712.9 214.8C713.88 212.72 714.32 209.97 714.6 209C715.25 208.48 717.19 206.91 718.48 205.86C719.78 204.81 721.09 203.76 722.39 202.71C723.7 201.66 725.01 200.61 726.32 199.56C727.63 198.5 728.95 197.45 730.26 196.39C731.58 195.33 732.9 194.27 734.21 193.21C735.53 192.14 736.85 191.08 738.16 190.01C739.48 188.94 740.8 187.86 742.11 186.79C743.43 185.71 744.74 184.63 746.05 183.54C747.36 182.46 748.67 181.37 749.98 180.27C751.28 179.18 752.58 178.08 753.88 176.98C755.18 175.87 756.47 174.76 757.76 173.65C759.05 172.53 760.33 171.41 761.61 170.29C762.88 169.16 764.16 168.03 765.42 166.89C766.68 165.75 767.94 164.6 769.18 163.45C770.43 162.3 771.67 161.14 772.9 159.97C774.13 158.8 775.36 157.63 776.57 156.45C777.78 155.26 778.98 154.07 780.17 152.87C781.36 151.68 782.54 150.47 783.71 149.25C784.88 148.03 786.03 146.81 787.18 145.58C788.32 144.34 789.45 143.1 790.57 141.84C791.69 140.59 792.79 139.33 793.88 138.05C794.97 136.78 796.04 135.5 797.1 134.2C798.16 132.91 799.2 131.6 800.22 130.29C801.25 128.97 802.26 127.64 803.25 126.3C804.24 124.96 805.22 123.61 806.18 122.25C807.13 120.89 808.07 119.52 808.99 118.13C809.91 116.75 810.81 115.35 811.69 113.94C812.57 112.53 813.44 111.11 814.28 109.68C815.12 108.24 815.94 106.8 816.74 105.34C817.54 103.88 818.32 102.41 819.08 100.92C819.83 99.44 820.57 97.94 821.28 96.43C821.99 94.92 822.68 93.4 823.35 91.86C824.01 90.32 824.65 88.77 825.27 87.21C825.89 85.65 826.48 84.07 827.05 82.48C827.62 80.88 828.16 79.28 828.68 77.66C829.2 76.04 829.69 74.4 830.15 72.75C830.62 71.1 831.06 69.44 831.47 67.76C831.88 66.08 832.26 64.39 832.62 62.68C832.97 60.97 833.3 59.25 833.59 57.51C833.89 55.77 834.27 53.13 834.4 52.25L834.4 40.25Z" fill="#3A53A4"/>
<path d="M581.3 477.25L581.3 465.25C581.42 464.42 581.77 461.92 582.01 460.26C582.25 458.59 582.49 456.92 582.75 455.26C583 453.59 583.26 451.92 583.52 450.25C583.78 448.58 584.05 446.91 584.33 445.24C584.6 443.57 584.88 441.9 585.17 440.23C585.45 438.56 585.75 436.89 586.05 435.22C586.35 433.55 586.65 431.88 586.96 430.21C587.27 428.53 587.59 426.86 587.91 425.19C588.24 423.52 588.57 421.85 588.91 420.18C589.24 418.51 589.59 416.84 589.94 415.18C590.29 413.51 590.64 411.84 591.01 410.17C591.37 408.51 591.74 406.84 592.12 405.18C592.5 403.51 592.88 401.85 593.27 400.19C593.67 398.52 594.06 396.86 594.47 395.2C594.88 393.54 595.29 391.89 595.71 390.23C596.13 388.57 596.56 386.92 597 385.27C597.43 383.61 597.88 381.96 598.33 380.32C598.78 378.67 599.24 377.02 599.71 375.38C600.17 373.73 600.65 372.09 601.13 370.45C601.62 368.81 602.11 367.18 602.61 365.54C603.11 363.91 603.61 362.28 604.13 360.65C604.64 359.02 605.17 357.39 605.7 355.77C606.23 354.15 606.77 352.53 607.32 350.92C607.87 349.3 608.43 347.69 609 346.08C609.57 344.47 610.14 342.86 610.73 341.26C611.31 339.66 611.91 338.06 612.51 336.47C613.11 334.87 613.72 333.28 614.34 331.7C614.96 330.11 615.59 328.53 616.23 326.95C616.87 325.37 617.52 323.8 618.18 322.23C618.84 320.66 619.51 319.09 620.18 317.53C620.86 315.97 621.55 314.42 622.25 312.87C622.94 311.32 623.65 309.77 624.37 308.23C625.08 306.69 625.81 305.16 626.54 303.63C627.28 302.1 628.03 300.57 628.78 299.05C629.54 297.53 630.31 296.02 631.09 294.51C631.86 293 632.65 291.5 633.45 290C634.25 288.5 635.06 287.01 635.88 285.53C636.7 284.04 637.53 282.57 638.37 281.09C639.21 279.62 640.06 278.15 640.92 276.69C641.78 275.23 642.66 273.78 643.54 272.33C644.43 270.89 645.32 269.45 646.23 268.01C647.14 266.58 648.05 265.15 648.98 263.74C649.91 262.32 650.85 260.9 651.81 259.5C652.76 258.09 653.72 256.7 654.7 255.31C655.68 253.92 656.66 252.53 657.66 251.16C658.66 249.78 659.67 248.41 660.69 247.06C661.72 245.7 663.28 243.68 663.8 243L690 228L708.7 221.5C709.5 221.64 711.87 222.08 713.47 222.36C715.08 222.65 716.7 222.92 718.33 223.2C719.97 223.48 721.61 223.75 723.27 224.03C724.92 224.31 726.59 224.58 728.27 224.86C729.94 225.14 731.62 225.42 733.31 225.71C735 226 736.69 226.29 738.38 226.59C740.08 226.89 741.78 227.2 743.48 227.52C745.18 227.84 746.88 228.17 748.57 228.51C750.27 228.85 751.97 229.21 753.66 229.58C755.35 229.95 757.04 230.33 758.72 230.73C760.4 231.13 762.07 231.55 763.74 231.99C765.4 232.42 767.06 232.88 768.7 233.36C770.35 233.84 771.98 234.34 773.6 234.87C775.22 235.39 776.83 235.94 778.42 236.52C780 237.1 781.58 237.7 783.13 238.33C784.69 238.96 786.22 239.62 787.74 240.32C789.25 241.01 790.75 241.73 792.22 242.49C793.69 243.25 795.13 244.04 796.56 244.86C797.98 245.69 799.38 246.54 800.76 247.43C802.13 248.32 803.48 249.24 804.81 250.19C806.13 251.14 807.43 252.12 808.71 253.13C809.98 254.14 811.23 255.18 812.45 256.25C813.67 257.32 814.87 258.42 816.04 259.54C817.2 260.67 818.35 261.83 819.46 263.01C820.57 264.19 821.65 265.41 822.71 266.64C823.76 267.88 824.79 269.15 825.79 270.44C826.78 271.73 827.75 273.05 828.69 274.39C829.62 275.73 830.53 277.1 831.41 278.49C832.28 279.88 833.13 281.3 833.95 282.73C834.77 284.17 835.57 285.63 836.33 287.11C837.1 288.58 837.84 290.08 838.56 291.6C839.27 293.11 839.97 294.64 840.64 296.19C841.31 297.74 841.95 299.31 842.58 300.88C843.2 302.46 843.8 304.06 844.39 305.66C844.97 307.26 845.53 308.88 846.08 310.51C846.63 312.13 847.15 313.77 847.66 315.41C848.17 317.06 848.66 318.71 849.14 320.37C849.62 322.03 850.08 323.69 850.53 325.36C850.98 327.03 851.41 328.7 851.84 330.38C852.26 332.05 852.67 333.73 853.07 335.41C853.47 337.09 853.86 338.77 854.24 340.45C854.62 342.12 854.98 343.8 855.35 345.48C855.71 347.15 856.06 348.82 856.4 350.5C856.74 352.17 857.08 353.84 857.41 355.51C857.73 357.18 858.05 358.85 858.36 360.52C858.67 362.19 858.97 363.86 859.27 365.52C859.56 367.19 859.85 368.86 860.13 370.52C860.41 372.19 860.68 373.85 860.95 375.51C861.21 377.18 861.47 378.84 861.72 380.5C861.98 382.16 862.22 383.83 862.46 385.49C862.7 387.15 862.94 388.81 863.16 390.47C863.39 392.13 863.62 393.79 863.83 395.45C864.05 397.11 864.26 398.77 864.47 400.43C864.67 402.09 864.87 403.75 865.07 405.41C865.27 407.07 865.46 408.72 865.65 410.38C865.84 412.04 866.02 413.7 866.2 415.36C866.38 417.02 866.55 418.68 866.72 420.34C866.9 422 867.06 423.66 867.23 425.32C867.39 426.98 867.56 428.64 867.72 430.3C867.87 431.96 868.03 433.62 868.18 435.28C868.34 436.94 868.49 438.6 868.64 440.26C868.79 441.93 868.93 443.59 869.08 445.25C869.22 446.92 869.36 448.58 869.51 450.24C869.65 451.91 869.79 453.57 869.93 455.24C870.07 456.91 870.2 458.57 870.34 460.24C870.48 461.91 870.68 464.42 870.75 465.25L870.75 477.25Z" fill="#3A53A4"/>
<path d="M590.3 40.25L590.3 52.25C590.46 52.99 590.96 55.17 591.27 56.67C591.58 58.16 591.87 59.68 592.16 61.21C592.44 62.75 592.7 64.31 592.96 65.88C593.21 67.46 593.46 69.05 593.69 70.66C593.93 72.27 594.15 73.89 594.37 75.53C594.59 77.17 594.81 78.82 595.02 80.49C595.23 82.15 595.43 83.83 595.63 85.52C595.83 87.21 596.03 88.91 596.23 90.61C596.43 92.32 596.63 94.03 596.83 95.75C597.03 97.47 597.24 99.2 597.45 100.93C597.65 102.66 597.87 104.39 598.08 106.13C598.3 107.87 598.53 109.61 598.76 111.34C599 113.08 599.24 114.82 599.49 116.56C599.75 118.3 600.01 120.03 600.29 121.76C600.57 123.49 600.86 125.22 601.16 126.94C601.47 128.67 601.79 130.38 602.13 132.09C602.47 133.8 602.82 135.5 603.2 137.19C603.58 138.88 603.97 140.56 604.39 142.23C604.81 143.9 605.25 145.56 605.71 147.2C606.17 148.84 606.66 150.48 607.17 152.09C607.69 153.7 608.23 155.3 608.8 156.88C609.37 158.46 609.96 160.02 610.59 161.57C611.22 163.11 611.88 164.63 612.57 166.13C613.26 167.63 613.98 169.12 614.74 170.57C615.5 172.03 616.3 173.46 617.13 174.86C617.96 176.27 618.83 177.65 619.74 179C620.64 180.36 621.59 181.68 622.58 182.98C623.57 184.27 624.6 185.54 625.68 186.77C626.75 188.01 627.87 189.21 629.03 190.38C630.19 191.54 631.39 192.68 632.63 193.77C633.86 194.86 635.14 195.92 636.45 196.92C637.75 197.93 639.1 198.9 640.46 199.82C641.83 200.74 643.23 201.62 644.65 202.44C646.08 203.27 647.53 204.04 649 204.76C650.47 205.48 651.96 206.15 653.47 206.75C654.98 207.36 656.51 207.91 658.05 208.4C659.59 208.88 661.15 209.31 662.71 209.67C664.28 210.03 665.85 210.33 667.44 210.55C669.02 210.77 670.61 210.93 672.2 211.01C673.78 211.1 675.38 211.1 676.97 211.04C678.56 210.98 680.15 210.83 681.74 210.63C683.33 210.43 684.91 210.15 686.49 209.82C688.07 209.48 689.64 209.08 691.2 208.62C692.77 208.17 694.32 207.65 695.86 207.08C697.41 206.52 698.94 205.9 700.46 205.23C701.97 204.56 703.48 203.84 704.97 203.09C706.46 202.33 707.93 201.53 709.4 200.69C710.86 199.86 712.31 198.98 713.75 198.08C715.19 197.18 716.62 196.24 718.04 195.27C719.45 194.31 720.86 193.32 722.26 192.32C723.66 191.31 725.04 190.28 726.42 189.23C727.8 188.19 729.17 187.13 730.53 186.06C731.9 185 733.25 183.91 734.6 182.83C735.95 181.75 737.29 180.66 738.63 179.58C739.97 178.5 741.3 177.41 742.62 176.33C743.95 175.26 745.27 174.18 746.58 173.11C747.9 172.03 749.21 170.96 750.51 169.89C751.81 168.81 753.11 167.74 754.39 166.67C755.68 165.59 756.96 164.52 758.23 163.44C759.51 162.35 760.77 161.27 762.03 160.18C763.28 159.09 764.53 158 765.77 156.9C767 155.8 768.23 154.69 769.45 153.57C770.67 152.46 771.88 151.33 773.08 150.2C774.27 149.06 775.46 147.92 776.64 146.76C777.81 145.61 778.98 144.44 780.13 143.26C781.28 142.08 782.43 140.88 783.55 139.68C784.68 138.47 785.8 137.25 786.9 136.02C788 134.79 789.09 133.55 790.16 132.29C791.24 131.03 792.29 129.76 793.34 128.48C794.38 127.2 795.41 125.91 796.42 124.6C797.43 123.29 798.42 121.97 799.4 120.64C800.38 119.31 801.34 117.96 802.28 116.61C803.22 115.25 804.14 113.88 805.04 112.5C805.95 111.12 806.83 109.72 807.7 108.31C808.56 106.91 809.4 105.49 810.23 104.05C811.05 102.62 811.85 101.18 812.63 99.72C813.41 98.26 814.17 96.79 814.9 95.31C815.64 93.83 816.35 92.33 817.04 90.82C817.72 89.32 818.39 87.8 819.03 86.26C819.67 84.73 820.28 83.19 820.87 81.63C821.46 80.07 822.02 78.5 822.56 76.92C823.09 75.34 823.61 73.74 824.09 72.14C824.57 70.53 825.03 68.91 825.45 67.28C825.88 65.64 826.28 64 826.65 62.34C827.01 60.68 827.35 59.02 827.66 57.33C827.97 55.65 828.36 53.1 828.5 52.25L828.5 40.25Z" fill="#3F7ABD"/>
<path d="M585 477.25L585 465.25C585.11 464.42 585.44 461.94 585.67 460.28C585.9 458.63 586.14 456.98 586.38 455.33C586.63 453.68 586.88 452.04 587.14 450.39C587.4 448.75 587.66 447.11 587.94 445.47C588.21 443.83 588.49 442.2 588.78 440.56C589.07 438.93 589.36 437.29 589.67 435.66C589.97 434.03 590.28 432.4 590.6 430.78C590.91 429.15 591.24 427.53 591.57 425.9C591.9 424.28 592.24 422.66 592.58 421.04C592.93 419.42 593.28 417.8 593.64 416.18C594 414.57 594.37 412.95 594.74 411.34C595.12 409.72 595.5 408.11 595.88 406.5C596.27 404.89 596.67 403.28 597.07 401.67C597.47 400.06 597.88 398.45 598.3 396.84C598.71 395.24 599.14 393.63 599.57 392.03C600 390.42 600.43 388.82 600.88 387.21C601.32 385.61 601.77 384.01 602.23 382.41C602.69 380.81 603.15 379.2 603.63 377.6C604.1 376 604.58 374.4 605.06 372.8C605.55 371.2 606.04 369.6 606.54 368.01C607.04 366.41 607.54 364.81 608.06 363.21C608.57 361.61 609.09 360.01 609.62 358.42C610.14 356.82 610.68 355.22 611.22 353.62C611.76 352.02 612.3 350.43 612.86 348.83C613.41 347.23 613.97 345.63 614.54 344.03C615.11 342.43 615.68 340.83 616.26 339.24C616.84 337.64 617.43 336.04 618.02 334.44C618.62 332.84 619.22 331.23 619.83 329.63C620.43 328.03 621.05 326.43 621.67 324.84C622.3 323.24 622.93 321.64 623.58 320.06C624.22 318.47 624.88 316.88 625.54 315.3C626.21 313.72 626.89 312.15 627.58 310.59C628.27 309.03 628.98 307.47 629.7 305.93C630.42 304.38 631.15 302.85 631.9 301.32C632.66 299.8 633.42 298.29 634.21 296.8C635 295.31 635.8 293.82 636.62 292.36C637.44 290.9 638.28 289.45 639.15 288.02C640.01 286.59 640.89 285.18 641.8 283.79C642.7 282.4 643.63 281.03 644.58 279.68C645.53 278.33 646.5 277 647.5 275.7C648.5 274.4 649.52 273.12 650.57 271.87C651.63 270.62 652.7 269.39 653.81 268.19C654.91 267 656.04 265.82 657.21 264.69C658.37 263.55 659.56 262.44 660.78 261.36C662 260.28 663.25 259.23 664.53 258.22C665.81 257.21 667.12 256.23 668.46 255.28C669.79 254.33 671.16 253.41 672.54 252.52C673.93 251.64 675.34 250.79 676.77 249.97C678.21 249.15 679.66 248.36 681.14 247.61C682.62 246.86 684.11 246.14 685.63 245.45C687.14 244.76 688.68 244.11 690.23 243.49C691.78 242.87 693.35 242.29 694.93 241.73C696.51 241.18 698.11 240.66 699.71 240.18C701.32 239.7 702.94 239.25 704.57 238.83C706.21 238.42 707.85 238.04 709.5 237.69C711.15 237.35 712.81 237.03 714.48 236.76C716.14 236.48 717.81 236.24 719.49 236.04C721.17 235.83 722.85 235.66 724.53 235.52C726.22 235.39 727.91 235.29 729.59 235.23C731.28 235.16 732.97 235.13 734.65 235.14C736.34 235.15 738.03 235.2 739.71 235.28C741.39 235.36 743.07 235.47 744.74 235.63C746.41 235.78 748.08 235.97 749.74 236.2C751.4 236.43 753.06 236.69 754.7 236.99C756.34 237.29 757.98 237.63 759.6 238.01C761.22 238.38 762.84 238.79 764.43 239.24C766.03 239.7 767.62 240.18 769.19 240.71C770.76 241.24 772.31 241.8 773.85 242.4C775.39 243 776.91 243.64 778.41 244.32C779.92 244.99 781.41 245.7 782.88 246.44C784.35 247.19 785.8 247.97 787.23 248.78C788.67 249.59 790.08 250.43 791.48 251.31C792.88 252.18 794.25 253.09 795.61 254.03C796.97 254.97 798.31 255.93 799.63 256.93C800.94 257.93 802.24 258.95 803.52 260.01C804.79 261.06 806.05 262.14 807.28 263.25C808.51 264.35 809.73 265.49 810.91 266.65C812.1 267.81 813.27 268.99 814.41 270.2C815.56 271.4 816.68 272.64 817.77 273.89C818.87 275.14 819.94 276.42 820.99 277.71C822.03 279.01 823.06 280.33 824.05 281.66C825.05 283 826.02 284.36 826.97 285.73C827.91 287.11 828.83 288.5 829.73 289.91C830.62 291.32 831.49 292.75 832.32 294.19C833.16 295.64 833.97 297.09 834.76 298.57C835.54 300.04 836.3 301.53 837.02 303.03C837.75 304.53 838.45 306.04 839.13 307.57C839.8 309.09 840.45 310.63 841.07 312.18C841.7 313.73 842.3 315.29 842.88 316.86C843.45 318.43 844.01 320.01 844.54 321.6C845.08 323.19 845.59 324.79 846.08 326.4C846.58 328 847.05 329.62 847.5 331.24C847.96 332.86 848.4 334.49 848.82 336.12C849.24 337.76 849.64 339.4 850.03 341.04C850.42 342.69 850.79 344.34 851.15 345.99C851.51 347.65 851.86 349.31 852.19 350.97C852.53 352.63 852.85 354.29 853.16 355.96C853.47 357.62 853.77 359.29 854.06 360.95C854.35 362.62 854.64 364.29 854.91 365.96C855.19 367.63 855.45 369.29 855.71 370.96C855.97 372.63 856.23 374.3 856.47 375.96C856.72 377.63 856.96 379.3 857.19 380.96C857.43 382.63 857.65 384.29 857.88 385.96C858.1 387.63 858.32 389.29 858.53 390.96C858.74 392.62 858.95 394.28 859.15 395.95C859.36 397.61 859.56 399.27 859.75 400.93C859.95 402.6 860.14 404.26 860.33 405.92C860.52 407.58 860.71 409.24 860.9 410.9C861.08 412.56 861.26 414.22 861.44 415.87C861.63 417.53 861.8 419.19 861.98 420.84C862.16 422.5 862.34 424.15 862.52 425.81C862.69 427.46 862.87 429.11 863.05 430.76C863.22 432.41 863.4 434.06 863.58 435.71C863.76 437.36 863.93 439.01 864.11 440.66C864.29 442.3 864.48 443.95 864.66 445.59C864.84 447.24 865.03 448.88 865.22 450.52C865.41 452.16 865.6 453.8 865.79 455.44C865.98 457.08 866.18 458.71 866.38 460.35C866.59 461.98 866.9 464.43 867 465.25L867 477.25Z" fill="#3F7ABD"/>
<path d="M595.8 40.25L595.8 52.25C595.96 53.07 596.44 55.52 596.74 57.16C597.03 58.8 597.31 60.44 597.58 62.08C597.84 63.71 598.09 65.36 598.33 67C598.58 68.64 598.8 70.28 599.03 71.92C599.25 73.57 599.46 75.21 599.67 76.85C599.88 78.5 600.08 80.14 600.28 81.79C600.48 83.43 600.67 85.08 600.87 86.72C601.07 88.37 601.26 90.01 601.46 91.66C601.66 93.31 601.86 94.95 602.07 96.6C602.28 98.24 602.49 99.89 602.71 101.54C602.93 103.18 603.16 104.83 603.4 106.47C603.64 108.12 603.89 109.76 604.16 111.41C604.42 113.05 604.7 114.7 605 116.34C605.29 117.99 605.6 119.63 605.93 121.27C606.26 122.91 606.61 124.56 606.98 126.2C607.36 127.84 607.75 129.48 608.17 131.12C608.59 132.76 609.03 134.39 609.5 136.03C609.97 137.67 610.47 139.3 610.99 140.94C611.52 142.57 612.08 144.21 612.67 145.84C613.26 147.47 613.88 149.1 614.54 150.72C615.2 152.34 615.89 153.95 616.61 155.54C617.33 157.13 618.09 158.72 618.89 160.27C619.68 161.83 620.51 163.37 621.37 164.87C622.24 166.38 623.14 167.86 624.08 169.3C625.02 170.74 626 172.15 627.01 173.52C628.03 174.89 629.08 176.22 630.17 177.5C631.27 178.77 632.4 180.01 633.57 181.19C634.75 182.36 635.96 183.49 637.21 184.56C638.46 185.62 639.76 186.63 641.09 187.57C642.42 188.52 643.78 189.4 645.18 190.22C646.57 191.04 648 191.8 649.44 192.48C650.89 193.17 652.37 193.79 653.87 194.34C655.36 194.89 656.88 195.38 658.41 195.78C659.94 196.19 661.5 196.53 663.05 196.79C664.61 197.05 666.19 197.24 667.76 197.35C669.34 197.46 670.92 197.49 672.51 197.44C674.1 197.4 675.68 197.27 677.27 197.09C678.86 196.9 680.45 196.64 682.04 196.34C683.63 196.03 685.23 195.66 686.81 195.25C688.4 194.84 689.99 194.37 691.57 193.88C693.15 193.38 694.73 192.84 696.3 192.28C697.87 191.73 699.44 191.13 701 190.53C702.56 189.92 704.11 189.29 705.66 188.64C707.2 187.99 708.74 187.32 710.27 186.63C711.8 185.93 713.33 185.22 714.84 184.49C716.36 183.76 717.86 183.01 719.36 182.24C720.86 181.47 722.35 180.68 723.83 179.87C725.31 179.06 726.78 178.23 728.24 177.38C729.7 176.54 731.15 175.67 732.59 174.79C734.03 173.9 735.46 173 736.88 172.08C738.3 171.16 739.71 170.22 741.11 169.27C742.5 168.31 743.89 167.34 745.27 166.35C746.64 165.36 748 164.35 749.35 163.33C750.7 162.3 752.04 161.26 753.36 160.21C754.69 159.15 756 158.08 757.3 156.99C758.6 155.9 759.88 154.8 761.16 153.68C762.43 152.56 763.68 151.43 764.93 150.28C766.17 149.13 767.4 147.96 768.61 146.78C769.83 145.6 771.03 144.41 772.21 143.2C773.39 142 774.56 140.77 775.71 139.54C776.86 138.3 778 137.05 779.12 135.79C780.24 134.53 781.34 133.25 782.43 131.96C783.51 130.67 784.58 129.37 785.64 128.06C786.69 126.74 787.72 125.42 788.74 124.08C789.75 122.74 790.75 121.39 791.73 120.03C792.71 118.67 793.67 117.29 794.62 115.91C795.56 114.52 796.48 113.12 797.38 111.72C798.29 110.31 799.17 108.89 800.04 107.46C800.9 106.03 801.74 104.59 802.57 103.15C803.39 101.7 804.19 100.24 804.98 98.77C805.76 97.3 806.52 95.82 807.26 94.34C808 92.85 808.72 91.35 809.41 89.85C810.11 88.34 810.78 86.83 811.43 85.31C812.08 83.78 812.71 82.25 813.31 80.71C813.92 79.17 814.5 77.63 815.06 76.07C815.62 74.52 816.15 72.96 816.66 71.39C817.17 69.82 817.66 68.25 818.12 66.66C818.58 65.08 819.02 63.49 819.43 61.9C819.85 60.3 820.23 58.7 820.59 57.09C820.96 55.48 821.43 53.06 821.6 52.25L821.6 40.25Z" fill="#6DCBDD"/>
<path d="M588.2 477.25L588.2 465.25C588.3 464.42 588.61 461.92 588.83 460.26C589.05 458.6 589.27 456.94 589.51 455.28C589.75 453.63 590 451.98 590.25 450.33C590.51 448.68 590.77 447.03 591.04 445.39C591.32 443.74 591.6 442.1 591.89 440.46C592.18 438.82 592.48 437.19 592.79 435.55C593.1 433.92 593.42 432.29 593.74 430.66C594.07 429.03 594.4 427.4 594.75 425.78C595.09 424.16 595.44 422.53 595.8 420.91C596.16 419.29 596.53 417.68 596.91 416.06C597.28 414.45 597.67 412.83 598.06 411.22C598.46 409.61 598.86 408 599.27 406.39C599.68 404.78 600.1 403.18 600.52 401.58C600.95 399.97 601.38 398.37 601.82 396.77C602.27 395.17 602.72 393.57 603.17 391.97C603.63 390.38 604.1 388.78 604.57 387.19C605.04 385.59 605.52 384 606.01 382.41C606.5 380.82 607 379.23 607.5 377.64C608 376.05 608.52 374.46 609.03 372.87C609.55 371.29 610.08 369.7 610.61 368.12C611.15 366.53 611.69 364.95 612.23 363.37C612.78 361.79 613.34 360.21 613.9 358.63C614.46 357.05 615.03 355.47 615.61 353.89C616.18 352.31 616.77 350.73 617.36 349.15C617.95 347.58 618.54 346 619.15 344.42C619.75 342.85 620.36 341.27 620.98 339.7C621.6 338.12 622.22 336.55 622.85 334.97C623.48 333.4 624.12 331.82 624.76 330.25C625.41 328.68 626.06 327.1 626.72 325.54C627.38 323.97 628.05 322.4 628.73 320.84C629.41 319.28 630.1 317.73 630.8 316.18C631.5 314.64 632.21 313.1 632.94 311.57C633.67 310.04 634.41 308.52 635.17 307.01C635.92 305.5 636.69 304.01 637.48 302.53C638.27 301.04 639.08 299.58 639.9 298.12C640.72 296.67 641.56 295.23 642.43 293.82C643.29 292.4 644.17 291 645.07 289.62C645.98 288.24 646.9 286.88 647.85 285.54C648.79 284.2 649.76 282.89 650.76 281.6C651.75 280.31 652.77 279.04 653.82 277.8C654.86 276.56 655.93 275.34 657.03 274.16C658.13 272.97 659.26 271.81 660.41 270.69C661.57 269.56 662.75 268.46 663.97 267.4C665.19 266.34 666.43 265.31 667.71 264.31C668.99 263.31 670.3 262.35 671.63 261.42C672.97 260.49 674.33 259.6 675.72 258.74C677.12 257.87 678.53 257.05 679.98 256.25C681.42 255.46 682.89 254.7 684.37 253.98C685.86 253.26 687.37 252.57 688.91 251.91C690.44 251.26 691.99 250.64 693.56 250.05C695.13 249.47 696.72 248.92 698.33 248.41C699.93 247.89 701.56 247.41 703.19 246.97C704.83 246.52 706.48 246.12 708.14 245.74C709.81 245.37 711.48 245.03 713.17 244.73C714.86 244.43 716.55 244.17 718.26 243.94C719.96 243.71 721.67 243.52 723.39 243.37C725.1 243.21 726.83 243.1 728.55 243.02C730.27 242.94 731.99 242.9 733.71 242.9C735.43 242.89 737.15 242.93 738.86 243.01C740.57 243.08 742.28 243.2 743.98 243.36C745.68 243.51 747.37 243.71 749.05 243.95C750.73 244.18 752.4 244.46 754.06 244.78C755.71 245.1 757.35 245.46 758.98 245.86C760.6 246.27 762.2 246.71 763.79 247.2C765.38 247.69 766.95 248.21 768.5 248.78C770.05 249.35 771.59 249.95 773.1 250.6C774.61 251.24 776.11 251.92 777.59 252.64C779.06 253.35 780.52 254.11 781.96 254.9C783.39 255.68 784.81 256.51 786.21 257.36C787.6 258.22 788.98 259.11 790.33 260.03C791.69 260.95 793.03 261.9 794.34 262.88C795.65 263.86 796.94 264.87 798.22 265.91C799.49 266.95 800.73 268.02 801.96 269.11C803.19 270.21 804.39 271.33 805.57 272.48C806.76 273.62 807.92 274.8 809.05 275.99C810.19 277.19 811.3 278.41 812.39 279.65C813.48 280.89 814.55 282.15 815.59 283.44C816.63 284.72 817.65 286.02 818.64 287.35C819.63 288.67 820.6 290.01 821.55 291.37C822.49 292.73 823.41 294.11 824.3 295.5C825.2 296.89 826.06 298.3 826.91 299.73C827.75 301.15 828.56 302.59 829.35 304.04C830.15 305.49 830.91 306.95 831.65 308.43C832.4 309.91 833.12 311.4 833.81 312.9C834.51 314.4 835.18 315.92 835.83 317.44C836.48 318.97 837.11 320.51 837.72 322.05C838.33 323.6 838.91 325.16 839.48 326.73C840.05 328.3 840.6 329.87 841.13 331.46C841.66 333.05 842.17 334.64 842.66 336.25C843.15 337.85 843.63 339.46 844.09 341.09C844.54 342.71 844.99 344.33 845.41 345.97C845.84 347.6 846.25 349.24 846.64 350.89C847.04 352.54 847.42 354.19 847.79 355.85C848.15 357.51 848.51 359.18 848.85 360.85C849.19 362.52 849.51 364.19 849.83 365.87C850.15 367.54 850.45 369.23 850.75 370.91C851.04 372.6 851.32 374.28 851.6 375.97C851.87 377.66 852.14 379.36 852.39 381.05C852.65 382.75 852.89 384.44 853.13 386.14C853.37 387.84 853.6 389.53 853.83 391.23C854.06 392.93 854.27 394.63 854.49 396.33C854.7 398.02 854.91 399.72 855.11 401.42C855.32 403.11 855.51 404.81 855.71 406.5C855.91 408.19 856.1 409.88 856.29 411.57C856.48 413.26 856.66 414.94 856.85 416.62C857.03 418.3 857.22 419.98 857.4 421.66C857.59 423.33 857.77 425 857.95 426.66C858.14 428.33 858.32 429.99 858.51 431.64C858.69 433.29 858.88 434.94 859.07 436.58C859.26 438.22 859.45 439.85 859.65 441.48C859.85 443.11 860.05 444.73 860.25 446.34C860.46 447.95 860.67 449.56 860.88 451.15C861.1 452.75 861.32 454.33 861.55 455.91C861.77 457.49 862.01 459.05 862.25 460.61C862.49 462.17 862.87 464.48 863 465.25L863 477.25Z" fill="#6DCBDD"/>
<path d="M600.8 40.25L600.8 52.25C600.97 52.99 601.48 55.21 601.8 56.72C602.11 58.23 602.42 59.77 602.71 61.32C603 62.88 603.28 64.46 603.55 66.05C603.82 67.64 604.08 69.26 604.34 70.88C604.6 72.51 604.85 74.15 605.1 75.81C605.35 77.46 605.59 79.13 605.84 80.8C606.08 82.48 606.33 84.17 606.57 85.87C606.82 87.56 607.07 89.26 607.33 90.97C607.58 92.68 607.84 94.39 608.11 96.11C608.38 97.82 608.66 99.54 608.95 101.26C609.24 102.98 609.54 104.7 609.85 106.42C610.16 108.13 610.49 109.85 610.83 111.56C611.18 113.27 611.54 114.97 611.92 116.67C612.3 118.37 612.7 120.06 613.12 121.74C613.54 123.42 613.99 125.09 614.46 126.75C614.93 128.4 615.42 130.05 615.94 131.68C616.47 133.31 617.01 134.93 617.6 136.53C618.18 138.12 618.79 139.71 619.43 141.27C620.08 142.83 620.76 144.37 621.47 145.89C622.19 147.41 622.94 148.91 623.73 150.38C624.52 151.85 625.35 153.3 626.22 154.72C627.09 156.14 628.01 157.53 628.97 158.89C629.93 160.26 630.93 161.59 631.98 162.89C633.02 164.18 634.12 165.45 635.25 166.67C636.38 167.89 637.56 169.07 638.77 170.19C639.98 171.32 641.23 172.4 642.51 173.42C643.79 174.43 645.11 175.4 646.46 176.29C647.81 177.18 649.19 178.02 650.59 178.77C652 179.53 653.44 180.22 654.9 180.82C656.36 181.42 657.84 181.95 659.35 182.39C660.86 182.83 662.39 183.18 663.93 183.46C665.48 183.74 667.04 183.93 668.62 184.06C670.2 184.2 671.79 184.25 673.39 184.25C674.99 184.24 676.61 184.17 678.23 184.05C679.85 183.93 681.48 183.74 683.1 183.51C684.73 183.28 686.37 182.99 688 182.67C689.63 182.34 691.26 181.97 692.89 181.56C694.52 181.16 696.14 180.71 697.75 180.23C699.37 179.76 700.97 179.25 702.57 178.72C704.17 178.19 705.75 177.63 707.33 177.05C708.9 176.46 710.47 175.85 712.02 175.21C713.58 174.58 715.12 173.91 716.66 173.22C718.19 172.54 719.71 171.82 721.22 171.08C722.73 170.34 724.23 169.58 725.72 168.79C727.2 168.01 728.68 167.19 730.14 166.36C731.6 165.53 733.05 164.67 734.49 163.79C735.92 162.91 737.34 162 738.75 161.08C740.16 160.16 741.56 159.21 742.94 158.24C744.32 157.28 745.69 156.29 747.04 155.28C748.39 154.27 749.73 153.24 751.06 152.19C752.38 151.14 753.69 150.07 754.98 148.99C756.27 147.9 757.55 146.79 758.81 145.67C760.07 144.54 761.32 143.4 762.55 142.24C763.78 141.08 764.99 139.9 766.19 138.7C767.38 137.51 768.56 136.29 769.72 135.07C770.88 133.84 772.03 132.59 773.15 131.33C774.28 130.07 775.39 128.8 776.48 127.51C777.57 126.22 778.64 124.91 779.69 123.59C780.74 122.27 781.78 120.94 782.79 119.59C783.81 118.24 784.8 116.88 785.78 115.51C786.75 114.14 787.71 112.75 788.64 111.35C789.58 109.95 790.49 108.54 791.39 107.12C792.28 105.7 793.16 104.27 794.01 102.82C794.86 101.38 795.69 99.93 796.5 98.46C797.31 97 798.1 95.52 798.86 94.04C799.63 92.56 800.37 91.06 801.09 89.56C801.82 88.06 802.51 86.55 803.19 85.03C803.86 83.52 804.52 81.99 805.14 80.46C805.77 78.93 806.38 77.39 806.96 75.84C807.54 74.3 808.09 72.74 808.63 71.18C809.16 69.63 809.67 68.06 810.15 66.49C810.63 64.92 811.09 63.35 811.52 61.77C811.95 60.19 812.36 58.61 812.74 57.02C813.12 55.43 813.62 53.05 813.8 52.25L813.8 40.25Z" fill="#6FC06B"/>
<path d="M592.4 477.25L592.4 465.25C592.53 464.43 592.91 461.96 593.18 460.31C593.44 458.67 593.72 457.03 594 455.39C594.28 453.75 594.57 452.11 594.86 450.47C595.16 448.83 595.46 447.2 595.77 445.56C596.08 443.93 596.4 442.3 596.73 440.67C597.05 439.04 597.38 437.41 597.72 435.78C598.06 434.16 598.41 432.53 598.77 430.91C599.12 429.28 599.48 427.66 599.85 426.04C600.22 424.42 600.6 422.8 600.98 421.18C601.37 419.56 601.76 417.94 602.16 416.33C602.55 414.71 602.96 413.09 603.37 411.48C603.78 409.87 604.2 408.26 604.63 406.64C605.06 405.03 605.49 403.42 605.93 401.81C606.37 400.21 606.82 398.6 607.28 396.99C607.73 395.39 608.2 393.78 608.67 392.18C609.14 390.57 609.61 388.97 610.1 387.37C610.58 385.76 611.07 384.16 611.57 382.56C612.07 380.96 612.57 379.36 613.08 377.76C613.59 376.16 614.11 374.57 614.64 372.97C615.16 371.37 615.7 369.78 616.24 368.18C616.78 366.58 617.32 364.99 617.88 363.39C618.43 361.8 618.99 360.21 619.56 358.61C620.12 357.02 620.7 355.43 621.28 353.84C621.86 352.25 622.45 350.65 623.04 349.06C623.64 347.47 624.24 345.88 624.84 344.29C625.45 342.7 626.07 341.12 626.69 339.53C627.31 337.94 627.94 336.35 628.57 334.76C629.21 333.17 629.85 331.58 630.5 330C631.15 328.41 631.8 326.83 632.47 325.25C633.14 323.67 633.82 322.09 634.51 320.52C635.2 318.96 635.9 317.4 636.62 315.85C637.34 314.3 638.07 312.76 638.82 311.23C639.57 309.71 640.33 308.19 641.12 306.7C641.91 305.2 642.71 303.72 643.54 302.26C644.37 300.8 645.22 299.36 646.1 297.94C646.97 296.53 647.87 295.13 648.8 293.76C649.73 292.38 650.68 291.04 651.66 289.72C652.64 288.4 653.65 287.11 654.7 285.85C655.74 284.59 656.81 283.36 657.92 282.16C659.03 280.97 660.17 279.81 661.35 278.68C662.52 277.56 663.73 276.47 664.98 275.41C666.22 274.36 667.49 273.34 668.79 272.35C670.1 271.37 671.43 270.42 672.79 269.51C674.15 268.6 675.53 267.72 676.94 266.88C678.35 266.05 679.79 265.24 681.25 264.48C682.7 263.71 684.19 262.98 685.69 262.29C687.19 261.6 688.71 260.94 690.25 260.32C691.79 259.71 693.35 259.12 694.92 258.58C696.49 258.04 698.08 257.53 699.68 257.06C701.29 256.6 702.9 256.17 704.53 255.77C706.16 255.38 707.8 255.03 709.45 254.71C711.09 254.39 712.75 254.12 714.42 253.88C716.08 253.64 717.75 253.44 719.43 253.28C721.1 253.11 722.78 252.99 724.46 252.91C726.14 252.82 727.83 252.78 729.52 252.77C731.2 252.77 732.89 252.8 734.57 252.88C736.25 252.95 737.93 253.06 739.61 253.22C741.28 253.37 742.96 253.57 744.62 253.8C746.29 254.03 747.95 254.31 749.6 254.62C751.24 254.94 752.89 255.29 754.52 255.69C756.15 256.08 757.77 256.52 759.37 256.99C760.98 257.46 762.58 257.98 764.16 258.53C765.74 259.08 767.31 259.67 768.86 260.29C770.42 260.91 771.96 261.58 773.48 262.27C775 262.97 776.51 263.7 778 264.46C779.49 265.23 780.96 266.03 782.41 266.86C783.86 267.69 785.3 268.55 786.71 269.45C788.12 270.34 789.52 271.27 790.89 272.23C792.26 273.19 793.61 274.18 794.93 275.19C796.26 276.21 797.56 277.26 798.84 278.33C800.11 279.41 801.37 280.51 802.59 281.64C803.82 282.77 805.02 283.93 806.2 285.11C807.37 286.29 808.52 287.5 809.63 288.73C810.75 289.97 811.84 291.22 812.9 292.5C813.96 293.78 814.98 295.09 815.98 296.41C816.98 297.74 817.94 299.09 818.87 300.46C819.8 301.83 820.7 303.22 821.57 304.63C822.44 306.04 823.28 307.47 824.09 308.91C824.89 310.36 825.67 311.82 826.43 313.3C827.18 314.78 827.9 316.28 828.6 317.79C829.3 319.3 829.97 320.83 830.62 322.37C831.27 323.91 831.9 325.47 832.5 327.03C833.11 328.6 833.69 330.17 834.25 331.76C834.81 333.35 835.35 334.94 835.88 336.55C836.4 338.16 836.9 339.77 837.39 341.39C837.88 343.01 838.34 344.64 838.8 346.28C839.26 347.91 839.69 349.55 840.12 351.2C840.55 352.84 840.96 354.49 841.36 356.14C841.76 357.79 842.15 359.45 842.53 361.1C842.91 362.76 843.28 364.41 843.65 366.07C844.01 367.72 844.36 369.38 844.71 371.04C845.05 372.69 845.39 374.35 845.72 376C846.05 377.66 846.37 379.31 846.68 380.97C847 382.62 847.3 384.28 847.6 385.93C847.9 387.59 848.19 389.24 848.48 390.9C848.77 392.55 849.04 394.21 849.32 395.86C849.59 397.52 849.86 399.17 850.12 400.82C850.38 402.48 850.63 404.13 850.88 405.79C851.13 407.44 851.37 409.09 851.61 410.75C851.85 412.4 852.08 414.05 852.31 415.71C852.53 417.36 852.76 419.01 852.98 420.67C853.19 422.32 853.41 423.97 853.62 425.63C853.82 427.28 854.03 428.93 854.23 430.58C854.43 432.23 854.63 433.89 854.82 435.54C855.02 437.19 855.21 438.84 855.39 440.49C855.58 442.15 855.76 443.8 855.94 445.45C856.12 447.1 856.3 448.75 856.48 450.4C856.65 452.05 856.83 453.7 857 455.35C857.17 457 857.34 458.65 857.5 460.3C857.67 461.95 857.92 464.43 858 465.25L858 477.25Z" fill="#6FC06B"/>
<path d="M607.4 40.25L607.4 52.25C607.52 52.98 607.88 55.13 608.12 56.62C608.35 58.11 608.58 59.64 608.82 61.19C609.05 62.74 609.28 64.32 609.52 65.92C609.76 67.53 609.99 69.16 610.24 70.8C610.48 72.45 610.73 74.12 610.99 75.81C611.24 77.49 611.5 79.19 611.78 80.91C612.05 82.62 612.33 84.35 612.63 86.08C612.92 87.81 613.22 89.56 613.55 91.3C613.87 93.05 614.2 94.8 614.55 96.55C614.91 98.3 615.27 100.06 615.66 101.8C616.05 103.55 616.45 105.29 616.88 107.03C617.31 108.77 617.76 110.5 618.23 112.21C618.71 113.93 619.2 115.64 619.73 117.32C620.25 119.01 620.8 120.69 621.38 122.34C621.96 124 622.56 125.63 623.2 127.24C623.84 128.85 624.51 130.44 625.21 132C625.91 133.56 626.65 135.09 627.42 136.59C628.19 138.09 629 139.56 629.84 141C630.69 142.43 631.57 143.83 632.5 145.19C633.42 146.54 634.38 147.86 635.39 149.14C636.4 150.41 637.45 151.64 638.54 152.83C639.64 154.01 640.78 155.15 641.97 156.23C643.15 157.31 644.39 158.35 645.66 159.33C646.93 160.31 648.24 161.24 649.59 162.11C650.94 162.98 652.33 163.79 653.74 164.55C655.15 165.3 656.6 166 658.08 166.64C659.55 167.28 661.06 167.85 662.58 168.37C664.1 168.88 665.65 169.33 667.22 169.71C668.78 170.1 670.37 170.42 671.97 170.66C673.56 170.91 675.18 171.09 676.8 171.21C678.42 171.32 680.05 171.37 681.69 171.36C683.32 171.34 684.97 171.26 686.61 171.13C688.25 170.99 689.9 170.79 691.54 170.54C693.18 170.28 694.82 169.97 696.45 169.61C698.07 169.24 699.7 168.82 701.31 168.35C702.92 167.88 704.52 167.36 706.11 166.79C707.69 166.23 709.27 165.61 710.84 164.96C712.4 164.3 713.96 163.6 715.5 162.86C717.04 162.12 718.57 161.34 720.09 160.53C721.6 159.72 723.11 158.87 724.6 157.99C726.09 157.11 727.57 156.19 729.03 155.25C730.5 154.32 731.95 153.35 733.38 152.35C734.82 151.36 736.24 150.35 737.65 149.31C739.05 148.28 740.44 147.22 741.82 146.14C743.2 145.07 744.56 143.98 745.9 142.88C747.25 141.78 748.58 140.66 749.89 139.54C751.2 138.41 752.5 137.28 753.78 136.14C755.05 134.99 756.32 133.84 757.56 132.68C758.81 131.52 760.03 130.34 761.24 129.16C762.45 127.98 763.64 126.79 764.82 125.58C765.99 124.38 767.14 123.16 768.28 121.94C769.42 120.71 770.53 119.47 771.63 118.23C772.73 116.98 773.81 115.71 774.86 114.44C775.92 113.17 776.96 111.88 777.98 110.58C778.99 109.28 779.99 107.97 780.97 106.65C781.94 105.32 782.9 103.98 783.84 102.63C784.77 101.28 785.68 99.91 786.57 98.53C787.46 97.15 788.33 95.75 789.18 94.34C790.02 92.93 790.84 91.51 791.64 90.07C792.43 88.63 793.2 87.17 793.95 85.7C794.69 84.23 795.41 82.74 796.09 81.24C796.78 79.73 797.44 78.21 798.06 76.67C798.69 75.14 799.29 73.58 799.85 72.01C800.42 70.43 800.95 68.84 801.45 67.24C801.95 65.63 802.42 64 802.85 62.35C803.28 60.71 803.68 59.04 804.04 57.36C804.39 55.68 804.84 53.1 805 52.25L805 40.25Z" fill="#6ABD45"/>
<path d="M596.2 477.25L596.2 465.25C596.28 464.38 596.52 461.77 596.7 460.05C596.88 458.32 597.08 456.61 597.3 454.9C597.52 453.2 597.76 451.5 598.01 449.81C598.26 448.12 598.53 446.44 598.81 444.77C599.09 443.1 599.39 441.44 599.7 439.78C600.02 438.13 600.35 436.48 600.69 434.84C601.03 433.2 601.39 431.57 601.76 429.94C602.13 428.31 602.52 426.69 602.91 425.08C603.31 423.46 603.72 421.85 604.15 420.25C604.57 418.65 605.01 417.05 605.45 415.45C605.9 413.86 606.36 412.27 606.83 410.69C607.3 409.1 607.79 407.52 608.28 405.95C608.77 404.37 609.27 402.8 609.79 401.23C610.3 399.66 610.82 398.1 611.36 396.53C611.89 394.97 612.43 393.41 612.98 391.85C613.53 390.29 614.09 388.74 614.66 387.18C615.23 385.63 615.8 384.07 616.39 382.52C616.97 380.97 617.56 379.42 618.16 377.87C618.76 376.32 619.36 374.77 619.97 373.22C620.58 371.66 621.2 370.11 621.82 368.56C622.44 367.01 623.07 365.46 623.7 363.91C624.34 362.36 624.98 360.8 625.62 359.25C626.26 357.69 626.91 356.13 627.56 354.57C628.21 353.01 628.86 351.45 629.52 349.89C630.18 348.32 630.84 346.75 631.5 345.18C632.16 343.61 632.83 342.04 633.5 340.46C634.16 338.88 634.83 337.3 635.5 335.71C636.17 334.13 636.85 332.53 637.52 330.94C638.19 329.35 638.87 327.74 639.55 326.15C640.23 324.55 640.92 322.96 641.61 321.37C642.31 319.78 643.02 318.2 643.74 316.62C644.46 315.05 645.19 313.49 645.94 311.94C646.69 310.4 647.45 308.86 648.23 307.35C649.02 305.84 649.82 304.34 650.65 302.88C651.48 301.41 652.33 299.96 653.21 298.54C654.09 297.13 654.99 295.74 655.93 294.38C656.86 293.03 657.83 291.7 658.83 290.42C659.83 289.13 660.86 287.88 661.93 286.68C663.01 285.47 664.11 284.3 665.27 283.19C666.42 282.07 667.61 280.99 668.84 279.97C670.08 278.95 671.35 277.97 672.67 277.05C673.98 276.12 675.34 275.24 676.72 274.41C678.11 273.58 679.53 272.8 680.98 272.06C682.44 271.32 683.92 270.63 685.43 269.98C686.94 269.33 688.48 268.73 690.04 268.18C691.61 267.62 693.19 267.11 694.8 266.64C696.4 266.17 698.03 265.75 699.67 265.36C701.32 264.98 702.98 264.64 704.65 264.35C706.32 264.05 708.01 263.8 709.7 263.58C711.39 263.37 713.1 263.2 714.81 263.07C716.51 262.93 718.23 262.84 719.95 262.79C721.66 262.74 723.38 262.73 725.1 262.76C726.82 262.78 728.53 262.85 730.24 262.95C731.95 263.06 733.66 263.2 735.36 263.38C737.05 263.56 738.75 263.78 740.43 264.03C742.11 264.28 743.79 264.57 745.45 264.9C747.11 265.22 748.77 265.59 750.41 265.98C752.06 266.38 753.69 266.81 755.31 267.28C756.93 267.75 758.54 268.25 760.13 268.79C761.73 269.32 763.31 269.9 764.87 270.5C766.44 271.1 767.99 271.74 769.52 272.41C771.05 273.08 772.57 273.78 774.07 274.52C775.57 275.25 777.05 276.02 778.52 276.82C779.98 277.62 781.42 278.45 782.85 279.31C784.27 280.17 785.67 281.06 787.05 281.98C788.43 282.9 789.79 283.85 791.13 284.84C792.47 285.82 793.78 286.83 795.07 287.87C796.35 288.91 797.62 289.98 798.86 291.07C800.09 292.17 801.31 293.3 802.49 294.45C803.68 295.6 804.84 296.78 805.96 297.99C807.09 299.19 808.19 300.43 809.26 301.69C810.34 302.95 811.38 304.23 812.39 305.55C813.4 306.86 814.37 308.2 815.32 309.56C816.27 310.92 817.18 312.31 818.06 313.72C818.94 315.13 819.78 316.57 820.59 318.03C821.4 319.49 822.18 320.97 822.92 322.48C823.66 323.98 824.37 325.51 825.04 327.05C825.72 328.6 826.37 330.16 826.99 331.74C827.61 333.32 828.2 334.91 828.77 336.52C829.34 338.13 829.88 339.75 830.41 341.38C830.93 343.01 831.43 344.65 831.92 346.29C832.41 347.94 832.88 349.6 833.33 351.25C833.79 352.91 834.23 354.57 834.66 356.23C835.09 357.9 835.51 359.56 835.92 361.22C836.33 362.88 836.73 364.55 837.13 366.2C837.53 367.86 837.92 369.51 838.31 371.16C838.7 372.81 839.08 374.45 839.46 376.09C839.84 377.74 840.21 379.37 840.57 381.01C840.94 382.65 841.3 384.28 841.65 385.92C842 387.55 842.35 389.18 842.69 390.81C843.03 392.44 843.37 394.07 843.69 395.7C844.02 397.33 844.34 398.96 844.66 400.58C844.97 402.21 845.28 403.84 845.58 405.47C845.88 407.1 846.17 408.72 846.46 410.35C846.74 411.98 847.02 413.61 847.3 415.25C847.57 416.88 847.83 418.51 848.09 420.15C848.34 421.79 848.59 423.42 848.83 425.06C849.08 426.71 849.31 428.35 849.53 430C849.76 431.64 849.98 433.29 850.19 434.95C850.39 436.6 850.59 438.26 850.79 439.92C850.98 441.58 851.16 443.25 851.34 444.92C851.51 446.59 851.68 448.27 851.83 449.95C851.99 451.63 852.14 453.32 852.28 455.01C852.42 456.71 852.55 458.41 852.67 460.11C852.79 461.82 852.94 464.39 853 465.25L853 477.25Z" fill="#6ABD45"/>
<path d="M614 40.25L614 52.25C614.16 53.05 614.65 55.43 614.97 57.03C615.29 58.63 615.6 60.23 615.91 61.84C616.22 63.45 616.53 65.06 616.84 66.68C617.16 68.29 617.47 69.91 617.79 71.54C618.12 73.17 618.44 74.79 618.79 76.43C619.13 78.06 619.47 79.7 619.84 81.33C620.21 82.97 620.58 84.61 620.98 86.26C621.38 87.9 621.8 89.55 622.24 91.19C622.68 92.84 623.14 94.49 623.63 96.14C624.12 97.79 624.63 99.45 625.18 101.1C625.73 102.75 626.3 104.41 626.91 106.06C627.52 107.71 628.17 109.37 628.85 111.02C629.54 112.67 630.26 114.33 631.02 115.98C631.78 117.62 632.58 119.26 633.42 120.87C634.25 122.49 635.13 124.09 636.04 125.66C636.95 127.22 637.9 128.77 638.89 130.26C639.88 131.76 640.9 133.23 641.96 134.64C643.03 136.05 644.12 137.42 645.26 138.72C646.39 140.02 647.57 141.27 648.77 142.44C649.98 143.62 651.22 144.73 652.5 145.76C653.78 146.78 655.1 147.73 656.44 148.6C657.79 149.47 659.18 150.25 660.59 150.96C662 151.67 663.44 152.3 664.9 152.85C666.37 153.41 667.86 153.89 669.38 154.29C670.89 154.7 672.43 155.04 673.98 155.3C675.53 155.57 677.11 155.77 678.69 155.9C680.28 156.03 681.88 156.1 683.49 156.1C685.1 156.11 686.72 156.04 688.35 155.93C689.98 155.81 691.62 155.62 693.25 155.39C694.89 155.15 696.53 154.86 698.17 154.51C699.81 154.17 701.45 153.76 703.09 153.31C704.72 152.86 706.36 152.36 707.98 151.81C709.6 151.26 711.21 150.66 712.81 150.02C714.41 149.38 716.01 148.69 717.58 147.96C719.15 147.23 720.71 146.46 722.25 145.65C723.78 144.84 725.3 143.99 726.8 143.1C728.29 142.22 729.76 141.3 731.21 140.35C732.65 139.4 734.07 138.41 735.46 137.39C736.86 136.38 738.22 135.33 739.57 134.26C740.92 133.19 742.24 132.09 743.55 130.97C744.85 129.85 746.13 128.7 747.39 127.53C748.65 126.37 749.89 125.18 751.12 123.97C752.34 122.77 753.54 121.54 754.73 120.3C755.92 119.07 757.09 117.81 758.25 116.54C759.4 115.28 760.54 114 761.67 112.71C762.8 111.42 763.91 110.12 765.01 108.82C766.11 107.52 767.2 106.21 768.28 104.9C769.36 103.58 770.43 102.27 771.48 100.95C772.54 99.63 773.59 98.32 774.63 97C775.66 95.68 776.69 94.36 777.7 93.03C778.7 91.71 779.69 90.37 780.65 89.03C781.61 87.68 782.56 86.32 783.46 84.95C784.37 83.57 785.25 82.19 786.09 80.78C786.93 79.37 787.74 77.94 788.5 76.48C789.26 75.03 789.99 73.55 790.66 72.04C791.34 70.53 791.97 68.99 792.54 67.42C793.11 65.85 793.63 64.25 794.09 62.6C794.55 60.96 794.96 59.28 795.29 57.55C795.63 55.83 795.97 53.13 796.1 52.25L796.1 40.25Z" fill="#F5EC1E"/>
<path d="M601.4 477.25L601.4 465.25C601.47 464.38 601.67 461.75 601.84 460.02C602.02 458.29 602.21 456.58 602.43 454.88C602.65 453.18 602.9 451.49 603.16 449.81C603.42 448.13 603.71 446.47 604.02 444.81C604.32 443.15 604.65 441.51 605 439.88C605.34 438.24 605.71 436.62 606.09 435C606.47 433.38 606.87 431.78 607.29 430.18C607.71 428.57 608.14 426.98 608.59 425.4C609.04 423.81 609.5 422.23 609.98 420.66C610.45 419.08 610.94 417.52 611.45 415.95C611.95 414.39 612.47 412.83 612.99 411.28C613.52 409.72 614.06 408.17 614.61 406.62C615.16 405.07 615.71 403.53 616.28 401.98C616.85 400.44 617.42 398.9 618.01 397.35C618.59 395.81 619.18 394.27 619.77 392.73C620.37 391.18 620.97 389.64 621.58 388.1C622.18 386.55 622.8 385.01 623.41 383.46C624.02 381.91 624.64 380.36 625.26 378.81C625.88 377.25 626.51 375.7 627.13 374.13C627.75 372.57 628.37 371.01 629 369.43C629.62 367.86 630.24 366.28 630.86 364.7C631.49 363.12 632.11 361.53 632.73 359.94C633.36 358.35 633.99 356.76 634.62 355.17C635.25 353.58 635.89 351.99 636.54 350.4C637.19 348.81 637.84 347.23 638.51 345.65C639.18 344.07 639.85 342.49 640.54 340.93C641.23 339.37 641.94 337.81 642.66 336.26C643.38 334.72 644.11 333.18 644.87 331.66C645.62 330.14 646.39 328.62 647.19 327.13C647.99 325.64 648.8 324.16 649.64 322.7C650.48 321.24 651.35 319.8 652.24 318.38C653.13 316.96 654.04 315.56 654.99 314.18C655.94 312.81 656.91 311.46 657.92 310.13C658.93 308.8 659.97 307.5 661.05 306.23C662.12 304.96 663.23 303.72 664.37 302.5C665.52 301.29 666.7 300.11 667.91 298.96C669.12 297.81 670.36 296.69 671.63 295.6C672.91 294.52 674.21 293.47 675.54 292.45C676.87 291.43 678.22 290.45 679.6 289.5C680.98 288.56 682.39 287.64 683.82 286.77C685.25 285.9 686.7 285.06 688.17 284.27C689.64 283.47 691.14 282.71 692.65 281.99C694.16 281.28 695.69 280.6 697.23 279.96C698.77 279.33 700.33 278.74 701.9 278.19C703.48 277.64 705.06 277.13 706.66 276.66C708.26 276.2 709.86 275.78 711.48 275.41C713.1 275.04 714.72 274.71 716.35 274.43C717.98 274.16 719.62 273.92 721.26 273.74C722.91 273.56 724.55 273.43 726.2 273.34C727.85 273.26 729.5 273.23 731.15 273.24C732.79 273.26 734.44 273.33 736.09 273.46C737.73 273.58 739.38 273.75 741.01 273.97C742.65 274.19 744.28 274.47 745.91 274.79C747.53 275.1 749.15 275.47 750.76 275.89C752.37 276.3 753.97 276.76 755.56 277.26C757.15 277.77 758.73 278.32 760.29 278.91C761.86 279.5 763.41 280.13 764.95 280.81C766.48 281.48 768 282.2 769.51 282.95C771.01 283.71 772.5 284.51 773.96 285.34C775.43 286.17 776.88 287.05 778.3 287.95C779.73 288.86 781.13 289.81 782.51 290.79C783.89 291.76 785.25 292.78 786.57 293.83C787.9 294.87 789.21 295.95 790.49 297.06C791.76 298.17 793.01 299.32 794.23 300.49C795.45 301.66 796.64 302.86 797.79 304.09C798.95 305.32 800.07 306.58 801.16 307.87C802.25 309.15 803.31 310.46 804.33 311.8C805.34 313.14 806.33 314.5 807.27 315.88C808.22 317.27 809.12 318.68 809.99 320.1C810.86 321.53 811.68 322.98 812.47 324.45C813.26 325.92 814.01 327.41 814.74 328.92C815.46 330.42 816.15 331.95 816.82 333.48C817.48 335.02 818.11 336.57 818.73 338.13C819.34 339.7 819.93 341.27 820.5 342.86C821.07 344.44 821.61 346.03 822.15 347.63C822.69 349.23 823.2 350.84 823.71 352.45C824.22 354.07 824.71 355.68 825.2 357.3C825.7 358.92 826.17 360.54 826.65 362.16C827.14 363.78 827.61 365.41 828.09 367.02C828.56 368.64 829.04 370.26 829.51 371.88C829.98 373.49 830.45 375.11 830.92 376.72C831.39 378.33 831.85 379.95 832.31 381.56C832.77 383.17 833.23 384.79 833.68 386.4C834.13 388.01 834.58 389.62 835.02 391.24C835.46 392.85 835.9 394.46 836.32 396.08C836.75 397.69 837.17 399.3 837.58 400.92C838 402.53 838.4 404.15 838.8 405.77C839.19 407.39 839.58 409.01 839.96 410.63C840.33 412.25 840.7 413.87 841.06 415.5C841.41 417.12 841.76 418.75 842.09 420.38C842.42 422.01 842.75 423.64 843.05 425.27C843.36 426.91 843.66 428.55 843.94 430.19C844.22 431.83 844.49 433.47 844.75 435.12C845 436.77 845.24 438.42 845.46 440.08C845.68 441.73 845.89 443.39 846.08 445.05C846.27 446.72 846.45 448.39 846.6 450.06C846.76 451.73 846.9 453.41 847.02 455.09C847.13 456.77 847.24 458.46 847.32 460.15C847.4 461.85 847.47 464.4 847.5 465.25L847.5 477.25Z" fill="#F5EC1E"/>
<path d="M623.2 40.25L623.2 52.25C623.35 52.97 623.8 55.09 624.12 56.56C624.45 58.04 624.78 59.56 625.13 61.11C625.48 62.65 625.85 64.24 626.24 65.84C626.62 67.44 627.02 69.07 627.45 70.72C627.87 72.36 628.31 74.03 628.78 75.71C629.24 77.38 629.73 79.08 630.24 80.77C630.75 82.46 631.29 84.16 631.85 85.85C632.41 87.55 633 89.25 633.62 90.93C634.23 92.62 634.88 94.3 635.55 95.96C636.23 97.62 636.93 99.27 637.67 100.89C638.41 102.52 639.17 104.12 639.98 105.7C640.78 107.27 641.62 108.82 642.49 110.33C643.37 111.84 644.28 113.32 645.23 114.75C646.18 116.18 647.16 117.58 648.19 118.92C649.22 120.26 650.29 121.56 651.4 122.8C652.51 124.03 653.66 125.22 654.86 126.34C656.06 127.46 657.3 128.53 658.59 129.52C659.88 130.51 661.21 131.44 662.58 132.3C663.95 133.15 665.36 133.95 666.8 134.66C668.23 135.38 669.71 136.03 671.2 136.61C672.7 137.19 674.23 137.7 675.77 138.13C677.31 138.56 678.88 138.93 680.46 139.21C682.03 139.5 683.63 139.71 685.23 139.84C686.83 139.98 688.45 140.04 690.06 140.02C691.67 140 693.3 139.9 694.91 139.72C696.52 139.55 698.14 139.29 699.74 138.95C701.34 138.62 702.94 138.19 704.52 137.71C706.11 137.22 707.69 136.66 709.25 136.04C710.82 135.42 712.37 134.73 713.92 134C715.46 133.27 716.99 132.48 718.51 131.66C720.03 130.83 721.54 129.95 723.03 129.05C724.52 128.15 726 127.21 727.47 126.26C728.93 125.3 730.38 124.32 731.81 123.32C733.24 122.32 734.66 121.31 736.06 120.28C737.45 119.24 738.84 118.2 740.2 117.13C741.56 116.06 742.9 114.98 744.22 113.88C745.54 112.78 746.84 111.66 748.12 110.53C749.4 109.39 750.66 108.24 751.89 107.07C753.12 105.9 754.33 104.72 755.52 103.51C756.7 102.31 757.86 101.09 758.99 99.86C760.12 98.62 761.23 97.37 762.31 96.1C763.39 94.83 764.44 93.54 765.46 92.24C766.48 90.93 767.48 89.61 768.44 88.28C769.4 86.94 770.33 85.59 771.23 84.22C772.12 82.84 772.99 81.46 773.82 80.05C774.65 78.64 775.45 77.22 776.21 75.77C776.97 74.33 777.7 72.86 778.38 71.37C779.06 69.88 779.71 68.37 780.32 66.83C780.92 65.29 781.49 63.73 782.01 62.13C782.53 60.54 783.01 58.93 783.44 57.28C783.87 55.63 784.41 53.09 784.6 52.25L784.6 40.25Z" fill="#F58220"/>
<path d="M607.2 477.25L607.2 465.25C607.32 464.4 607.68 461.86 607.94 460.18C608.2 458.49 608.48 456.82 608.77 455.15C609.07 453.49 609.37 451.83 609.69 450.18C610.01 448.53 610.35 446.89 610.7 445.26C611.05 443.62 611.41 442 611.79 440.38C612.16 438.76 612.55 437.14 612.95 435.53C613.35 433.93 613.77 432.32 614.19 430.73C614.62 429.13 615.06 427.54 615.51 425.95C615.96 424.36 616.43 422.78 616.9 421.2C617.37 419.63 617.86 418.05 618.36 416.48C618.85 414.91 619.36 413.34 619.88 411.78C620.4 410.22 620.92 408.66 621.46 407.1C622 405.54 622.55 403.98 623.11 402.43C623.66 400.87 624.23 399.32 624.81 397.77C625.38 396.21 625.97 394.66 626.56 393.11C627.16 391.56 627.76 390.01 628.37 388.46C628.98 386.91 629.6 385.36 630.23 383.81C630.86 382.26 631.49 380.71 632.13 379.16C632.77 377.6 633.42 376.05 634.08 374.49C634.73 372.94 635.4 371.38 636.06 369.82C636.73 368.26 637.41 366.69 638.09 365.13C638.77 363.56 639.46 361.99 640.15 360.43C640.85 358.86 641.56 357.29 642.27 355.73C642.99 354.17 643.71 352.61 644.45 351.06C645.19 349.5 645.94 347.96 646.71 346.42C647.47 344.88 648.25 343.35 649.05 341.83C649.84 340.32 650.65 338.81 651.49 337.32C652.32 335.83 653.16 334.35 654.03 332.9C654.9 331.44 655.79 329.99 656.7 328.57C657.61 327.15 658.54 325.75 659.5 324.37C660.46 322.99 661.44 321.63 662.45 320.3C663.45 318.97 664.49 317.66 665.55 316.38C666.61 315.11 667.69 313.86 668.81 312.64C669.93 311.42 671.08 310.23 672.26 309.07C673.44 307.92 674.65 306.8 675.89 305.71C677.14 304.63 678.41 303.58 679.72 302.57C681.03 301.56 682.37 300.59 683.74 299.65C685.11 298.72 686.5 297.83 687.92 296.97C689.35 296.12 690.79 295.31 692.26 294.54C693.73 293.77 695.23 293.04 696.74 292.36C698.25 291.68 699.79 291.04 701.33 290.44C702.88 289.85 704.45 289.3 706.03 288.8C707.62 288.3 709.21 287.85 710.82 287.44C712.43 287.04 714.05 286.68 715.68 286.38C717.31 286.07 718.95 285.82 720.6 285.61C722.24 285.41 723.89 285.26 725.55 285.16C727.2 285.06 728.87 285.01 730.53 285.02C732.19 285.03 733.85 285.1 735.51 285.22C737.17 285.34 738.83 285.51 740.48 285.74C742.13 285.97 743.78 286.25 745.42 286.58C747.05 286.91 748.68 287.3 750.3 287.73C751.91 288.17 753.52 288.65 755.11 289.18C756.69 289.72 758.27 290.3 759.82 290.93C761.37 291.56 762.91 292.24 764.41 292.96C765.92 293.68 767.41 294.45 768.87 295.26C770.33 296.07 771.77 296.93 773.17 297.82C774.57 298.72 775.95 299.66 777.29 300.65C778.63 301.63 779.94 302.65 781.21 303.71C782.49 304.78 783.73 305.88 784.94 307.01C786.15 308.15 787.33 309.32 788.48 310.52C789.62 311.72 790.74 312.96 791.83 314.22C792.92 315.48 793.98 316.77 795.01 318.09C796.04 319.41 797.05 320.75 798.02 322.11C799 323.48 799.95 324.87 800.88 326.27C801.8 327.68 802.7 329.11 803.58 330.55C804.46 331.99 805.31 333.45 806.14 334.92C806.97 336.39 807.78 337.87 808.56 339.37C809.35 340.86 810.11 342.36 810.85 343.87C811.6 345.39 812.32 346.91 813.02 348.44C813.73 349.96 814.41 351.5 815.07 353.05C815.74 354.59 816.38 356.15 817.01 357.71C817.64 359.27 818.25 360.83 818.84 362.41C819.43 363.98 820.01 365.56 820.57 367.15C821.13 368.74 821.67 370.33 822.19 371.93C822.72 373.53 823.23 375.13 823.73 376.74C824.23 378.35 824.71 379.96 825.18 381.58C825.64 383.2 826.1 384.82 826.54 386.45C826.98 388.08 827.41 389.71 827.83 391.34C828.24 392.98 828.65 394.62 829.04 396.26C829.43 397.9 829.81 399.54 830.18 401.18C830.56 402.83 830.92 404.48 831.27 406.13C831.62 407.78 831.96 409.43 832.29 411.08C832.63 412.73 832.95 414.38 833.27 416.04C833.58 417.69 833.89 419.34 834.19 421C834.5 422.65 834.79 424.31 835.08 425.96C835.37 427.61 835.65 429.27 835.93 430.92C836.2 432.57 836.47 434.22 836.74 435.87C837.01 437.52 837.27 439.17 837.53 440.81C837.79 442.46 838.04 444.1 838.3 445.74C838.55 447.38 838.8 449.02 839.05 450.65C839.3 452.28 839.54 453.92 839.79 455.54C840.03 457.17 840.27 458.79 840.52 460.41C840.76 462.03 841.13 464.44 841.25 465.25L841.25 477.25Z" fill="#F58220"/>
<path d="M633.1 40.25L633.1 52.25C633.25 53 633.67 55.21 634.01 56.74C634.34 58.27 634.71 59.84 635.12 61.43C635.52 63.03 635.96 64.65 636.44 66.28C636.92 67.92 637.44 69.57 637.99 71.23C638.54 72.88 639.13 74.56 639.76 76.22C640.39 77.88 641.06 79.54 641.77 81.19C642.47 82.83 643.22 84.48 644.01 86.09C644.8 87.7 645.63 89.3 646.5 90.86C647.38 92.43 648.29 93.97 649.25 95.46C650.21 96.95 651.21 98.41 652.26 99.82C653.3 101.22 654.39 102.58 655.53 103.88C656.66 105.18 657.85 106.42 659.07 107.59C660.3 108.77 661.58 109.88 662.9 110.9C664.22 111.93 665.6 112.89 667.01 113.76C668.42 114.63 669.88 115.42 671.37 116.14C672.86 116.85 674.38 117.48 675.93 118.03C677.47 118.58 679.05 119.05 680.63 119.44C682.21 119.83 683.82 120.14 685.43 120.36C687.03 120.58 688.65 120.73 690.26 120.78C691.88 120.84 693.5 120.82 695.1 120.71C696.7 120.6 698.29 120.4 699.87 120.12C701.44 119.85 703 119.48 704.54 119.04C706.07 118.6 707.59 118.08 709.1 117.49C710.6 116.9 712.08 116.23 713.55 115.5C715.01 114.77 716.46 113.97 717.89 113.12C719.32 112.27 720.73 111.35 722.12 110.38C723.51 109.42 724.89 108.39 726.24 107.33C727.6 106.26 728.94 105.14 730.26 103.99C731.58 102.84 732.88 101.64 734.16 100.41C735.44 99.18 736.71 97.91 737.96 96.62C739.2 95.33 740.43 94.01 741.64 92.67C742.85 91.33 744.05 89.96 745.22 88.59C746.39 87.21 747.55 85.81 748.69 84.41C749.83 83.01 750.94 81.6 752.05 80.19C753.15 78.77 754.23 77.35 755.3 75.94C756.36 74.53 757.41 73.12 758.44 71.72C759.46 70.32 760.47 68.93 761.47 67.55C762.46 66.18 763.43 64.82 764.39 63.49C765.34 62.16 766.28 60.84 767.2 59.56C768.12 58.28 769.02 57.02 769.91 55.8C770.79 54.58 772.07 52.84 772.5 52.25L772.5 40.25Z" fill="#ED1C24"/>
<path d="M612.7 477.25L612.7 465.25C612.84 464.4 613.23 461.82 613.52 460.12C613.81 458.42 614.11 456.73 614.44 455.05C614.76 453.37 615.09 451.7 615.44 450.04C615.79 448.38 616.16 446.73 616.54 445.09C616.92 443.44 617.32 441.81 617.73 440.18C618.14 438.56 618.56 436.94 619 435.32C619.44 433.71 619.89 432.11 620.35 430.51C620.82 428.91 621.29 427.32 621.78 425.73C622.27 424.14 622.78 422.56 623.29 420.99C623.81 419.41 624.34 417.84 624.88 416.28C625.42 414.71 625.97 413.15 626.53 411.6C627.09 410.04 627.67 408.49 628.25 406.94C628.84 405.39 629.43 403.84 630.04 402.3C630.65 400.75 631.26 399.21 631.89 397.68C632.52 396.14 633.16 394.6 633.8 393.07C634.45 391.53 635.11 390 635.77 388.46C636.44 386.93 637.11 385.4 637.8 383.87C638.48 382.34 639.17 380.81 639.87 379.27C640.57 377.74 641.28 376.21 642 374.68C642.72 373.14 643.44 371.61 644.17 370.07C644.9 368.54 645.64 367 646.39 365.46C647.14 363.92 647.89 362.38 648.65 360.84C649.42 359.3 650.19 357.77 650.98 356.24C651.77 354.71 652.57 353.18 653.38 351.67C654.2 350.15 655.03 348.64 655.88 347.15C656.72 345.66 657.59 344.17 658.47 342.71C659.36 341.24 660.26 339.79 661.19 338.36C662.12 336.93 663.07 335.52 664.04 334.13C665.02 332.74 666.01 331.37 667.04 330.03C668.07 328.69 669.12 327.38 670.21 326.09C671.29 324.81 672.4 323.55 673.55 322.33C674.7 321.1 675.87 319.91 677.09 318.76C678.3 317.61 679.54 316.48 680.83 315.41C682.11 314.33 683.44 313.29 684.79 312.29C686.15 311.3 687.54 310.34 688.96 309.43C690.38 308.52 691.84 307.65 693.32 306.84C694.8 306.02 696.31 305.25 697.83 304.53C699.36 303.81 700.91 303.13 702.47 302.52C704.04 301.9 705.63 301.33 707.22 300.82C708.82 300.31 710.43 299.85 712.05 299.45C713.67 299.05 715.3 298.71 716.93 298.43C718.56 298.15 720.2 297.92 721.84 297.76C723.48 297.6 725.12 297.5 726.75 297.47C728.38 297.44 730.02 297.47 731.64 297.57C733.26 297.67 734.87 297.84 736.47 298.07C738.07 298.3 739.67 298.6 741.25 298.96C742.83 299.32 744.39 299.74 745.95 300.22C747.5 300.7 749.05 301.24 750.57 301.83C752.1 302.42 753.61 303.07 755.11 303.77C756.61 304.46 758.09 305.22 759.55 306.01C761.01 306.81 762.46 307.66 763.89 308.55C765.31 309.43 766.72 310.37 768.11 311.35C769.5 312.32 770.87 313.34 772.22 314.39C773.56 315.44 774.89 316.53 776.19 317.66C777.49 318.78 778.78 319.94 780.03 321.13C781.29 322.32 782.52 323.54 783.72 324.78C784.93 326.03 786.11 327.31 787.26 328.6C788.42 329.9 789.55 331.22 790.64 332.56C791.74 333.9 792.81 335.26 793.85 336.64C794.89 338.01 795.9 339.41 796.88 340.81C797.86 342.22 798.81 343.64 799.73 345.07C800.65 346.5 801.54 347.95 802.4 349.4C803.26 350.86 804.09 352.33 804.9 353.81C805.71 355.29 806.49 356.78 807.24 358.28C808 359.78 808.73 361.29 809.43 362.82C810.14 364.34 810.82 365.87 811.48 367.41C812.14 368.95 812.78 370.5 813.39 372.06C814.01 373.62 814.6 375.19 815.18 376.76C815.75 378.33 816.3 379.92 816.84 381.51C817.38 383.1 817.89 384.69 818.4 386.29C818.9 387.9 819.38 389.51 819.85 391.12C820.32 392.74 820.77 394.36 821.21 395.98C821.65 397.61 822.07 399.24 822.48 400.87C822.89 402.51 823.29 404.15 823.68 405.79C824.06 407.43 824.44 409.08 824.8 410.72C825.17 412.37 825.52 414.03 825.87 415.68C826.21 417.33 826.55 418.99 826.88 420.65C827.21 422.3 827.53 423.96 827.85 425.62C828.17 427.28 828.48 428.94 828.78 430.6C829.09 432.26 829.39 433.92 829.69 435.58C829.99 437.24 830.28 438.9 830.57 440.56C830.87 442.22 831.16 443.88 831.45 445.53C831.74 447.19 832.03 448.84 832.32 450.49C832.61 452.14 832.9 453.79 833.2 455.43C833.49 457.08 833.79 458.72 834.09 460.35C834.39 461.99 834.85 464.43 835 465.25L835 477.25Z" fill="#ED1C24"/>
<path d="M642.3 40.25L642.3 52.25C642.55 52.94 643.26 54.96 643.81 56.4C644.35 57.83 644.95 59.33 645.59 60.86C646.22 62.38 646.91 63.95 647.64 65.54C648.37 67.12 649.14 68.74 649.95 70.35C650.77 71.96 651.63 73.59 652.53 75.19C653.44 76.8 654.38 78.41 655.37 79.98C656.36 81.55 657.39 83.12 658.46 84.62C659.54 86.13 660.65 87.61 661.8 89.02C662.96 90.43 664.16 91.8 665.39 93.09C666.63 94.37 667.9 95.6 669.22 96.73C670.53 97.85 671.89 98.91 673.28 99.85C674.68 100.78 676.11 101.63 677.58 102.35C679.05 103.08 680.56 103.7 682.09 104.21C683.62 104.72 685.18 105.13 686.76 105.43C688.33 105.74 689.93 105.94 691.54 106.04C693.14 106.15 694.77 106.16 696.38 106.07C698 105.99 699.63 105.81 701.24 105.54C702.86 105.27 704.47 104.91 706.07 104.47C707.66 104.03 709.25 103.5 710.81 102.89C712.36 102.28 713.91 101.59 715.41 100.82C716.92 100.06 718.4 99.21 719.84 98.3C721.28 97.38 722.69 96.39 724.08 95.35C725.46 94.31 726.81 93.2 728.13 92.05C729.45 90.9 730.75 89.69 732.02 88.45C733.29 87.21 734.53 85.93 735.75 84.62C736.97 83.31 738.16 81.96 739.33 80.59C740.5 79.23 741.65 77.84 742.78 76.45C743.91 75.06 745.02 73.64 746.11 72.24C747.2 70.84 748.27 69.42 749.32 68.02C750.38 66.63 751.41 65.23 752.44 63.86C753.46 62.49 754.47 61.12 755.47 59.8C756.46 58.48 757.44 57.17 758.42 55.91C759.39 54.65 760.82 52.86 761.3 52.25L761.3 40.25Z" fill="#7D1416"/>
<path d="M617.9 477.25L617.9 465.25C618.1 464.52 618.7 462.36 619.11 460.89C619.51 459.42 619.92 457.93 620.32 456.42C620.73 454.91 621.14 453.39 621.55 451.85C621.96 450.32 622.37 448.76 622.79 447.2C623.21 445.63 623.63 444.06 624.05 442.47C624.48 440.88 624.91 439.28 625.35 437.67C625.78 436.06 626.23 434.44 626.68 432.81C627.12 431.19 627.58 429.55 628.04 427.91C628.51 426.27 628.98 424.63 629.46 422.98C629.94 421.33 630.43 419.67 630.93 418.02C631.42 416.36 631.93 414.7 632.45 413.04C632.97 411.38 633.5 409.72 634.04 408.06C634.58 406.4 635.13 404.74 635.7 403.09C636.26 401.43 636.84 399.78 637.43 398.13C638.03 396.48 638.63 394.84 639.25 393.2C639.87 391.56 640.5 389.93 641.15 388.31C641.8 386.68 642.47 385.07 643.15 383.46C643.83 381.85 644.53 380.26 645.24 378.67C645.96 377.09 646.69 375.51 647.44 373.95C648.2 372.39 648.96 370.85 649.75 369.31C650.54 367.78 651.35 366.26 652.18 364.76C653.01 363.26 653.86 361.78 654.73 360.31C655.6 358.85 656.49 357.4 657.41 355.97C658.32 354.54 659.26 353.14 660.22 351.75C661.18 350.37 662.16 349 663.17 347.66C664.18 346.32 665.21 345 666.27 343.71C667.33 342.42 668.41 341.16 669.52 339.92C670.63 338.68 671.76 337.47 672.92 336.28C674.09 335.1 675.27 333.94 676.49 332.82C677.71 331.7 678.95 330.6 680.23 329.54C681.51 328.48 682.81 327.45 684.14 326.46C685.48 325.46 686.84 324.5 688.24 323.58C689.63 322.65 691.05 321.76 692.49 320.91C693.94 320.06 695.41 319.25 696.9 318.48C698.39 317.72 699.9 316.99 701.43 316.3C702.95 315.62 704.5 314.98 706.06 314.39C707.62 313.8 709.2 313.25 710.78 312.75C712.36 312.26 713.96 311.81 715.56 311.42C717.16 311.02 718.77 310.68 720.38 310.39C722 310.1 723.61 309.87 725.23 309.69C726.85 309.52 728.46 309.4 730.08 309.34C731.69 309.28 733.3 309.28 734.91 309.34C736.51 309.4 738.11 309.53 739.7 309.72C741.28 309.91 742.86 310.16 744.42 310.49C745.99 310.81 747.54 311.2 749.07 311.66C750.61 312.12 752.13 312.66 753.62 313.25C755.12 313.85 756.6 314.51 758.06 315.23C759.52 315.96 760.96 316.74 762.38 317.58C763.79 318.42 765.19 319.32 766.56 320.27C767.93 321.21 769.28 322.21 770.61 323.25C771.93 324.29 773.23 325.39 774.5 326.52C775.77 327.64 777.02 328.82 778.23 330.02C779.45 331.23 780.64 332.47 781.8 333.74C782.95 335.02 784.08 336.32 785.18 337.65C786.28 338.98 787.34 340.34 788.38 341.71C789.41 343.09 790.41 344.49 791.38 345.91C792.36 347.33 793.3 348.77 794.21 350.23C795.13 351.69 796.01 353.16 796.87 354.66C797.74 356.15 798.57 357.66 799.38 359.18C800.19 360.7 800.97 362.23 801.73 363.78C802.49 365.32 803.23 366.88 803.94 368.44C804.66 370.01 805.35 371.58 806.03 373.17C806.7 374.75 807.35 376.33 807.99 377.93C808.63 379.52 809.24 381.12 809.84 382.71C810.44 384.31 811.03 385.91 811.6 387.51C812.17 389.11 812.72 390.72 813.26 392.31C813.8 393.91 814.32 395.51 814.83 397.11C815.35 398.7 815.85 400.3 816.33 401.9C816.82 403.49 817.29 405.09 817.75 406.68C818.21 408.28 818.66 409.88 819.1 411.47C819.53 413.07 819.96 414.67 820.37 416.27C820.79 417.87 821.19 419.47 821.58 421.07C821.97 422.68 822.35 424.28 822.73 425.89C823.1 427.5 823.46 429.11 823.81 430.72C824.16 432.34 824.5 433.95 824.84 435.57C825.17 437.19 825.5 438.82 825.81 440.44C826.13 442.07 826.44 443.71 826.74 445.34C827.04 446.98 827.33 448.62 827.61 450.27C827.9 451.92 828.18 453.57 828.45 455.23C828.72 456.88 828.98 458.55 829.24 460.22C829.5 461.89 829.87 464.41 830 465.25L830 477.25Z" fill="#7D1416"/>
</g>
<!-- panel c -->
<clipPath id="clip-c"><rect x="90" y="537.5" width="396.6" height="412"/></clipPath>
<g clip-path="url(#clip-c)">
<path d="M137.9 525.5L137.9 537.5C137.99 538.33 138.26 540.83 138.44 542.5C138.61 544.17 138.78 545.84 138.94 547.51C139.1 549.18 139.26 550.86 139.41 552.53C139.57 554.2 139.72 555.88 139.86 557.56C140.01 559.23 140.15 560.91 140.29 562.59C140.43 564.26 140.57 565.94 140.71 567.62C140.84 569.3 140.98 570.98 141.11 572.66C141.25 574.34 141.38 576.02 141.52 577.7C141.65 579.39 141.79 581.07 141.92 582.75C142.06 584.43 142.19 586.11 142.33 587.79C142.47 589.47 142.61 591.15 142.75 592.84C142.9 594.52 143.04 596.2 143.19 597.88C143.34 599.56 143.49 601.24 143.65 602.92C143.81 604.6 143.97 606.27 144.14 607.95C144.31 609.63 144.48 611.31 144.66 612.98C144.84 614.66 145.02 616.33 145.21 618.01C145.4 619.68 145.6 621.36 145.81 623.03C146.02 624.7 146.23 626.37 146.45 628.04C146.68 629.71 146.91 631.37 147.15 633.04C147.39 634.7 147.64 636.37 147.9 638.03C148.17 639.69 148.44 641.35 148.72 643C149.01 644.66 149.3 646.31 149.61 647.96C149.92 649.62 150.24 651.26 150.58 652.91C150.92 654.55 151.26 656.19 151.63 657.83C151.99 659.46 152.37 661.09 152.77 662.72C153.16 664.35 153.57 665.97 154 667.59C154.43 669.21 154.88 670.82 155.34 672.43C155.8 674.04 156.28 675.64 156.78 677.24C157.28 678.84 157.8 680.43 158.34 682.01C158.88 683.6 159.44 685.18 160.02 686.75C160.6 688.32 161.2 689.89 161.83 691.45C162.45 693 163.1 694.56 163.77 696.1C164.44 697.64 165.13 699.18 165.84 700.71C166.56 702.24 167.3 703.76 168.07 705.27C168.83 706.79 169.63 708.29 170.44 709.79C171.26 711.28 172.11 712.77 172.96 714.25C173.81 715.74 174.69 717.21 175.54 718.7C176.38 720.18 177.24 721.67 178.05 723.17C178.87 724.66 179.62 726.21 180.43 727.67C181.23 729.14 181.99 730.64 182.9 731.98C183.81 733.32 184.75 734.6 185.9 735.69C187.05 736.78 188.37 737.68 189.78 738.51C191.18 739.34 192.77 739.98 194.34 740.67C195.92 741.35 197.6 741.93 199.21 742.61C200.82 743.3 202.43 744.02 204 744.77C205.57 745.52 207.09 746.36 208.62 747.11C210.15 747.86 211.65 748.63 213.18 749.25C214.7 749.86 216.22 750.44 217.79 750.8C219.36 751.15 220.95 751.37 222.59 751.38C224.22 751.38 225.93 751.04 227.62 750.83C229.31 750.61 231.04 750.15 232.71 750.07C234.37 749.99 236.01 750 237.59 750.35C239.16 750.7 240.66 751.44 242.16 752.17C243.67 752.9 245.12 753.91 246.61 754.74C248.1 755.58 249.58 756.52 251.11 757.19C252.64 757.85 254.19 758.46 255.79 758.75C257.39 759.05 259.07 758.97 260.72 758.97C262.36 758.97 264.06 758.68 265.66 758.78C267.25 758.89 269.53 759.46 270.3 759.6L295 768L345 713.75C344.38 713.33 342.08 713.33 341.25 711.25C340.42 709.17 340.21 702.92 340 701.25C340.73 700.81 342.85 699.39 344.37 698.59C345.89 697.79 347.54 697.16 349.11 696.44C350.68 695.73 352.32 695.1 353.8 694.31C355.28 693.52 356.72 692.7 358 691.71C359.28 690.71 360.4 689.55 361.47 688.33C362.53 687.11 363.46 685.74 364.39 684.36C365.31 682.98 366.15 681.5 367.02 680.06C367.9 678.61 368.73 677.11 369.64 675.69C370.56 674.26 371.5 672.85 372.5 671.49C373.5 670.13 374.55 668.83 375.64 667.54C376.73 666.25 377.87 665.01 379.02 663.77C380.17 662.54 381.36 661.34 382.56 660.14C383.75 658.94 384.97 657.76 386.19 656.57C387.4 655.39 388.64 654.21 389.85 653.02C391.06 651.83 392.28 650.64 393.47 649.43C394.67 648.21 395.85 646.99 397.01 645.75C398.18 644.51 399.33 643.26 400.47 641.99C401.61 640.73 402.74 639.45 403.84 638.16C404.95 636.87 406.05 635.57 407.13 634.25C408.21 632.94 409.27 631.61 410.32 630.27C411.37 628.93 412.4 627.58 413.42 626.21C414.43 624.85 415.43 623.47 416.41 622.09C417.4 620.7 418.36 619.3 419.31 617.89C420.26 616.48 421.19 615.06 422.1 613.62C423.01 612.19 423.91 610.75 424.78 609.29C425.66 607.84 426.51 606.37 427.35 604.9C428.19 603.42 429 601.93 429.8 600.44C430.6 598.94 431.38 597.43 432.13 595.92C432.89 594.4 433.62 592.87 434.34 591.34C435.05 589.8 435.74 588.26 436.41 586.7C437.08 585.15 437.73 583.58 438.36 582.01C438.98 580.43 439.59 578.85 440.17 577.26C440.75 575.67 441.3 574.07 441.84 572.46C442.37 570.85 442.88 569.23 443.36 567.6C443.85 565.98 444.31 564.34 444.74 562.7C445.18 561.06 445.59 559.41 445.97 557.75C446.35 556.09 446.71 554.43 447.04 552.75C447.38 551.08 447.68 549.4 447.96 547.71C448.24 546.02 448.49 544.33 448.71 542.63C448.94 540.92 449.2 538.35 449.3 537.5L449.3 525.5Z" fill="#3A53A4"/>
<path d="M156.2 961.5L156.2 949.5C156.28 948.63 156.48 946.03 156.66 944.3C156.83 942.58 157.03 940.87 157.25 939.16C157.47 937.46 157.71 935.76 157.97 934.07C158.23 932.39 158.51 930.71 158.81 929.04C159.12 927.37 159.44 925.71 159.78 924.05C160.13 922.4 160.49 920.75 160.87 919.11C161.25 917.47 161.65 915.84 162.07 914.22C162.49 912.59 162.93 910.97 163.38 909.36C163.84 907.75 164.31 906.15 164.8 904.55C165.29 902.95 165.8 901.36 166.32 899.78C166.84 898.19 167.38 896.61 167.94 895.04C168.49 893.46 169.07 891.89 169.65 890.33C170.24 888.77 170.84 887.21 171.45 885.66C172.07 884.1 172.7 882.55 173.34 881.01C173.99 879.47 174.64 877.93 175.31 876.39C175.98 874.85 176.67 873.32 177.36 871.8C178.06 870.27 178.77 868.74 179.49 867.22C180.2 865.7 180.94 864.18 181.68 862.67C182.42 861.15 183.18 859.64 183.94 858.13C184.7 856.62 185.48 855.12 186.26 853.61C187.04 852.11 187.84 850.61 188.64 849.11C189.44 847.61 190.26 846.11 191.08 844.61C191.9 843.11 192.72 841.62 193.56 840.12C194.4 838.63 195.24 837.13 196.1 835.65C196.95 834.16 197.82 832.67 198.7 831.21C199.59 829.74 200.49 828.28 201.42 826.84C202.34 825.41 203.29 823.98 204.27 822.59C205.25 821.2 206.25 819.83 207.29 818.49C208.33 817.16 209.4 815.85 210.52 814.58C211.64 813.32 212.79 812.08 213.99 810.9C215.19 809.72 216.43 808.58 217.72 807.49C219.01 806.4 220.38 805.37 221.74 804.36C223.1 803.34 224.51 802.38 225.88 801.37C227.24 800.37 228.63 799.4 229.92 798.35C231.21 797.3 232.49 796.24 233.64 795.08C234.79 793.91 235.86 792.69 236.81 791.37C237.76 790.05 238.59 788.62 239.35 787.14C240.12 785.67 240.76 784.09 241.41 782.51C242.07 780.94 242.62 779.28 243.28 777.69C243.93 776.09 244.56 774.47 245.33 772.95C246.1 771.43 246.93 769.94 247.9 768.59C248.87 767.24 249.96 765.96 251.17 764.85C252.38 763.75 253.75 762.76 255.19 761.95C256.63 761.15 258.19 760.48 259.81 760.02C261.43 759.56 263.15 759.26 264.9 759.19C266.65 759.12 269.4 759.53 270.3 759.6L300 735L345 713.75C345.88 713.63 348.61 712.97 350.27 713.04C351.92 713.12 353.44 713.61 354.92 714.21C356.41 714.81 357.79 715.72 359.18 716.63C360.56 717.54 361.88 718.65 363.23 719.66C364.58 720.68 365.9 721.79 367.28 722.7C368.67 723.61 370.06 724.5 371.54 725.11C373.02 725.73 374.58 726.09 376.17 726.38C377.75 726.68 379.43 726.7 381.07 726.89C382.7 727.07 384.38 727.16 385.99 727.48C387.61 727.8 389.2 728.27 390.76 728.81C392.32 729.36 393.85 730.04 395.37 730.74C396.88 731.43 398.38 732.19 399.86 732.98C401.34 733.77 402.8 734.61 404.23 735.48C405.67 736.36 407.08 737.28 408.47 738.24C409.85 739.19 411.22 740.19 412.55 741.22C413.88 742.26 415.19 743.33 416.47 744.44C417.74 745.54 418.99 746.68 420.21 747.86C421.42 749.03 422.6 750.24 423.75 751.48C424.89 752.72 426.01 753.99 427.08 755.28C428.15 756.58 429.19 757.91 430.18 759.26C431.18 760.62 432.14 762 433.05 763.41C433.96 764.81 434.83 766.24 435.66 767.7C436.49 769.15 437.27 770.63 438.02 772.12C438.77 773.62 439.48 775.13 440.15 776.66C440.83 778.19 441.47 779.74 442.09 781.3C442.71 782.86 443.3 784.43 443.86 786.02C444.43 787.6 444.97 789.19 445.5 790.79C446.02 792.39 446.53 794 447.02 795.61C447.52 797.22 447.99 798.84 448.46 800.45C448.93 802.07 449.39 803.69 449.84 805.31C450.29 806.93 450.72 808.56 451.15 810.18C451.58 811.81 451.99 813.44 452.4 815.07C452.81 816.7 453.21 818.33 453.6 819.97C453.99 821.6 454.37 823.24 454.74 824.88C455.12 826.52 455.48 828.16 455.84 829.8C456.19 831.44 456.54 833.08 456.89 834.73C457.23 836.37 457.57 838.02 457.9 839.67C458.23 841.32 458.55 842.96 458.87 844.61C459.19 846.26 459.5 847.92 459.8 849.57C460.11 851.22 460.41 852.87 460.71 854.53C461.01 856.18 461.3 857.84 461.59 859.49C461.88 861.15 462.17 862.8 462.45 864.46C462.73 866.11 463.01 867.77 463.29 869.43C463.56 871.09 463.83 872.75 464.1 874.4C464.36 876.06 464.63 877.72 464.88 879.38C465.14 881.04 465.4 882.7 465.65 884.37C465.89 886.03 466.14 887.69 466.38 889.35C466.62 891.02 466.86 892.68 467.09 894.34C467.32 896.01 467.54 897.67 467.77 899.34C467.99 901 468.2 902.67 468.41 904.34C468.63 906 468.83 907.67 469.03 909.34C469.24 911.01 469.43 912.67 469.62 914.34C469.81 916.01 470 917.68 470.18 919.35C470.36 921.02 470.53 922.7 470.7 924.37C470.87 926.04 471.04 927.71 471.19 929.39C471.35 931.06 471.5 932.73 471.65 934.41C471.79 936.08 471.93 937.76 472.07 939.43C472.2 941.11 472.33 942.79 472.45 944.47C472.57 946.14 472.74 948.66 472.8 949.5L472.8 961.5Z" fill="#3A53A4"/>
<path d="M140.75 525.5L140.75 537.5C140.74 538.35 140.69 540.91 140.71 542.6C140.73 544.3 140.78 545.98 140.86 547.65C140.94 549.33 141.05 551 141.18 552.66C141.31 554.32 141.47 555.98 141.64 557.63C141.81 559.28 142.01 560.93 142.21 562.57C142.42 564.22 142.64 565.86 142.86 567.5C143.09 569.14 143.33 570.78 143.57 572.41C143.81 574.05 144.06 575.69 144.31 577.33C144.55 578.97 144.8 580.61 145.04 582.25C145.28 583.89 145.52 585.54 145.74 587.18C145.97 588.83 146.19 590.49 146.39 592.14C146.59 593.8 146.77 595.47 146.94 597.14C147.11 598.81 147.26 600.48 147.41 602.16C147.55 603.84 147.68 605.53 147.81 607.21C147.94 608.9 148.06 610.58 148.19 612.27C148.32 613.95 148.44 615.64 148.59 617.32C148.73 619 148.88 620.68 149.05 622.35C149.22 624.03 149.41 625.69 149.62 627.35C149.83 629.01 150.07 630.66 150.33 632.3C150.6 633.95 150.89 635.58 151.2 637.2C151.52 638.83 151.86 640.44 152.22 642.06C152.59 643.67 152.97 645.27 153.38 646.87C153.79 648.46 154.22 650.06 154.67 651.64C155.12 653.23 155.59 654.81 156.07 656.39C156.56 657.97 157.06 659.54 157.58 661.11C158.1 662.68 158.64 664.25 159.19 665.81C159.74 667.38 160.3 668.94 160.88 670.5C161.45 672.07 162.04 673.63 162.64 675.19C163.24 676.75 163.85 678.31 164.46 679.87C165.08 681.43 165.71 682.99 166.34 684.55C166.97 686.11 167.62 687.68 168.26 689.24C168.91 690.81 169.56 692.38 170.21 693.95C170.86 695.52 171.52 697.1 172.18 698.67C172.85 700.24 173.52 701.82 174.22 703.37C174.92 704.91 175.63 706.46 176.38 707.97C177.13 709.48 177.89 710.97 178.71 712.42C179.52 713.87 180.36 715.29 181.26 716.66C182.15 718.02 183.09 719.36 184.09 720.62C185.09 721.89 186.13 723.11 187.25 724.26C188.37 725.4 189.54 726.49 190.8 727.5C192.05 728.5 193.36 729.44 194.76 730.28C196.15 731.12 197.63 731.88 199.16 732.55C200.69 733.22 202.3 733.8 203.94 734.29C205.57 734.79 207.27 735.19 208.97 735.52C210.66 735.85 212.4 736.1 214.12 736.27C215.83 736.43 217.57 736.52 219.26 736.53C220.96 736.55 222.63 736.46 224.27 736.35C225.92 736.24 227.5 736 229.11 735.88C230.71 735.77 232.28 735.6 233.89 735.65C235.5 735.7 237.12 735.88 238.77 736.18C240.41 736.48 242.1 736.99 243.77 737.46C245.44 737.92 247.15 738.57 248.8 738.96C250.45 739.34 252.12 739.81 253.67 739.75C255.22 739.69 256.7 739.28 258.12 738.58C259.54 737.89 260.84 736.61 262.21 735.58C263.58 734.55 264.91 733.28 266.36 732.41C267.8 731.54 269.32 730.88 270.87 730.35C272.43 729.82 274.05 729.53 275.67 729.23C277.29 728.92 278.96 728.78 280.59 728.54C282.22 728.3 283.87 728.14 285.46 727.81C287.05 727.47 288.61 727.09 290.11 726.55C291.62 726 293.06 725.31 294.49 724.53C295.91 723.75 297.28 722.82 298.66 721.88C300.04 720.93 301.36 719.81 302.78 718.87C304.19 717.94 305.6 716.96 307.15 716.27C308.7 715.58 310.4 715.17 312.05 714.75C313.7 714.33 315.5 714.19 317.06 713.75C318.61 713.31 320.16 712.93 321.39 712.11C322.62 711.29 323.55 710.12 324.44 708.83C325.32 707.55 325.91 705.88 326.72 704.4C327.52 702.92 328.29 701.34 329.27 699.96C330.24 698.58 331.37 697.31 332.56 696.12C333.76 694.94 335.08 693.88 336.43 692.86C337.77 691.84 339.21 690.93 340.64 690.01C342.06 689.09 343.54 688.23 344.96 687.33C346.39 686.43 347.83 685.56 349.17 684.6C350.52 683.64 351.84 682.67 353.03 681.57C354.23 680.47 355.32 679.29 356.32 678.01C357.33 676.74 358.2 675.34 359.05 673.93C359.91 672.52 360.68 671.02 361.48 669.55C362.28 668.08 363.03 666.56 363.86 665.11C364.7 663.66 365.53 662.21 366.47 660.86C367.41 659.51 368.43 658.23 369.52 657C370.61 655.78 371.78 654.63 373 653.52C374.21 652.4 375.49 651.35 376.8 650.32C378.11 649.29 379.47 648.3 380.84 647.32C382.21 646.34 383.62 645.39 385.02 644.43C386.42 643.47 387.85 642.53 389.25 641.56C390.65 640.59 392.05 639.63 393.42 638.63C394.78 637.63 396.14 636.61 397.44 635.54C398.74 634.48 400 633.37 401.21 632.22C402.42 631.07 403.58 629.86 404.7 628.62C405.81 627.38 406.88 626.09 407.91 624.78C408.94 623.46 409.93 622.11 410.89 620.73C411.84 619.35 412.76 617.94 413.65 616.51C414.53 615.09 415.39 613.63 416.22 612.17C417.05 610.71 417.85 609.23 418.64 607.74C419.42 606.26 420.18 604.76 420.92 603.26C421.67 601.77 422.39 600.26 423.11 598.76C423.82 597.26 424.52 595.75 425.2 594.24C425.89 592.74 426.56 591.22 427.23 589.71C427.9 588.19 428.55 586.67 429.21 585.15C429.86 583.63 430.5 582.1 431.15 580.57C431.79 579.03 432.43 577.5 433.07 575.96C433.71 574.41 434.35 572.87 434.98 571.32C435.62 569.76 436.25 568.21 436.86 566.64C437.46 565.08 438.06 563.51 438.63 561.93C439.19 560.35 439.74 558.76 440.24 557.16C440.75 555.57 441.22 553.96 441.64 552.35C442.07 550.73 442.45 549.1 442.78 547.47C443.1 545.83 443.38 544.18 443.58 542.52C443.78 540.86 443.93 538.34 444 537.5L444 525.5Z" fill="#3F7ABD"/>
<path d="M160.2 961.5L160.2 949.5C160.35 948.7 160.8 946.3 161.11 944.68C161.43 943.07 161.74 941.46 162.07 939.84C162.4 938.22 162.74 936.59 163.08 934.97C163.43 933.34 163.78 931.71 164.15 930.08C164.52 928.44 164.89 926.81 165.28 925.18C165.66 923.54 166.06 921.91 166.47 920.28C166.87 918.65 167.29 917.01 167.72 915.38C168.16 913.76 168.6 912.13 169.06 910.51C169.51 908.88 169.98 907.26 170.46 905.65C170.95 904.03 171.44 902.42 171.95 900.82C172.46 899.22 172.99 897.62 173.53 896.03C174.07 894.44 174.62 892.85 175.2 891.28C175.77 889.71 176.35 888.14 176.96 886.59C177.56 885.03 178.18 883.49 178.82 881.95C179.45 880.42 180.11 878.9 180.78 877.39C181.45 875.88 182.14 874.38 182.85 872.9C183.56 871.42 184.29 869.95 185.03 868.49C185.78 867.02 186.54 865.58 187.31 864.13C188.08 862.68 188.86 861.24 189.65 859.79C190.44 858.35 191.24 856.9 192.05 855.45C192.85 854 193.67 852.55 194.48 851.08C195.29 849.61 196.11 848.14 196.93 846.64C197.74 845.15 198.56 843.65 199.37 842.12C200.18 840.59 200.98 839.03 201.79 837.47C202.59 835.91 203.39 834.32 204.2 832.75C205.02 831.18 205.84 829.59 206.69 828.05C207.54 826.51 208.4 824.97 209.31 823.49C210.22 822.01 211.15 820.55 212.13 819.17C213.12 817.78 214.14 816.44 215.23 815.2C216.32 813.95 217.45 812.76 218.66 811.69C219.87 810.61 221.14 809.62 222.5 808.75C223.86 807.88 225.31 807.15 226.82 806.48C228.32 805.82 229.98 805.38 231.53 804.78C233.09 804.17 234.7 803.65 236.15 802.85C237.6 802.06 238.95 801.07 240.23 800.02C241.52 798.96 242.68 797.7 243.86 796.5C245.03 795.29 246.15 794 247.28 792.78C248.42 791.56 249.53 790.34 250.67 789.16C251.81 787.97 252.95 786.81 254.12 785.67C255.28 784.53 256.46 783.41 257.69 782.33C258.91 781.25 260.15 780.19 261.46 779.16C262.76 778.14 264.11 777.15 265.51 776.19C266.91 775.23 268.41 774.32 269.87 773.39C271.33 772.46 272.85 771.56 274.27 770.59C275.69 769.62 277.12 768.65 278.4 767.57C279.67 766.48 280.9 765.36 281.92 764.09C282.93 762.82 283.84 761.47 284.5 759.94C285.15 758.41 285.49 756.6 285.85 754.93C286.21 753.26 286.2 751.27 286.65 749.91C287.1 748.54 287.56 747.33 288.54 746.76C289.52 746.18 291.03 746.43 292.54 746.46C294.04 746.5 295.88 746.95 297.55 746.97C299.23 746.99 300.91 746.83 302.57 746.58C304.22 746.33 305.86 745.89 307.5 745.45C309.13 745.02 310.75 744.46 312.37 743.98C313.99 743.49 315.61 742.94 317.22 742.52C318.84 742.11 320.46 741.75 322.09 741.47C323.71 741.19 325.34 741.04 326.97 740.84C328.59 740.64 330.23 740.51 331.85 740.24C333.47 739.98 335.1 739.68 336.72 739.26C338.33 738.83 339.94 738.22 341.55 737.69C343.16 737.16 344.77 736.51 346.37 736.08C347.98 735.65 349.58 735.22 351.18 735.09C352.79 734.96 354.39 735.09 356 735.32C357.61 735.55 359.22 736.1 360.84 736.48C362.47 736.85 364.09 737.36 365.74 737.59C367.38 737.82 369.04 737.87 370.69 737.87C372.35 737.88 374.02 737.68 375.68 737.61C377.33 737.54 378.99 737.38 380.63 737.46C382.27 737.53 383.89 737.71 385.5 738.06C387.1 738.4 388.69 738.95 390.26 739.53C391.83 740.12 393.38 740.85 394.91 741.57C396.44 742.29 397.96 743.07 399.45 743.86C400.95 744.65 402.42 745.46 403.86 746.3C405.31 747.15 406.73 748.02 408.11 748.93C409.49 749.85 410.85 750.79 412.16 751.79C413.47 752.79 414.75 753.82 415.98 754.91C417.2 756 418.39 757.14 419.53 758.33C420.67 759.52 421.76 760.77 422.81 762.05C423.86 763.33 424.87 764.66 425.84 766.01C426.82 767.37 427.75 768.77 428.65 770.18C429.56 771.6 430.42 773.04 431.26 774.5C432.1 775.96 432.91 777.44 433.69 778.93C434.48 780.42 435.23 781.92 435.97 783.42C436.7 784.93 437.41 786.44 438.09 787.96C438.78 789.49 439.44 791.02 440.09 792.55C440.73 794.09 441.35 795.63 441.95 797.18C442.54 798.74 443.12 800.29 443.68 801.86C444.24 803.42 444.78 804.99 445.3 806.57C445.82 808.15 446.32 809.73 446.81 811.32C447.29 812.91 447.76 814.5 448.21 816.1C448.67 817.7 449.1 819.3 449.52 820.91C449.95 822.52 450.35 824.13 450.75 825.75C451.14 827.37 451.52 828.99 451.89 830.62C452.25 832.24 452.61 833.87 452.95 835.5C453.3 837.14 453.63 838.77 453.95 840.41C454.27 842.05 454.59 843.69 454.89 845.33C455.19 846.98 455.49 848.62 455.77 850.27C456.06 851.92 456.34 853.57 456.61 855.22C456.89 856.87 457.15 858.52 457.41 860.17C457.67 861.83 457.93 863.48 458.18 865.14C458.43 866.79 458.68 868.45 458.92 870.1C459.17 871.76 459.41 873.41 459.65 875.07C459.89 876.72 460.13 878.38 460.37 880.03C460.6 881.69 460.84 883.34 461.08 884.99C461.31 886.64 461.55 888.29 461.79 889.94C462.03 891.59 462.26 893.24 462.5 894.89C462.74 896.54 462.97 898.18 463.2 899.83C463.44 901.48 463.67 903.12 463.9 904.77C464.12 906.42 464.35 908.07 464.57 909.71C464.79 911.36 465.01 913.01 465.22 914.66C465.44 916.31 465.65 917.95 465.85 919.6C466.06 921.26 466.26 922.91 466.45 924.56C466.64 926.21 466.83 927.87 467.01 929.52C467.19 931.18 467.36 932.84 467.53 934.5C467.7 936.16 467.86 937.82 468.01 939.48C468.16 941.15 468.3 942.81 468.43 944.48C468.56 946.15 468.74 948.66 468.8 949.5L468.8 961.5Z" fill="#3F7ABD"/>
<path d="M144.1 525.5L144.1 537.5C144.09 538.34 144.01 540.87 144.02 542.55C144.03 544.23 144.09 545.9 144.17 547.57C144.24 549.25 144.36 550.92 144.49 552.58C144.63 554.25 144.79 555.91 144.98 557.58C145.16 559.24 145.37 560.9 145.59 562.56C145.81 564.22 146.05 565.88 146.29 567.53C146.54 569.19 146.8 570.85 147.06 572.5C147.32 574.16 147.6 575.81 147.87 577.47C148.13 579.12 148.41 580.78 148.67 582.43C148.94 584.09 149.2 585.74 149.46 587.4C149.71 589.05 149.95 590.71 150.18 592.37C150.41 594.03 150.62 595.69 150.82 597.35C151.02 599.01 151.19 600.68 151.36 602.34C151.53 604.01 151.68 605.67 151.84 607.34C152 609 152.14 610.67 152.3 612.33C152.46 614 152.61 615.66 152.78 617.32C152.95 618.98 153.13 620.64 153.33 622.3C153.53 623.96 153.74 625.61 153.99 627.26C154.23 628.91 154.5 630.56 154.79 632.2C155.09 633.85 155.41 635.49 155.76 637.12C156.11 638.76 156.49 640.39 156.89 642.01C157.29 643.64 157.71 645.26 158.16 646.87C158.61 648.49 159.08 650.1 159.57 651.7C160.06 653.31 160.58 654.91 161.11 656.5C161.65 658.1 162.2 659.68 162.78 661.27C163.35 662.85 163.94 664.42 164.55 665.99C165.16 667.56 165.79 669.12 166.43 670.68C167.07 672.23 167.73 673.78 168.4 675.32C169.07 676.86 169.76 678.4 170.46 679.92C171.16 681.45 171.87 682.97 172.6 684.48C173.32 685.99 174.05 687.49 174.8 688.99C175.54 690.48 176.3 691.97 177.06 693.44C177.83 694.92 178.59 696.39 179.39 697.84C180.18 699.29 180.98 700.74 181.83 702.15C182.67 703.57 183.53 704.96 184.44 706.33C185.35 707.69 186.29 709.03 187.28 710.34C188.28 711.64 189.32 712.91 190.43 714.13C191.54 715.36 192.69 716.55 193.93 717.68C195.17 718.82 196.48 719.92 197.85 720.95C199.23 721.97 200.69 722.96 202.18 723.86C203.67 724.75 205.24 725.59 206.81 726.33C208.39 727.06 210.02 727.72 211.65 728.26C213.27 728.81 214.93 729.26 216.57 729.58C218.21 729.89 219.86 730.1 221.48 730.17C223.09 730.23 224.69 730.14 226.26 729.95C227.84 729.76 229.36 729.39 230.92 729.05C232.47 728.7 234.01 728.25 235.6 727.9C237.18 727.55 238.8 727.21 240.44 726.95C242.08 726.69 243.76 726.48 245.44 726.34C247.12 726.21 248.83 726.16 250.52 726.13C252.22 726.11 253.93 726.21 255.6 726.18C257.27 726.15 258.94 726.17 260.55 725.97C262.15 725.76 263.71 725.42 265.23 724.93C266.74 724.44 268.2 723.74 269.65 723.01C271.1 722.29 272.5 721.41 273.92 720.57C275.34 719.73 276.75 718.84 278.18 717.98C279.6 717.11 281.03 716.25 282.46 715.39C283.89 714.54 285.32 713.68 286.76 712.83C288.19 711.98 289.63 711.13 291.07 710.29C292.51 709.45 293.95 708.61 295.39 707.78C296.83 706.95 298.27 706.12 299.72 705.29C301.16 704.47 302.61 703.65 304.05 702.83C305.5 702.01 306.95 701.2 308.41 700.38C309.86 699.57 311.32 698.76 312.78 697.94C314.25 697.13 315.71 696.32 317.18 695.51C318.65 694.7 320.14 693.9 321.61 693.08C323.08 692.26 324.56 691.44 326.01 690.59C327.46 689.74 328.91 688.88 330.31 687.97C331.71 687.06 333.09 686.12 334.41 685.12C335.73 684.12 337.02 683.09 338.23 681.97C339.45 680.86 340.6 679.67 341.7 678.44C342.79 677.2 343.81 675.88 344.83 674.55C345.85 673.22 346.81 671.84 347.79 670.48C348.78 669.12 349.74 667.72 350.75 666.39C351.76 665.05 352.78 663.72 353.87 662.46C354.96 661.19 356.09 659.98 357.28 658.81C358.46 657.65 359.69 656.54 360.96 655.45C362.22 654.36 363.53 653.32 364.85 652.3C366.18 651.27 367.54 650.28 368.9 649.3C370.26 648.31 371.65 647.35 373.04 646.38C374.42 645.42 375.82 644.47 377.21 643.5C378.59 642.53 379.98 641.57 381.34 640.58C382.71 639.59 384.07 638.59 385.39 637.56C386.71 636.53 388.02 635.48 389.28 634.38C390.54 633.29 391.77 632.16 392.97 630.99C394.16 629.82 395.31 628.61 396.43 627.37C397.55 626.14 398.63 624.86 399.68 623.56C400.74 622.26 401.75 620.93 402.75 619.58C403.74 618.23 404.7 616.85 405.63 615.45C406.57 614.06 407.47 612.64 408.35 611.21C409.24 609.78 410.09 608.33 410.93 606.87C411.76 605.42 412.57 603.95 413.37 602.47C414.16 601 414.93 599.51 415.69 598.02C416.45 596.53 417.2 595.04 417.93 593.54C418.67 592.04 419.39 590.53 420.11 589.03C420.83 587.52 421.54 586.01 422.26 584.5C422.98 582.99 423.69 581.48 424.41 579.97C425.13 578.46 425.85 576.95 426.58 575.44C427.31 573.93 428.05 572.43 428.79 570.92C429.52 569.41 430.27 567.91 430.98 566.39C431.69 564.88 432.41 563.36 433.07 561.83C433.74 560.3 434.39 558.76 434.99 557.2C435.58 555.64 436.15 554.07 436.64 552.48C437.13 550.89 437.58 549.28 437.95 547.64C438.31 546 438.62 544.35 438.83 542.66C439.04 540.97 439.14 538.36 439.2 537.5L439.2 525.5Z" fill="#6DCBDD"/>
<path d="M164 961.5L164 949.5C164.2 948.71 164.79 946.34 165.19 944.75C165.6 943.16 166 941.57 166.41 939.97C166.83 938.38 167.24 936.78 167.66 935.18C168.09 933.57 168.51 931.97 168.95 930.36C169.38 928.76 169.82 927.15 170.27 925.54C170.71 923.93 171.17 922.32 171.63 920.71C172.09 919.1 172.56 917.49 173.04 915.88C173.51 914.27 174 912.66 174.49 911.05C174.99 909.44 175.49 907.83 176 906.23C176.51 904.62 177.04 903.02 177.57 901.42C178.1 899.82 178.64 898.23 179.2 896.63C179.75 895.04 180.32 893.45 180.89 891.87C181.47 890.28 182.05 888.7 182.65 887.13C183.25 885.55 183.87 883.98 184.49 882.42C185.12 880.86 185.75 879.3 186.4 877.75C187.06 876.2 187.72 874.66 188.4 873.12C189.08 871.58 189.77 870.06 190.48 868.54C191.19 867.02 191.91 865.51 192.65 864.01C193.39 862.51 194.14 861.01 194.91 859.53C195.69 858.05 196.47 856.58 197.28 855.12C198.08 853.66 198.9 852.21 199.74 850.77C200.58 849.33 201.43 847.91 202.31 846.49C203.18 845.08 204.07 843.68 204.98 842.29C205.89 840.9 206.82 839.53 207.77 838.17C208.72 836.81 209.69 835.46 210.68 834.13C211.67 832.8 212.68 831.48 213.71 830.18C214.74 828.88 215.79 827.6 216.87 826.33C217.94 825.06 219.03 823.81 220.15 822.58C221.27 821.34 222.41 820.13 223.57 818.93C224.73 817.73 225.91 816.55 227.11 815.39C228.32 814.24 229.54 813.1 230.79 811.98C232.03 810.86 233.3 809.77 234.59 808.7C235.87 807.63 237.18 806.58 238.5 805.56C239.83 804.54 241.17 803.54 242.54 802.57C243.9 801.6 245.28 800.66 246.68 799.74C248.08 798.83 249.49 797.94 250.93 797.09C252.36 796.23 253.81 795.4 255.28 794.61C256.75 793.82 258.24 793.06 259.73 792.32C261.23 791.59 262.76 790.91 264.25 790.18C265.74 789.44 267.24 788.72 268.68 787.9C270.11 787.08 271.51 786.17 272.88 785.25C274.26 784.32 275.58 783.31 276.93 782.34C278.28 781.37 279.62 780.38 280.97 779.42C282.32 778.47 283.7 777.56 285.03 776.6C286.37 775.63 287.7 774.67 288.98 773.65C290.26 772.62 291.48 771.51 292.72 770.45C293.97 769.38 295.17 768.26 296.45 767.25C297.73 766.23 299.04 765.26 300.4 764.35C301.75 763.45 303.16 762.61 304.59 761.81C306.03 761.01 307.5 760.27 309 759.55C310.49 758.83 312.03 758.16 313.57 757.51C315.12 756.85 316.69 756.24 318.27 755.62C319.85 755.01 321.45 754.42 323.05 753.83C324.64 753.23 326.26 752.65 327.86 752.06C329.47 751.47 331.08 750.85 332.68 750.27C334.28 749.68 335.88 749.07 337.48 748.57C339.08 748.07 340.67 747.58 342.27 747.25C343.87 746.92 345.47 746.65 347.07 746.58C348.68 746.51 350.28 746.62 351.89 746.83C353.5 747.05 355.11 747.49 356.73 747.87C358.35 748.25 359.98 748.76 361.62 749.11C363.26 749.46 364.9 749.81 366.56 749.96C368.22 750.11 369.89 750.07 371.56 750.03C373.23 749.99 374.91 749.79 376.56 749.72C378.22 749.64 379.88 749.5 381.5 749.57C383.13 749.63 384.74 749.79 386.32 750.09C387.91 750.4 389.46 750.86 390.99 751.41C392.52 751.96 394.03 752.64 395.5 753.4C396.98 754.15 398.43 755.02 399.84 755.93C401.26 756.85 402.64 757.86 404 758.9C405.35 759.94 406.67 761.05 407.96 762.18C409.24 763.3 410.49 764.47 411.71 765.65C412.93 766.83 414.11 768.04 415.26 769.27C416.41 770.5 417.53 771.75 418.62 773.03C419.7 774.3 420.75 775.6 421.78 776.91C422.8 778.23 423.79 779.56 424.75 780.92C425.72 782.27 426.65 783.64 427.55 785.03C428.45 786.42 429.33 787.83 430.17 789.25C431.02 790.67 431.84 792.11 432.63 793.56C433.42 795.01 434.19 796.48 434.92 797.95C435.66 799.43 436.38 800.92 437.07 802.42C437.76 803.92 438.42 805.44 439.06 806.96C439.7 808.49 440.32 810.02 440.92 811.57C441.51 813.11 442.09 814.67 442.64 816.23C443.2 817.8 443.73 819.37 444.24 820.95C444.76 822.53 445.25 824.12 445.73 825.72C446.21 827.32 446.67 828.92 447.11 830.53C447.55 832.14 447.98 833.76 448.39 835.39C448.8 837.01 449.19 838.64 449.58 840.27C449.96 841.91 450.32 843.55 450.68 845.19C451.04 846.83 451.38 848.48 451.71 850.13C452.04 851.78 452.36 853.44 452.67 855.09C452.98 856.75 453.27 858.41 453.56 860.07C453.86 861.73 454.14 863.39 454.41 865.05C454.68 866.71 454.95 868.37 455.21 870.04C455.47 871.7 455.72 873.36 455.97 875.02C456.22 876.68 456.47 878.34 456.71 880C456.95 881.66 457.19 883.32 457.42 884.97C457.66 886.62 457.89 888.27 458.12 889.92C458.35 891.57 458.57 893.22 458.8 894.86C459.02 896.51 459.24 898.15 459.46 899.8C459.68 901.44 459.89 903.08 460.1 904.73C460.31 906.37 460.51 908.01 460.72 909.65C460.92 911.3 461.11 912.94 461.31 914.58C461.5 916.23 461.68 917.87 461.87 919.52C462.05 921.17 462.23 922.82 462.4 924.47C462.57 926.12 462.73 927.77 462.89 929.43C463.05 931.09 463.21 932.75 463.36 934.41C463.5 936.08 463.64 937.74 463.78 939.41C463.91 941.09 464.04 942.76 464.16 944.44C464.28 946.12 464.44 948.66 464.5 949.5L464.5 961.5Z" fill="#6DCBDD"/>
<path d="M148.2 525.5L148.2 537.5C148.26 538.32 148.45 540.76 148.58 542.39C148.7 544.03 148.84 545.67 148.97 547.31C149.11 548.96 149.25 550.61 149.4 552.26C149.54 553.91 149.69 555.57 149.85 557.23C150 558.89 150.16 560.55 150.32 562.22C150.49 563.88 150.65 565.55 150.83 567.22C151 568.89 151.17 570.56 151.35 572.23C151.54 573.91 151.72 575.58 151.91 577.25C152.1 578.93 152.3 580.6 152.5 582.27C152.7 583.94 152.9 585.62 153.11 587.29C153.33 588.96 153.54 590.63 153.76 592.3C153.98 593.97 154.21 595.63 154.44 597.3C154.67 598.96 154.91 600.62 155.15 602.28C155.39 603.94 155.64 605.6 155.89 607.25C156.14 608.9 156.4 610.55 156.66 612.19C156.93 613.83 157.2 615.47 157.47 617.1C157.75 618.73 158.03 620.36 158.33 621.99C158.62 623.61 158.92 625.23 159.23 626.85C159.55 628.46 159.87 630.07 160.21 631.68C160.55 633.28 160.89 634.88 161.26 636.48C161.62 638.08 162 639.67 162.4 641.26C162.79 642.85 163.21 644.44 163.64 646.02C164.07 647.6 164.52 649.17 164.99 650.75C165.46 652.32 165.95 653.89 166.46 655.45C166.97 657.02 167.51 658.58 168.07 660.14C168.63 661.69 169.21 663.25 169.82 664.8C170.43 666.35 171.07 667.89 171.73 669.44C172.4 670.98 173.09 672.52 173.81 674.05C174.53 675.59 175.29 677.12 176.07 678.65C176.85 680.18 177.67 681.71 178.52 683.22C179.37 684.72 180.25 686.23 181.16 687.7C182.07 689.18 183.01 690.64 183.99 692.06C184.97 693.49 185.98 694.89 187.02 696.25C188.07 697.6 189.15 698.93 190.26 700.21C191.37 701.48 192.51 702.72 193.69 703.89C194.87 705.06 196.08 706.19 197.33 707.25C198.58 708.31 199.86 709.31 201.18 710.24C202.5 711.16 203.85 712.03 205.24 712.8C206.63 713.58 208.05 714.28 209.51 714.9C210.97 715.51 212.46 716.04 213.99 716.47C215.53 716.9 217.09 717.24 218.7 717.47C220.3 717.7 221.95 717.83 223.62 717.85C225.3 717.88 227.03 717.75 228.75 717.61C230.47 717.48 232.23 717.22 233.95 717.02C235.67 716.82 237.4 716.57 239.07 716.43C240.73 716.28 242.35 716.19 243.96 716.14C245.58 716.09 247.14 716.11 248.76 716.13C250.38 716.15 252.02 716.24 253.69 716.26C255.37 716.28 257.13 716.37 258.81 716.25C260.49 716.13 262.21 715.99 263.77 715.54C265.33 715.1 266.8 714.43 268.17 713.58C269.54 712.72 270.75 711.56 271.99 710.43C273.24 709.31 274.38 707.98 275.63 706.82C276.87 705.67 278.1 704.46 279.46 703.51C280.83 702.55 282.3 701.79 283.81 701.08C285.32 700.38 286.94 699.87 288.5 699.27C290.06 698.66 291.66 698.11 293.18 697.43C294.7 696.76 296.18 696 297.63 695.21C299.09 694.41 300.5 693.54 301.92 692.67C303.33 691.8 304.72 690.88 306.12 689.98C307.52 689.07 308.91 688.14 310.33 687.26C311.75 686.37 313.16 685.48 314.63 684.66C316.09 683.83 317.57 683.04 319.1 682.32C320.64 681.6 322.27 681.03 323.83 680.36C325.38 679.69 327.04 679.17 328.43 678.31C329.82 677.45 331.02 676.36 332.16 675.19C333.31 674.03 334.23 672.57 335.31 671.31C336.39 670.05 337.49 668.8 338.64 667.61C339.79 666.42 340.98 665.28 342.2 664.16C343.42 663.04 344.68 661.96 345.95 660.9C347.22 659.83 348.52 658.8 349.84 657.78C351.15 656.76 352.48 655.76 353.81 654.76C355.15 653.76 356.5 652.77 357.84 651.78C359.18 650.78 360.53 649.8 361.86 648.79C363.19 647.79 364.53 646.78 365.84 645.75C367.15 644.72 368.44 643.67 369.72 642.6C371 641.53 372.26 640.45 373.51 639.34C374.75 638.24 375.98 637.12 377.19 635.98C378.4 634.84 379.6 633.69 380.77 632.51C381.95 631.34 383.11 630.15 384.26 628.95C385.4 627.74 386.53 626.52 387.63 625.28C388.74 624.05 389.84 622.79 390.91 621.53C391.99 620.26 393.05 618.98 394.09 617.68C395.13 616.38 396.15 615.07 397.16 613.75C398.17 612.43 399.16 611.09 400.13 609.74C401.1 608.39 402.06 607.02 403 605.65C403.93 604.27 404.86 602.89 405.76 601.49C406.66 600.09 407.55 598.67 408.42 597.25C409.29 595.83 410.14 594.4 410.97 592.95C411.81 591.51 412.62 590.05 413.42 588.59C414.22 587.12 415 585.65 415.77 584.17C416.53 582.68 417.28 581.19 418.01 579.69C418.74 578.19 419.45 576.68 420.15 575.16C420.84 573.64 421.52 572.11 422.17 570.58C422.83 569.05 423.48 567.51 424.1 565.96C424.72 564.41 425.33 562.86 425.92 561.3C426.5 559.74 427.07 558.17 427.63 556.6C428.18 555.02 428.71 553.45 429.23 551.86C429.75 550.28 430.25 548.69 430.73 547.1C431.21 545.51 431.67 543.91 432.12 542.31C432.56 540.71 433.19 538.3 433.4 537.5L433.4 525.5Z" fill="#6FC06B"/>
<path d="M168.5 961.5L168.5 949.5C168.74 948.73 169.45 946.41 169.92 944.85C170.39 943.3 170.86 941.73 171.34 940.16C171.81 938.59 172.29 937.01 172.76 935.43C173.24 933.85 173.72 932.26 174.2 930.67C174.68 929.08 175.17 927.48 175.66 925.88C176.15 924.28 176.64 922.68 177.14 921.08C177.64 919.47 178.14 917.87 178.65 916.26C179.16 914.66 179.68 913.05 180.2 911.45C180.73 909.84 181.26 908.24 181.8 906.63C182.34 905.03 182.89 903.43 183.45 901.83C184.01 900.23 184.57 898.63 185.15 897.04C185.73 895.45 186.32 893.86 186.92 892.28C187.52 890.69 188.13 889.11 188.76 887.54C189.38 885.97 190.02 884.4 190.67 882.85C191.33 881.29 191.99 879.74 192.67 878.19C193.35 876.65 194.05 875.12 194.76 873.59C195.47 872.07 196.2 870.55 196.94 869.05C197.68 867.55 198.45 866.05 199.22 864.57C200 863.09 200.8 861.62 201.62 860.16C202.43 858.71 203.27 857.26 204.12 855.84C204.98 854.41 205.85 852.99 206.75 851.59C207.65 850.19 208.57 848.81 209.51 847.44C210.45 846.07 211.41 844.72 212.4 843.39C213.38 842.05 214.39 840.74 215.43 839.44C216.46 838.14 217.52 836.86 218.6 835.6C219.68 834.34 220.78 833.1 221.9 831.87C223.03 830.65 224.17 829.44 225.34 828.25C226.5 827.06 227.69 825.89 228.89 824.73C230.09 823.58 231.31 822.44 232.55 821.31C233.78 820.19 235.03 819.08 236.3 817.99C237.57 816.9 238.85 815.82 240.15 814.76C241.44 813.7 242.75 812.66 244.07 811.63C245.39 810.6 246.73 809.59 248.07 808.58C249.41 807.58 250.77 806.6 252.13 805.63C253.49 804.65 254.86 803.7 256.24 802.75C257.62 801.81 259 800.88 260.39 799.96C261.79 799.04 263.18 798.14 264.58 797.25C265.99 796.35 267.39 795.47 268.8 794.6C270.21 793.73 271.63 792.87 273.04 792.01C274.46 791.16 275.89 790.31 277.31 789.47C278.74 788.62 280.17 787.79 281.6 786.95C283.03 786.11 284.46 785.28 285.9 784.44C287.34 783.6 288.78 782.77 290.22 781.93C291.66 781.09 293.11 780.25 294.56 779.4C296 778.55 297.45 777.69 298.9 776.83C300.35 775.97 301.8 775.1 303.26 774.24C304.71 773.37 306.17 772.5 307.63 771.65C309.09 770.8 310.56 769.94 312.03 769.12C313.51 768.29 314.98 767.48 316.47 766.69C317.96 765.91 319.45 765.15 320.96 764.43C322.46 763.7 323.97 763.01 325.5 762.36C327.02 761.71 328.55 761.1 330.1 760.55C331.64 760 333.2 759.48 334.77 759.04C336.34 758.59 337.93 758.2 339.53 757.88C341.13 757.56 342.74 757.3 344.38 757.12C346.01 756.94 347.66 756.84 349.32 756.81C350.99 756.78 352.67 756.86 354.37 756.95C356.06 757.05 357.77 757.22 359.48 757.37C361.18 757.52 362.9 757.71 364.6 757.83C366.31 757.96 368.01 758.07 369.7 758.11C371.39 758.16 373.07 758.09 374.73 758.1C376.39 758.11 378.04 758.05 379.66 758.17C381.28 758.29 382.88 758.48 384.45 758.84C386.02 759.2 387.57 759.72 389.09 760.33C390.61 760.94 392.1 761.69 393.56 762.47C395.02 763.26 396.45 764.14 397.85 765.05C399.25 765.95 400.62 766.92 401.95 767.92C403.29 768.92 404.59 769.97 405.87 771.05C407.14 772.14 408.38 773.27 409.59 774.43C410.79 775.6 411.97 776.8 413.11 778.03C414.25 779.27 415.36 780.54 416.43 781.83C417.51 783.13 418.55 784.46 419.56 785.81C420.56 787.16 421.53 788.54 422.47 789.94C423.41 791.33 424.31 792.76 425.18 794.19C426.04 795.63 426.88 797.09 427.67 798.55C428.47 800.02 429.23 801.51 429.96 803C430.69 804.5 431.38 806.01 432.05 807.53C432.72 809.05 433.35 810.58 433.96 812.13C434.58 813.67 435.16 815.23 435.72 816.79C436.29 818.35 436.83 819.92 437.35 821.5C437.87 823.08 438.37 824.67 438.85 826.26C439.34 827.86 439.8 829.46 440.25 831.07C440.71 832.67 441.15 834.28 441.58 835.9C442.01 837.51 442.42 839.14 442.84 840.76C443.25 842.38 443.65 844.01 444.05 845.63C444.45 847.26 444.84 848.89 445.24 850.52C445.63 852.14 446.02 853.77 446.42 855.4C446.81 857.03 447.21 858.65 447.61 860.28C448.01 861.9 448.42 863.52 448.82 865.15C449.23 866.77 449.64 868.39 450.03 870.01C450.43 871.63 450.82 873.25 451.2 874.87C451.58 876.5 451.96 878.12 452.31 879.75C452.66 881.38 452.99 883.01 453.31 884.65C453.62 886.29 453.91 887.93 454.18 889.57C454.46 891.22 454.71 892.87 454.94 894.52C455.17 896.17 455.39 897.83 455.59 899.49C455.79 901.14 455.98 902.81 456.15 904.47C456.32 906.13 456.48 907.8 456.63 909.47C456.78 911.14 456.91 912.81 457.04 914.48C457.17 916.15 457.29 917.82 457.4 919.49C457.51 921.16 457.62 922.83 457.72 924.51C457.82 926.18 457.92 927.85 458.02 929.52C458.11 931.19 458.2 932.86 458.3 934.53C458.39 936.2 458.48 937.87 458.58 939.53C458.68 941.2 458.77 942.86 458.88 944.53C458.98 946.19 459.15 948.67 459.2 949.5L459.2 961.5Z" fill="#6FC06B"/>
<path d="M153.2 525.5L153.2 537.5C153.28 538.32 153.53 540.79 153.71 542.44C153.88 544.09 154.07 545.74 154.25 547.39C154.44 549.05 154.64 550.71 154.84 552.37C155.04 554.03 155.25 555.69 155.46 557.36C155.67 559.03 155.89 560.69 156.11 562.36C156.34 564.03 156.56 565.7 156.8 567.37C157.03 569.04 157.27 570.72 157.51 572.39C157.75 574.06 158 575.74 158.25 577.41C158.5 579.08 158.76 580.76 159.01 582.43C159.27 584.1 159.53 585.77 159.8 587.44C160.06 589.11 160.33 590.78 160.6 592.45C160.87 594.12 161.15 595.79 161.42 597.45C161.7 599.11 161.98 600.78 162.26 602.44C162.54 604.09 162.82 605.75 163.11 607.4C163.39 609.06 163.68 610.71 163.97 612.36C164.25 614 164.54 615.64 164.84 617.28C165.13 618.92 165.42 620.56 165.73 622.19C166.04 623.82 166.35 625.45 166.67 627.07C167 628.69 167.33 630.31 167.69 631.93C168.04 633.54 168.41 635.15 168.79 636.76C169.18 638.36 169.59 639.97 170.02 641.56C170.45 643.16 170.9 644.75 171.37 646.34C171.85 647.93 172.36 649.51 172.89 651.09C173.43 652.67 173.99 654.25 174.6 655.82C175.2 657.39 175.83 658.95 176.5 660.51C177.18 662.07 177.88 663.63 178.63 665.17C179.38 666.72 180.17 668.26 180.99 669.78C181.82 671.3 182.68 672.8 183.58 674.28C184.48 675.76 185.41 677.22 186.39 678.64C187.36 680.07 188.37 681.47 189.42 682.83C190.46 684.19 191.55 685.52 192.66 686.8C193.78 688.08 194.93 689.33 196.12 690.52C197.31 691.7 198.54 692.85 199.79 693.93C201.05 695.02 202.35 696.05 203.67 697.02C205 697.98 206.36 698.9 207.76 699.73C209.15 700.56 210.58 701.34 212.04 702.03C213.5 702.72 215 703.34 216.53 703.88C218.05 704.41 219.62 704.87 221.21 705.23C222.8 705.6 224.43 705.87 226.08 706.06C227.73 706.26 229.41 706.36 231.11 706.42C232.8 706.47 234.52 706.45 236.24 706.39C237.96 706.33 239.69 706.21 241.42 706.08C243.14 705.94 244.88 705.76 246.59 705.57C248.31 705.39 250.03 705.18 251.72 704.98C253.4 704.77 255.09 704.6 256.72 704.35C258.36 704.1 259.98 703.87 261.54 703.47C263.1 703.06 264.62 702.58 266.07 701.91C267.53 701.24 268.91 700.37 270.28 699.45C271.65 698.52 272.96 697.43 274.3 696.39C275.64 695.35 276.95 694.21 278.32 693.2C279.68 692.19 281.07 691.21 282.49 690.32C283.91 689.42 285.38 688.62 286.85 687.83C288.33 687.03 289.83 686.3 291.32 685.53C292.8 684.76 294.3 684 295.78 683.21C297.26 682.43 298.74 681.62 300.22 680.81C301.69 680 303.16 679.17 304.62 678.33C306.09 677.5 307.54 676.65 309 675.8C310.45 674.95 311.91 674.08 313.35 673.22C314.8 672.36 316.24 671.49 317.68 670.61C319.12 669.74 320.56 668.86 321.99 667.98C323.42 667.09 324.84 666.2 326.26 665.31C327.68 664.41 329.1 663.5 330.5 662.59C331.91 661.68 333.31 660.76 334.71 659.83C336.1 658.91 337.49 657.97 338.87 657.03C340.25 656.08 341.62 655.13 342.98 654.16C344.35 653.19 345.7 652.22 347.05 651.23C348.39 650.25 349.73 649.25 351.06 648.24C352.39 647.23 353.7 646.21 355.01 645.18C356.32 644.14 357.61 643.1 358.9 642.04C360.19 640.98 361.46 639.9 362.72 638.82C363.99 637.73 365.24 636.62 366.48 635.51C367.71 634.39 368.94 633.26 370.15 632.11C371.37 630.96 372.57 629.79 373.75 628.61C374.94 627.43 376.11 626.23 377.27 625.02C378.43 623.81 379.57 622.58 380.7 621.34C381.83 620.09 382.94 618.84 384.04 617.57C385.14 616.29 386.22 615.01 387.29 613.71C388.35 612.41 389.4 611.09 390.44 609.77C391.47 608.44 392.49 607.1 393.48 605.74C394.48 604.39 395.46 603.02 396.43 601.64C397.39 600.26 398.33 598.87 399.26 597.47C400.18 596.06 401.09 594.64 401.98 593.22C402.87 591.79 403.73 590.35 404.58 588.9C405.43 587.44 406.26 585.98 407.06 584.51C407.87 583.04 408.66 581.55 409.42 580.06C410.18 578.56 410.93 577.06 411.65 575.54C412.37 574.03 413.07 572.5 413.75 570.97C414.42 569.43 415.08 567.89 415.71 566.33C416.34 564.78 416.94 563.22 417.53 561.65C418.11 560.08 418.67 558.5 419.2 556.91C419.74 555.32 420.25 553.73 420.73 552.13C421.22 550.52 421.68 548.91 422.11 547.29C422.55 545.67 422.95 544.05 423.34 542.42C423.72 540.78 424.22 538.32 424.4 537.5L424.4 525.5Z" fill="#6ABD45"/>
<path d="M174 961.5L174 949.5C174.27 948.73 175.08 946.44 175.62 944.9C176.16 943.36 176.7 941.81 177.24 940.26C177.78 938.7 178.31 937.14 178.85 935.57C179.4 934 179.94 932.42 180.48 930.85C181.02 929.27 181.57 927.68 182.12 926.09C182.67 924.51 183.22 922.92 183.78 921.32C184.34 919.73 184.9 918.14 185.47 916.54C186.04 914.95 186.61 913.35 187.19 911.75C187.77 910.16 188.36 908.56 188.95 906.97C189.55 905.37 190.15 903.78 190.76 902.19C191.38 900.6 192 899.01 192.63 897.43C193.26 895.85 193.9 894.27 194.55 892.7C195.2 891.13 195.87 889.56 196.54 888C197.22 886.44 197.91 884.88 198.61 883.34C199.31 881.79 200.02 880.25 200.75 878.73C201.48 877.2 202.22 875.68 202.98 874.17C203.74 872.66 204.52 871.16 205.31 869.67C206.1 868.19 206.91 866.71 207.73 865.25C208.56 863.79 209.4 862.34 210.27 860.9C211.13 859.47 212.01 858.04 212.91 856.64C213.81 855.23 214.73 853.84 215.67 852.47C216.62 851.09 217.58 849.74 218.56 848.4C219.55 847.06 220.56 845.74 221.59 844.44C222.62 843.13 223.67 841.85 224.75 840.59C225.83 839.33 226.93 838.08 228.06 836.86C229.18 835.64 230.33 834.44 231.5 833.26C232.67 832.07 233.87 830.91 235.08 829.77C236.29 828.62 237.52 827.49 238.77 826.38C240.02 825.27 241.29 824.18 242.58 823.11C243.86 822.03 245.17 820.97 246.48 819.93C247.8 818.88 249.13 817.85 250.48 816.84C251.82 815.83 253.18 814.83 254.55 813.84C255.92 812.85 257.3 811.88 258.69 810.92C260.08 809.96 261.48 809.02 262.89 808.08C264.3 807.15 265.71 806.23 267.14 805.32C268.56 804.4 269.99 803.5 271.42 802.61C272.86 801.72 274.3 800.84 275.74 799.97C277.18 799.1 278.63 798.24 280.07 797.38C281.52 796.53 282.97 795.69 284.42 794.85C285.87 794.01 287.32 793.19 288.78 792.37C290.24 791.55 291.7 790.74 293.16 789.94C294.63 789.14 296.1 788.36 297.57 787.58C299.04 786.8 300.52 786.03 302.01 785.27C303.5 784.51 304.99 783.77 306.49 783.03C307.98 782.3 309.49 781.57 311 780.86C312.52 780.14 314.04 779.44 315.57 778.75C317.1 778.07 318.64 777.39 320.18 776.74C321.73 776.09 323.29 775.45 324.85 774.84C326.41 774.24 327.99 773.65 329.57 773.1C331.15 772.55 332.74 772.03 334.34 771.55C335.93 771.07 337.54 770.62 339.15 770.21C340.77 769.81 342.39 769.45 344.03 769.13C345.66 768.82 347.3 768.55 348.95 768.34C350.6 768.13 352.26 767.97 353.92 767.86C355.59 767.75 357.26 767.7 358.94 767.69C360.62 767.68 362.3 767.72 363.99 767.8C365.67 767.88 367.36 768.01 369.05 768.17C370.74 768.34 372.44 768.54 374.12 768.8C375.8 769.06 377.49 769.36 379.15 769.73C380.81 770.1 382.47 770.53 384.1 771.03C385.72 771.53 387.34 772.11 388.9 772.75C390.47 773.39 392.01 774.1 393.5 774.86C394.98 775.63 396.43 776.46 397.81 777.35C399.19 778.23 400.52 779.18 401.79 780.18C403.07 781.18 404.29 782.24 405.47 783.34C406.65 784.44 407.77 785.59 408.86 786.78C409.94 787.98 410.98 789.22 411.98 790.5C412.98 791.78 413.94 793.1 414.86 794.45C415.78 795.8 416.66 797.2 417.51 798.61C418.36 800.03 419.18 801.49 419.96 802.96C420.75 804.44 421.5 805.94 422.23 807.47C422.96 808.99 423.66 810.54 424.34 812.1C425.02 813.66 425.68 815.25 426.32 816.84C426.95 818.43 427.57 820.04 428.17 821.65C428.77 823.26 429.36 824.89 429.93 826.51C430.51 828.13 431.06 829.77 431.62 831.39C432.17 833.02 432.71 834.64 433.25 836.27C433.78 837.89 434.31 839.51 434.83 841.13C435.35 842.76 435.86 844.38 436.36 845.99C436.86 847.61 437.35 849.23 437.83 850.85C438.31 852.47 438.79 854.08 439.25 855.7C439.72 857.31 440.18 858.93 440.62 860.55C441.07 862.16 441.51 863.78 441.93 865.39C442.36 867.01 442.78 868.62 443.19 870.24C443.6 871.86 444 873.48 444.39 875.09C444.78 876.71 445.16 878.33 445.53 879.95C445.9 881.57 446.26 883.19 446.61 884.82C446.97 886.44 447.31 888.06 447.64 889.69C447.97 891.31 448.29 892.94 448.6 894.57C448.91 896.2 449.21 897.83 449.5 899.47C449.79 901.1 450.07 902.74 450.34 904.38C450.6 906.02 450.86 907.66 451.11 909.3C451.36 910.95 451.59 912.6 451.82 914.25C452.04 915.9 452.26 917.55 452.46 919.21C452.67 920.87 452.86 922.53 453.04 924.19C453.22 925.86 453.39 927.53 453.55 929.2C453.71 930.88 453.86 932.55 453.99 934.23C454.13 935.92 454.25 937.6 454.37 939.29C454.48 940.98 454.58 942.68 454.67 944.38C454.76 946.08 454.86 948.65 454.9 949.5L454.9 961.5Z" fill="#6ABD45"/>
<path d="M159 525.5L159 537.5C159.05 538.34 159.17 540.87 159.29 542.54C159.4 544.22 159.54 545.9 159.7 547.57C159.86 549.24 160.04 550.91 160.24 552.58C160.44 554.24 160.65 555.91 160.88 557.57C161.12 559.23 161.36 560.89 161.63 562.54C161.89 564.2 162.17 565.85 162.46 567.51C162.75 569.16 163.05 570.81 163.37 572.46C163.68 574.1 164.01 575.75 164.34 577.4C164.68 579.04 165.02 580.68 165.37 582.33C165.72 583.97 166.09 585.61 166.45 587.25C166.82 588.89 167.19 590.53 167.56 592.17C167.94 593.81 168.32 595.45 168.7 597.08C169.08 598.72 169.47 600.36 169.85 602C170.23 603.63 170.62 605.27 171 606.91C171.39 608.54 171.77 610.18 172.15 611.82C172.53 613.46 172.91 615.09 173.28 616.73C173.66 618.37 174.04 620.01 174.42 621.64C174.8 623.27 175.19 624.91 175.59 626.53C175.99 628.16 176.39 629.79 176.82 631.41C177.24 633.02 177.68 634.64 178.14 636.24C178.6 637.85 179.07 639.45 179.58 641.04C180.09 642.63 180.61 644.21 181.18 645.79C181.74 647.36 182.32 648.92 182.95 650.47C183.58 652.02 184.24 653.56 184.94 655.09C185.64 656.61 186.38 658.12 187.17 659.62C187.96 661.12 188.79 662.6 189.67 664.07C190.55 665.53 191.48 666.98 192.45 668.39C193.42 669.79 194.44 671.18 195.5 672.52C196.56 673.87 197.67 675.18 198.82 676.43C199.97 677.68 201.16 678.89 202.39 680.04C203.62 681.19 204.9 682.29 206.21 683.31C207.52 684.33 208.87 685.29 210.27 686.17C211.66 687.05 213.09 687.86 214.55 688.57C216.02 689.29 217.53 689.93 219.07 690.47C220.61 691 222.18 691.45 223.79 691.79C225.4 692.13 227.05 692.36 228.71 692.52C230.37 692.68 232.07 692.74 233.77 692.74C235.46 692.74 237.18 692.65 238.89 692.52C240.61 692.39 242.33 692.18 244.04 691.95C245.74 691.72 247.45 691.42 249.13 691.12C250.8 690.81 252.47 690.46 254.1 690.1C255.74 689.74 257.34 689.36 258.93 688.94C260.53 688.51 262.09 688.06 263.65 687.55C265.2 687.04 266.74 686.47 268.27 685.86C269.8 685.25 271.31 684.57 272.82 683.86C274.33 683.16 275.83 682.4 277.32 681.63C278.81 680.85 280.29 680.04 281.76 679.23C283.24 678.41 284.71 677.57 286.18 676.73C287.64 675.9 289.1 675.05 290.56 674.22C292.02 673.39 293.47 672.56 294.92 671.73C296.37 670.89 297.81 670.05 299.24 669.19C300.67 668.33 302.09 667.46 303.51 666.57C304.92 665.69 306.33 664.78 307.73 663.87C309.13 662.96 310.52 662.03 311.9 661.09C313.29 660.15 314.67 659.21 316.04 658.25C317.42 657.29 318.79 656.33 320.15 655.35C321.52 654.38 322.88 653.4 324.24 652.41C325.6 651.43 326.96 650.44 328.31 649.44C329.67 648.45 331.02 647.45 332.37 646.45C333.73 645.45 335.08 644.44 336.43 643.44C337.78 642.44 339.14 641.43 340.49 640.43C341.85 639.43 343.2 638.43 344.56 637.43C345.92 636.43 347.28 635.44 348.65 634.45C350.01 633.46 351.38 632.48 352.76 631.5C354.13 630.51 355.5 629.54 356.87 628.56C358.24 627.58 359.61 626.6 360.96 625.6C362.31 624.6 363.65 623.6 364.98 622.58C366.3 621.56 367.61 620.52 368.89 619.46C370.17 618.4 371.44 617.32 372.67 616.21C373.9 615.09 375.1 613.96 376.26 612.78C377.42 611.6 378.56 610.39 379.64 609.13C380.73 607.87 381.77 606.58 382.77 605.23C383.76 603.89 384.7 602.49 385.61 601.06C386.53 599.63 387.39 598.15 388.25 596.68C389.11 595.2 389.94 593.69 390.78 592.2C391.62 590.71 392.46 589.22 393.31 587.74C394.15 586.27 395.01 584.8 395.87 583.34C396.72 581.89 397.58 580.44 398.43 578.98C399.28 577.53 400.13 576.09 400.96 574.64C401.79 573.19 402.62 571.74 403.42 570.28C404.23 568.83 405.02 567.37 405.79 565.89C406.55 564.42 407.3 562.94 408.02 561.45C408.74 559.95 409.43 558.45 410.09 556.92C410.74 555.39 411.37 553.85 411.95 552.28C412.53 550.72 413.08 549.13 413.58 547.52C414.08 545.9 414.54 544.27 414.94 542.6C415.34 540.93 415.82 538.35 416 537.5L416 525.5Z" fill="#8DC63F"/>
<path d="M180.6 961.5L180.6 949.5C180.84 948.71 181.57 946.34 182.07 944.76C182.56 943.18 183.07 941.6 183.58 940.01C184.1 938.43 184.62 936.85 185.16 935.26C185.69 933.68 186.23 932.1 186.79 930.51C187.34 928.93 187.91 927.35 188.48 925.77C189.06 924.2 189.64 922.62 190.24 921.05C190.84 919.48 191.45 917.91 192.07 916.34C192.7 914.78 193.33 913.22 193.98 911.66C194.63 910.11 195.29 908.56 195.96 907.01C196.63 905.47 197.32 903.93 198.02 902.4C198.72 900.87 199.44 899.34 200.17 897.83C200.9 896.31 201.64 894.8 202.4 893.3C203.16 891.8 203.94 890.31 204.73 888.83C205.52 887.35 206.33 885.88 207.15 884.42C207.98 882.96 208.82 881.51 209.67 880.07C210.53 878.63 211.41 877.21 212.3 875.79C213.19 874.38 214.1 872.98 215.03 871.59C215.96 870.2 216.9 868.83 217.87 867.47C218.83 866.11 219.82 864.76 220.82 863.43C221.82 862.11 222.85 860.79 223.89 859.49C224.93 858.19 226 856.91 227.08 855.65C228.16 854.38 229.27 853.14 230.4 851.91C231.52 850.68 232.67 849.47 233.84 848.28C235.01 847.08 236.2 845.91 237.41 844.76C238.63 843.61 239.86 842.47 241.12 841.36C242.38 840.25 243.67 839.16 244.97 838.09C246.27 837.02 247.6 835.97 248.94 834.93C250.27 833.89 251.63 832.87 252.98 831.86C254.34 830.84 255.71 829.84 257.07 828.84C258.43 827.84 259.8 826.84 261.16 825.85C262.52 824.85 263.88 823.85 265.22 822.85C266.56 821.85 267.89 820.84 269.2 819.83C270.52 818.81 271.8 817.78 273.09 816.76C274.38 815.73 275.65 814.69 276.94 813.67C278.23 812.64 279.52 811.61 280.83 810.6C282.15 809.59 283.48 808.59 284.82 807.61C286.17 806.62 287.53 805.64 288.91 804.69C290.29 803.73 291.69 802.79 293.1 801.86C294.51 800.94 295.94 800.03 297.38 799.15C298.82 798.26 300.27 797.4 301.74 796.56C303.2 795.71 304.68 794.89 306.18 794.1C307.67 793.31 309.17 792.54 310.69 791.8C312.21 791.06 313.74 790.34 315.27 789.66C316.81 788.98 318.36 788.32 319.92 787.7C321.48 787.08 323.05 786.49 324.63 785.94C326.21 785.39 327.8 784.87 329.4 784.39C330.99 783.9 332.6 783.46 334.21 783.05C335.82 782.65 337.44 782.28 339.07 781.96C340.7 781.64 342.33 781.35 343.97 781.12C345.61 780.88 347.25 780.69 348.9 780.54C350.55 780.39 352.21 780.3 353.87 780.24C355.52 780.18 357.19 780.18 358.85 780.21C360.51 780.23 362.18 780.31 363.85 780.42C365.51 780.52 367.18 780.67 368.84 780.85C370.51 781.03 372.18 781.23 373.83 781.5C375.47 781.77 377.12 782.07 378.73 782.47C380.35 782.86 381.94 783.32 383.5 783.88C385.06 784.44 386.58 785.09 388.07 785.82C389.55 786.54 391.01 787.36 392.42 788.23C393.84 789.1 395.22 790.05 396.56 791.05C397.9 792.04 399.21 793.1 400.47 794.2C401.73 795.31 402.96 796.46 404.14 797.66C405.32 798.86 406.45 800.11 407.54 801.39C408.63 802.67 409.67 804 410.66 805.36C411.65 806.71 412.59 808.11 413.47 809.53C414.35 810.95 415.18 812.4 415.96 813.88C416.73 815.35 417.44 816.85 418.12 818.36C418.8 819.88 419.43 821.41 420.05 822.96C420.67 824.5 421.25 826.06 421.84 827.61C422.43 829.17 423 830.74 423.59 832.3C424.18 833.86 424.77 835.42 425.37 836.98C425.97 838.54 426.57 840.1 427.18 841.67C427.78 843.23 428.38 844.79 428.98 846.35C429.58 847.92 430.17 849.48 430.76 851.05C431.34 852.62 431.92 854.19 432.48 855.76C433.05 857.34 433.6 858.92 434.13 860.5C434.66 862.08 435.18 863.67 435.68 865.26C436.17 866.86 436.65 868.45 437.1 870.06C437.54 871.67 437.97 873.28 438.36 874.9C438.76 876.52 439.12 878.14 439.45 879.78C439.78 881.41 440.08 883.06 440.34 884.71C440.6 886.36 440.81 888.03 441.02 889.7C441.22 891.36 441.38 893.04 441.55 894.72C441.72 896.39 441.86 898.07 442.02 899.75C442.18 901.43 442.33 903.11 442.5 904.79C442.68 906.46 442.86 908.13 443.07 909.8C443.29 911.46 443.54 913.11 443.8 914.77C444.05 916.42 444.34 918.06 444.63 919.71C444.92 921.35 445.23 922.99 445.53 924.63C445.82 926.27 446.13 927.91 446.42 929.56C446.71 931.2 446.99 932.84 447.25 934.49C447.51 936.14 447.76 937.79 447.96 939.45C448.17 941.11 448.36 942.77 448.5 944.45C448.64 946.12 448.75 948.66 448.8 949.5L448.8 961.5Z" fill="#8DC63F"/>
<path d="M164.8 525.5L164.8 537.5C164.82 538.36 164.85 540.96 164.93 542.67C165.02 544.37 165.15 546.07 165.31 547.76C165.48 549.44 165.68 551.11 165.91 552.78C166.15 554.45 166.42 556.1 166.71 557.75C167 559.4 167.32 561.04 167.66 562.68C167.99 564.31 168.36 565.94 168.74 567.57C169.11 569.2 169.51 570.82 169.91 572.44C170.32 574.06 170.74 575.68 171.16 577.3C171.58 578.92 172.01 580.53 172.44 582.15C172.86 583.77 173.3 585.39 173.72 587.02C174.15 588.64 174.57 590.27 174.98 591.9C175.39 593.53 175.8 595.17 176.19 596.81C176.58 598.45 176.95 600.1 177.33 601.75C177.7 603.41 178.06 605.06 178.42 606.72C178.79 608.38 179.14 610.03 179.51 611.69C179.88 613.34 180.25 615 180.64 616.64C181.02 618.29 181.41 619.94 181.83 621.57C182.25 623.21 182.67 624.83 183.13 626.45C183.59 628.07 184.06 629.68 184.57 631.27C185.09 632.86 185.62 634.45 186.2 636.01C186.78 637.57 187.38 639.12 188.04 640.65C188.7 642.18 189.39 643.7 190.13 645.19C190.88 646.68 191.67 648.15 192.52 649.59C193.36 651.03 194.25 652.45 195.19 653.84C196.14 655.23 197.13 656.59 198.16 657.92C199.2 659.24 200.29 660.54 201.42 661.79C202.55 663.04 203.73 664.26 204.96 665.44C206.19 666.61 207.46 667.75 208.78 668.83C210.1 669.92 211.47 670.97 212.88 671.95C214.29 672.93 215.75 673.89 217.24 674.71C218.73 675.52 220.27 676.28 221.83 676.82C223.39 677.36 224.98 677.76 226.59 677.95C228.19 678.14 229.82 678.05 231.47 677.95C233.12 677.84 234.78 677.53 236.46 677.32C238.14 677.12 239.83 676.82 241.54 676.71C243.24 676.6 244.97 676.63 246.68 676.66C248.39 676.7 250.11 676.91 251.79 676.94C253.47 676.97 255.14 677.05 256.74 676.85C258.35 676.65 259.9 676.29 261.41 675.74C262.92 675.19 264.36 674.35 265.81 673.53C267.25 672.72 268.67 671.75 270.11 670.87C271.55 669.99 272.99 669.1 274.45 668.24C275.9 667.38 277.36 666.54 278.83 665.69C280.29 664.85 281.76 664.02 283.23 663.19C284.7 662.36 286.17 661.54 287.64 660.71C289.11 659.88 290.58 659.05 292.04 658.21C293.5 657.37 294.96 656.52 296.4 655.66C297.85 654.8 299.29 653.93 300.71 653.04C302.14 652.15 303.55 651.24 304.96 650.31C306.36 649.38 307.74 648.41 309.13 647.47C310.52 646.53 311.9 645.56 313.3 644.64C314.71 643.72 316.11 642.81 317.55 641.96C318.99 641.12 320.46 640.33 321.94 639.55C323.42 638.78 324.93 638.06 326.41 637.31C327.9 636.57 329.41 635.85 330.87 635.07C332.33 634.3 333.79 633.52 335.2 632.65C336.6 631.78 337.97 630.85 339.29 629.87C340.62 628.88 341.89 627.8 343.16 626.72C344.43 625.63 345.66 624.49 346.9 623.36C348.14 622.22 349.37 621.08 350.6 619.93C351.83 618.78 353.06 617.63 354.29 616.47C355.51 615.31 356.73 614.14 357.94 612.97C359.15 611.79 360.36 610.61 361.55 609.42C362.75 608.23 363.93 607.04 365.11 605.83C366.29 604.62 367.46 603.41 368.61 602.18C369.76 600.96 370.91 599.72 372.03 598.48C373.16 597.23 374.28 595.97 375.37 594.7C376.47 593.43 377.55 592.16 378.62 590.86C379.68 589.57 380.73 588.26 381.76 586.95C382.78 585.63 383.79 584.3 384.78 582.95C385.76 581.6 386.73 580.24 387.67 578.87C388.61 577.49 389.53 576.11 390.43 574.7C391.32 573.29 392.19 571.87 393.03 570.43C393.88 569 394.69 567.54 395.48 566.07C396.27 564.6 397.03 563.11 397.76 561.6C398.49 560.09 399.19 558.57 399.85 557.02C400.52 555.47 401.15 553.91 401.75 552.33C402.36 550.74 402.92 549.14 403.45 547.51C403.98 545.88 404.48 544.24 404.94 542.57C405.4 540.9 405.99 538.35 406.2 537.5L406.2 525.5Z" fill="#F5EC1E"/>
<path d="M188.1 961.5L188.1 949.5C188.31 948.7 188.91 946.29 189.35 944.69C189.78 943.09 190.23 941.48 190.7 939.88C191.17 938.28 191.66 936.67 192.16 935.08C192.67 933.48 193.19 931.89 193.74 930.3C194.28 928.71 194.85 927.12 195.43 925.54C196.01 923.96 196.62 922.39 197.24 920.83C197.87 919.26 198.51 917.7 199.18 916.15C199.85 914.61 200.53 913.07 201.24 911.54C201.95 910.01 202.68 908.49 203.44 906.99C204.19 905.48 204.96 903.99 205.76 902.51C206.56 901.03 207.38 899.57 208.23 898.12C209.07 896.67 209.94 895.23 210.83 893.81C211.73 892.4 212.64 890.99 213.59 889.61C214.53 888.23 215.49 886.86 216.48 885.52C217.47 884.17 218.49 882.84 219.52 881.53C220.55 880.22 221.61 878.92 222.69 877.65C223.77 876.37 224.87 875.11 225.98 873.87C227.1 872.62 228.24 871.4 229.39 870.19C230.55 868.98 231.72 867.78 232.91 866.6C234.1 865.42 235.3 864.26 236.52 863.11C237.74 861.96 238.98 860.83 240.23 859.71C241.48 858.59 242.74 857.49 244.02 856.4C245.29 855.31 246.58 854.23 247.88 853.17C249.18 852.11 250.49 851.06 251.8 850.03C253.12 848.99 254.45 847.97 255.79 846.96C257.13 845.95 258.47 844.95 259.82 843.97C261.17 842.99 262.53 842.01 263.9 841.05C265.26 840.09 266.63 839.15 268 838.21C269.37 837.27 270.75 836.34 272.12 835.41C273.5 834.47 274.87 833.54 276.24 832.6C277.61 831.66 278.97 830.72 280.33 829.75C281.68 828.78 283.03 827.81 284.36 826.8C285.69 825.8 287.02 824.77 288.32 823.71C289.62 822.65 290.91 821.55 292.18 820.44C293.46 819.33 294.71 818.16 295.99 817.05C297.27 815.95 298.54 814.82 299.86 813.81C301.19 812.79 302.52 811.8 303.93 810.96C305.34 810.11 306.8 809.38 308.31 808.75C309.82 808.11 311.41 807.64 313.02 807.16C314.62 806.68 316.27 806.3 317.92 805.85C319.56 805.41 321.23 804.99 322.87 804.47C324.52 803.96 326.15 803.35 327.77 802.75C329.39 802.15 331 801.47 332.6 800.87C334.21 800.26 335.8 799.63 337.4 799.12C338.99 798.62 340.58 798.16 342.18 797.83C343.77 797.49 345.37 797.26 346.97 797.1C348.57 796.94 350.17 796.88 351.78 796.88C353.4 796.87 355.01 796.95 356.64 797.08C358.27 797.2 359.9 797.4 361.55 797.62C363.19 797.85 364.86 798.13 366.53 798.44C368.19 798.75 369.89 799.08 371.56 799.47C373.24 799.87 374.92 800.29 376.56 800.8C378.2 801.3 379.83 801.86 381.4 802.5C382.96 803.14 384.49 803.85 385.97 804.64C387.44 805.42 388.87 806.28 390.26 807.2C391.64 808.12 392.98 809.11 394.28 810.14C395.58 811.18 396.83 812.27 398.04 813.41C399.25 814.55 400.42 815.74 401.55 816.97C402.68 818.2 403.77 819.47 404.83 820.77C405.88 822.07 406.89 823.41 407.87 824.77C408.84 826.12 409.78 827.51 410.68 828.92C411.59 830.32 412.46 831.75 413.29 833.19C414.13 834.63 414.93 836.1 415.7 837.57C416.48 839.05 417.22 840.55 417.93 842.06C418.65 843.57 419.33 845.1 419.99 846.64C420.65 848.18 421.29 849.74 421.9 851.3C422.51 852.86 423.09 854.44 423.66 856.03C424.23 857.61 424.77 859.21 425.29 860.81C425.82 862.42 426.32 864.03 426.81 865.65C427.3 867.26 427.77 868.89 428.23 870.51C428.69 872.14 429.13 873.77 429.56 875.41C430 877.04 430.41 878.68 430.82 880.31C431.23 881.95 431.63 883.58 432.02 885.22C432.41 886.85 432.8 888.49 433.17 890.12C433.55 891.75 433.91 893.39 434.27 895.02C434.63 896.65 434.98 898.28 435.32 899.92C435.66 901.55 435.99 903.18 436.32 904.81C436.64 906.45 436.95 908.08 437.26 909.72C437.57 911.35 437.86 912.99 438.15 914.63C438.43 916.27 438.71 917.91 438.98 919.55C439.25 921.2 439.51 922.84 439.75 924.49C440 926.14 440.24 927.79 440.47 929.45C440.7 931.1 440.91 932.76 441.12 934.42C441.33 936.08 441.53 937.75 441.71 939.42C441.9 941.09 442.07 942.77 442.24 944.45C442.4 946.13 442.62 948.66 442.7 949.5L442.7 961.5Z" fill="#F5EC1E"/>
<path d="M172.3 525.5L172.3 537.5C172.32 538.35 172.32 540.91 172.4 542.61C172.48 544.3 172.61 545.99 172.78 547.67C172.95 549.35 173.17 551.02 173.42 552.68C173.67 554.35 173.96 556.01 174.28 557.66C174.59 559.32 174.95 560.96 175.32 562.61C175.69 564.25 176.1 565.89 176.51 567.52C176.93 569.16 177.37 570.79 177.83 572.42C178.28 574.05 178.75 575.67 179.22 577.29C179.7 578.92 180.19 580.54 180.67 582.16C181.16 583.78 181.65 585.4 182.14 587.01C182.62 588.63 183.11 590.25 183.59 591.87C184.06 593.49 184.53 595.1 184.98 596.72C185.44 598.34 185.88 599.97 186.32 601.58C186.76 603.2 187.19 604.82 187.63 606.44C188.08 608.06 188.52 609.67 188.99 611.28C189.45 612.88 189.93 614.49 190.44 616.08C190.94 617.68 191.47 619.27 192.04 620.85C192.61 622.43 193.2 624 193.85 625.56C194.5 627.12 195.19 628.67 195.94 630.2C196.68 631.73 197.48 633.26 198.33 634.75C199.18 636.24 200.09 637.71 201.04 639.14C202 640.57 203 641.97 204.06 643.31C205.12 644.66 206.23 645.96 207.39 647.2C208.55 648.44 209.76 649.63 211.02 650.74C212.28 651.85 213.59 652.9 214.95 653.86C216.31 654.82 217.72 655.71 219.18 656.49C220.64 657.28 222.15 658 223.69 658.56C225.24 659.12 226.83 659.59 228.43 659.88C230.03 660.17 231.67 660.25 233.31 660.29C234.96 660.33 236.63 660.17 238.3 660.1C239.97 660.03 241.66 659.9 243.35 659.87C245.03 659.84 246.73 659.92 248.41 659.94C250.1 659.96 251.78 660.06 253.43 660.01C255.08 659.96 256.72 659.9 258.31 659.64C259.91 659.38 261.47 658.97 263 658.45C264.54 657.93 266.03 657.24 267.53 656.53C269.02 655.81 270.49 654.97 271.97 654.16C273.46 653.35 274.93 652.46 276.43 651.65C277.93 650.84 279.45 650.03 280.99 649.3C282.52 648.57 284.1 647.91 285.67 647.26C287.23 646.6 288.82 646 290.38 645.36C291.93 644.71 293.5 644.09 295.01 643.38C296.52 642.67 298.02 641.94 299.46 641.11C300.89 640.28 302.27 639.35 303.64 638.39C305 637.43 306.31 636.38 307.64 635.36C308.97 634.33 310.28 633.26 311.62 632.25C312.97 631.24 314.33 630.25 315.72 629.29C317.11 628.33 318.52 627.42 319.95 626.51C321.37 625.6 322.82 624.73 324.25 623.84C325.69 622.95 327.15 622.08 328.58 621.19C330.02 620.3 331.45 619.4 332.87 618.48C334.29 617.56 335.7 616.62 337.09 615.66C338.48 614.7 339.86 613.72 341.22 612.73C342.58 611.73 343.93 610.72 345.27 609.69C346.6 608.65 347.92 607.6 349.22 606.53C350.53 605.46 351.82 604.38 353.09 603.27C354.36 602.17 355.61 601.04 356.85 599.9C358.09 598.76 359.31 597.6 360.51 596.43C361.72 595.25 362.9 594.06 364.07 592.85C365.24 591.64 366.38 590.41 367.51 589.17C368.64 587.93 369.75 586.67 370.84 585.39C371.93 584.11 373 582.82 374.05 581.51C375.1 580.2 376.13 578.87 377.14 577.53C378.15 576.18 379.14 574.82 380.1 573.45C381.07 572.07 382.01 570.68 382.93 569.27C383.85 567.87 384.75 566.44 385.62 565.01C386.5 563.57 387.35 562.11 388.18 560.65C389 559.18 389.81 557.69 390.59 556.19C391.36 554.7 392.12 553.18 392.85 551.65C393.58 550.12 394.28 548.58 394.96 547.02C395.63 545.46 396.28 543.89 396.91 542.3C397.53 540.72 398.4 538.3 398.7 537.5L398.7 525.5Z" fill="#F58220"/>
<path d="M196.1 961.5L196.1 949.5C196.35 948.72 197.1 946.37 197.62 944.79C198.14 943.22 198.67 941.64 199.21 940.06C199.76 938.48 200.31 936.9 200.88 935.32C201.45 933.74 202.04 932.16 202.64 930.58C203.24 929.01 203.86 927.43 204.49 925.87C205.13 924.3 205.78 922.74 206.46 921.19C207.13 919.64 207.82 918.09 208.54 916.56C209.26 915.03 209.99 913.51 210.75 912.01C211.52 910.5 212.3 909.01 213.11 907.53C213.92 906.06 214.75 904.6 215.61 903.16C216.48 901.72 217.36 900.3 218.28 898.9C219.2 897.5 220.14 896.12 221.12 894.77C222.09 893.42 223.1 892.09 224.14 890.78C225.18 889.48 226.25 888.21 227.35 886.96C228.45 885.71 229.58 884.49 230.74 883.29C231.9 882.1 233.09 880.92 234.3 879.77C235.5 878.62 236.74 877.49 237.99 876.38C239.24 875.27 240.52 874.17 241.8 873.1C243.09 872.02 244.4 870.96 245.72 869.92C247.03 868.87 248.36 867.84 249.7 866.82C251.04 865.8 252.39 864.79 253.75 863.79C255.1 862.79 256.46 861.81 257.82 860.82C259.18 859.84 260.55 858.87 261.92 857.9C263.29 856.93 264.66 855.96 266.03 855C267.4 854.04 268.77 853.08 270.14 852.13C271.51 851.17 272.88 850.22 274.25 849.27C275.62 848.31 276.99 847.36 278.36 846.41C279.73 845.45 281.1 844.5 282.46 843.54C283.82 842.58 285.18 841.62 286.54 840.66C287.9 839.69 289.25 838.72 290.6 837.74C291.95 836.77 293.29 835.78 294.64 834.81C296 833.84 297.34 832.87 298.71 831.92C300.07 830.97 301.44 830.02 302.84 829.12C304.23 828.21 305.64 827.32 307.08 826.48C308.52 825.64 309.98 824.82 311.46 824.05C312.94 823.28 314.45 822.55 315.98 821.86C317.5 821.17 319.05 820.51 320.62 819.9C322.18 819.29 323.76 818.71 325.36 818.18C326.95 817.65 328.57 817.16 330.19 816.72C331.81 816.27 333.45 815.87 335.09 815.51C336.73 815.15 338.39 814.83 340.05 814.56C341.71 814.29 343.38 814.06 345.05 813.89C346.71 813.72 348.39 813.59 350.06 813.53C351.73 813.46 353.41 813.45 355.07 813.51C356.74 813.56 358.41 813.68 360.06 813.87C361.72 814.06 363.37 814.31 365 814.64C366.64 814.98 368.27 815.38 369.87 815.87C371.47 816.35 373.06 816.91 374.61 817.55C376.16 818.18 377.69 818.89 379.17 819.66C380.64 820.44 382.08 821.29 383.46 822.2C384.84 823.11 386.18 824.09 387.47 825.12C388.76 826.15 390.01 827.25 391.21 828.39C392.42 829.54 393.58 830.74 394.7 831.97C395.82 833.21 396.91 834.49 397.95 835.81C399 837.12 400.01 838.48 400.98 839.86C401.96 841.24 402.9 842.66 403.81 844.09C404.72 845.52 405.59 846.98 406.44 848.45C407.29 849.92 408.11 851.4 408.91 852.9C409.7 854.39 410.47 855.89 411.21 857.4C411.95 858.92 412.66 860.44 413.36 861.97C414.05 863.49 414.72 865.03 415.36 866.58C416.01 868.12 416.63 869.68 417.23 871.24C417.83 872.8 418.41 874.37 418.97 875.94C419.53 877.52 420.06 879.1 420.58 880.69C421.1 882.28 421.6 883.87 422.09 885.47C422.57 887.07 423.03 888.68 423.48 890.29C423.93 891.9 424.36 893.52 424.78 895.14C425.2 896.76 425.6 898.38 425.99 900.01C426.38 901.64 426.75 903.27 427.12 904.91C427.48 906.55 427.83 908.19 428.17 909.83C428.51 911.47 428.83 913.12 429.15 914.77C429.47 916.41 429.77 918.06 430.07 919.71C430.37 921.37 430.66 923.02 430.95 924.67C431.23 926.33 431.5 927.98 431.77 929.64C432.04 931.3 432.31 932.95 432.56 934.61C432.82 936.27 433.08 937.92 433.33 939.58C433.58 941.23 433.83 942.89 434.07 944.54C434.32 946.2 434.68 948.67 434.8 949.5L434.8 961.5Z" fill="#F58220"/>
<path d="M178.9 525.5L178.9 537.5C178.96 538.35 179.12 540.9 179.28 542.59C179.43 544.28 179.61 545.96 179.82 547.63C180.03 549.3 180.27 550.97 180.54 552.63C180.8 554.28 181.1 555.93 181.42 557.57C181.74 559.21 182.09 560.85 182.46 562.47C182.84 564.1 183.24 565.71 183.66 567.32C184.09 568.93 184.54 570.53 185.02 572.12C185.5 573.71 186 575.3 186.53 576.87C187.06 578.45 187.61 580.01 188.18 581.57C188.76 583.13 189.36 584.67 189.98 586.21C190.61 587.75 191.25 589.28 191.92 590.81C192.59 592.33 193.29 593.84 194 595.34C194.72 596.85 195.46 598.34 196.22 599.83C196.98 601.31 197.76 602.79 198.56 604.26C199.36 605.72 200.19 607.18 201.03 608.63C201.88 610.08 202.74 611.52 203.63 612.95C204.51 614.38 205.42 615.8 206.34 617.21C207.27 618.62 208.21 620.02 209.18 621.41C210.14 622.8 211.12 624.18 212.12 625.55C213.12 626.92 214.14 628.29 215.18 629.63C216.22 630.97 217.26 632.34 218.38 633.57C219.49 634.8 220.63 636.02 221.87 637.01C223.12 638 224.42 638.89 225.84 639.53C227.27 640.17 228.82 640.54 230.42 640.84C232.02 641.13 233.73 641.19 235.45 641.29C237.17 641.39 238.97 641.35 240.73 641.43C242.49 641.51 244.28 641.64 246.03 641.78C247.77 641.92 249.51 642.17 251.2 642.26C252.89 642.36 254.56 642.48 256.17 642.35C257.78 642.22 259.34 641.97 260.85 641.5C262.35 641.03 263.79 640.31 265.21 639.53C266.64 638.75 268.01 637.78 269.39 636.84C270.77 635.91 272.11 634.86 273.5 633.92C274.88 632.98 276.26 632.01 277.71 631.21C279.16 630.41 280.66 629.73 282.19 629.13C283.72 628.53 285.34 628.14 286.89 627.6C288.44 627.06 290 626.54 291.49 625.87C292.98 625.19 294.41 624.38 295.83 623.55C297.25 622.72 298.63 621.79 300.02 620.89C301.41 619.99 302.8 619.05 304.19 618.14C305.58 617.22 306.98 616.31 308.38 615.39C309.77 614.47 311.17 613.56 312.57 612.64C313.97 611.72 315.37 610.8 316.76 609.88C318.16 608.95 319.55 608.02 320.94 607.08C322.33 606.15 323.72 605.21 325.1 604.26C326.48 603.31 327.86 602.35 329.22 601.38C330.59 600.41 331.95 599.43 333.31 598.44C334.66 597.45 336 596.45 337.34 595.44C338.67 594.42 339.99 593.4 341.31 592.35C342.62 591.31 343.92 590.26 345.2 589.18C346.48 588.11 347.75 587.03 349.01 585.92C350.26 584.82 351.5 583.7 352.72 582.56C353.94 581.43 355.14 580.27 356.32 579.1C357.5 577.93 358.67 576.74 359.8 575.53C360.94 574.32 362.06 573.09 363.15 571.84C364.25 570.6 365.32 569.33 366.36 568.04C367.4 566.75 368.42 565.44 369.41 564.1C370.4 562.77 371.36 561.41 372.29 560.04C373.23 558.66 374.13 557.26 375 555.83C375.87 554.4 376.71 552.95 377.51 551.48C378.32 550 379.09 548.5 379.83 546.98C380.56 545.45 381.26 543.9 381.93 542.32C382.59 540.74 383.49 538.3 383.8 537.5L383.8 525.5Z" fill="#ED1C24"/>
<path d="M203.9 961.5L203.9 949.5C204.27 948.76 205.37 946.55 206.11 945.07C206.84 943.59 207.57 942.09 208.31 940.6C209.04 939.1 209.77 937.6 210.51 936.1C211.25 934.6 211.99 933.09 212.73 931.59C213.48 930.09 214.23 928.59 215 927.09C215.76 925.59 216.53 924.1 217.32 922.61C218.1 921.13 218.89 919.65 219.7 918.18C220.52 916.71 221.34 915.25 222.18 913.8C223.02 912.35 223.88 910.91 224.76 909.49C225.64 908.07 226.54 906.66 227.46 905.28C228.38 903.89 229.32 902.52 230.29 901.17C231.26 899.82 232.26 898.49 233.28 897.18C234.31 895.87 235.35 894.59 236.44 893.33C237.52 892.08 238.63 890.85 239.78 889.64C240.92 888.44 242.11 887.27 243.31 886.12C244.52 884.97 245.75 883.84 247.01 882.73C248.26 881.63 249.54 880.54 250.82 879.47C252.11 878.39 253.41 877.33 254.71 876.28C256.02 875.22 257.34 874.18 258.65 873.14C259.96 872.1 261.27 871.06 262.58 870.02C263.88 868.99 265.18 867.94 266.48 866.91C267.78 865.88 269.08 864.85 270.39 863.85C271.7 862.84 273.01 861.84 274.35 860.88C275.69 859.92 277.04 858.97 278.42 858.07C279.8 857.17 281.21 856.31 282.63 855.46C284.05 854.61 285.5 853.8 286.93 852.96C288.35 852.11 289.78 851.25 291.19 850.37C292.6 849.5 293.99 848.57 295.39 847.69C296.79 846.8 298.18 845.89 299.6 845.06C301.02 844.23 302.44 843.41 303.91 842.69C305.37 841.97 306.86 841.31 308.39 840.74C309.91 840.17 311.48 839.71 313.07 839.26C314.65 838.8 316.27 838.43 317.89 838.01C319.5 837.6 321.14 837.21 322.77 836.77C324.4 836.33 326.03 835.83 327.66 835.36C329.28 834.89 330.91 834.37 332.53 833.94C334.16 833.5 335.79 833.07 337.41 832.75C339.04 832.43 340.66 832.18 342.29 832.03C343.92 831.89 345.55 831.85 347.18 831.88C348.81 831.91 350.44 832.04 352.07 832.22C353.7 832.41 355.33 832.68 356.96 832.99C358.58 833.31 360.21 833.7 361.84 834.12C363.46 834.55 365.1 835.02 366.71 835.54C368.33 836.05 369.95 836.6 371.52 837.22C373.1 837.84 374.67 838.5 376.17 839.24C377.67 839.98 379.14 840.78 380.53 841.66C381.92 842.55 383.25 843.52 384.52 844.55C385.78 845.58 386.98 846.69 388.13 847.85C389.28 849.02 390.37 850.25 391.41 851.52C392.46 852.8 393.45 854.13 394.41 855.49C395.37 856.85 396.29 858.26 397.17 859.69C398.06 861.12 398.91 862.59 399.74 864.06C400.57 865.54 401.37 867.04 402.16 868.54C402.95 870.04 403.71 871.55 404.47 873.06C405.22 874.57 405.96 876.08 406.68 877.6C407.41 879.12 408.11 880.64 408.8 882.17C409.49 883.7 410.16 885.23 410.82 886.76C411.47 888.3 412.11 889.84 412.73 891.39C413.35 892.94 413.95 894.49 414.54 896.04C415.12 897.6 415.69 899.16 416.23 900.73C416.78 902.29 417.31 903.86 417.82 905.44C418.33 907.02 418.82 908.6 419.29 910.19C419.75 911.78 420.2 913.37 420.63 914.97C421.06 916.57 421.47 918.18 421.86 919.79C422.25 921.4 422.62 923.02 422.96 924.64C423.31 926.27 423.64 927.9 423.94 929.53C424.24 931.17 424.52 932.81 424.78 934.46C425.04 936.11 425.28 937.77 425.49 939.43C425.71 941.1 425.9 942.77 426.07 944.45C426.23 946.12 426.43 948.66 426.5 949.5L426.5 961.5Z" fill="#ED1C24"/>
<path d="M182.3 525.5L182.3 537.5C182.42 538.32 182.77 540.75 183.01 542.4C183.26 544.04 183.5 545.7 183.75 547.36C184.01 549.02 184.27 550.69 184.55 552.36C184.83 554.04 185.11 555.72 185.42 557.39C185.73 559.07 186.05 560.74 186.4 562.42C186.74 564.09 187.1 565.76 187.5 567.42C187.89 569.08 188.3 570.73 188.75 572.38C189.2 574.02 189.67 575.65 190.18 577.26C190.69 578.88 191.23 580.48 191.81 582.06C192.39 583.64 193 585.21 193.66 586.75C194.32 588.29 195.02 589.81 195.76 591.3C196.51 592.8 197.3 594.26 198.14 595.7C198.98 597.14 199.88 598.54 200.8 599.93C201.72 601.33 202.69 602.69 203.66 604.07C204.63 605.45 205.63 606.81 206.61 608.2C207.6 609.59 208.59 610.99 209.56 612.43C210.52 613.86 211.45 615.35 212.41 616.8C213.36 618.25 214.29 619.74 215.3 621.12C216.3 622.49 217.32 623.85 218.46 625.05C219.59 626.24 220.8 627.33 222.11 628.28C223.41 629.23 224.82 630.03 226.28 630.74C227.74 631.45 229.28 632.03 230.86 632.53C232.44 633.04 234.09 633.43 235.75 633.76C237.41 634.1 239.11 634.34 240.82 634.54C242.52 634.74 244.26 634.89 245.97 634.96C247.68 635.04 249.41 635.07 251.1 634.99C252.79 634.92 254.48 634.78 256.13 634.51C257.77 634.24 259.38 633.86 260.96 633.38C262.53 632.9 264.06 632.28 265.57 631.62C267.09 630.95 268.56 630.18 270.04 629.41C271.52 628.65 272.98 627.8 274.45 627C275.93 626.2 277.39 625.36 278.88 624.6C280.37 623.83 281.89 623.11 283.41 622.41C284.93 621.71 286.47 621.07 288 620.4C289.53 619.73 291.07 619.09 292.59 618.39C294.1 617.7 295.61 617 297.07 616.21C298.54 615.42 299.97 614.58 301.38 613.67C302.79 612.77 304.15 611.76 305.52 610.78C306.89 609.8 308.24 608.75 309.62 607.78C311.01 606.8 312.4 605.83 313.83 604.93C315.27 604.04 316.76 603.22 318.24 602.41C319.72 601.59 321.24 600.84 322.72 600.04C324.2 599.24 325.7 598.47 327.14 597.61C328.57 596.75 329.98 595.86 331.33 594.89C332.69 593.92 333.98 592.88 335.27 591.81C336.55 590.75 337.79 589.62 339.03 588.49C340.27 587.36 341.49 586.19 342.72 585.03C343.96 583.88 345.19 582.72 346.43 581.55C347.66 580.39 348.9 579.23 350.13 578.05C351.36 576.88 352.59 575.7 353.8 574.51C355.01 573.32 356.21 572.13 357.4 570.91C358.58 569.7 359.75 568.47 360.89 567.23C362.04 565.99 363.16 564.73 364.25 563.45C365.34 562.17 366.41 560.87 367.44 559.55C368.47 558.22 369.47 556.88 370.42 555.5C371.38 554.13 372.3 552.73 373.17 551.3C374.03 549.86 374.86 548.4 375.63 546.91C376.4 545.41 377.13 543.88 377.79 542.32C378.45 540.75 379.3 538.3 379.6 537.5L379.6 525.5Z" fill="#7D1416"/>
<path d="M207.7 961.5L207.7 949.5C208.03 948.74 209.02 946.44 209.7 944.92C210.39 943.4 211.1 941.89 211.82 940.38C212.55 938.88 213.29 937.39 214.06 935.9C214.82 934.42 215.6 932.94 216.4 931.48C217.2 930.01 218.02 928.56 218.86 927.11C219.69 925.67 220.55 924.23 221.42 922.81C222.29 921.39 223.18 919.98 224.09 918.58C225 917.18 225.93 915.79 226.87 914.41C227.81 913.04 228.77 911.67 229.75 910.32C230.73 908.97 231.72 907.63 232.74 906.3C233.75 904.98 234.78 903.67 235.82 902.37C236.87 901.07 237.93 899.78 239.01 898.51C240.09 897.24 241.18 895.99 242.29 894.75C243.41 893.51 244.53 892.28 245.68 891.07C246.82 889.86 247.98 888.66 249.15 887.48C250.33 886.31 251.52 885.14 252.73 884C253.93 882.85 255.16 881.72 256.39 880.61C257.63 879.49 258.88 878.4 260.15 877.32C261.42 876.24 262.7 875.18 264 874.14C265.29 873.1 266.61 872.07 267.93 871.07C269.26 870.06 270.6 869.08 271.95 868.11C273.3 867.14 274.67 866.2 276.05 865.27C277.42 864.35 278.81 863.44 280.2 862.56C281.59 861.68 283 860.83 284.4 859.98C285.8 859.13 287.22 858.32 288.62 857.47C290.01 856.61 291.4 855.73 292.79 854.85C294.18 853.98 295.56 853.06 296.96 852.21C298.36 851.35 299.76 850.48 301.2 849.7C302.64 848.92 304.1 848.17 305.6 847.52C307.1 846.87 308.65 846.32 310.22 845.81C311.79 845.31 313.4 844.91 315.02 844.5C316.63 844.1 318.28 843.76 319.9 843.39C321.53 843.02 323.16 842.65 324.77 842.27C326.39 841.88 327.99 841.46 329.59 841.08C331.2 840.69 332.8 840.29 334.41 839.96C336.03 839.63 337.65 839.31 339.29 839.08C340.94 838.84 342.61 838.67 344.28 838.57C345.95 838.47 347.65 838.43 349.34 838.47C351.02 838.51 352.72 838.61 354.41 838.79C356.09 838.97 357.77 839.22 359.43 839.53C361.09 839.85 362.74 840.24 364.35 840.7C365.97 841.16 367.57 841.7 369.12 842.3C370.67 842.91 372.19 843.59 373.66 844.34C375.12 845.09 376.55 845.91 377.92 846.81C379.28 847.71 380.59 848.69 381.85 849.73C383.11 850.77 384.3 851.89 385.45 853.05C386.6 854.22 387.7 855.45 388.75 856.72C389.81 857.99 390.82 859.32 391.8 860.67C392.78 862.02 393.71 863.42 394.62 864.84C395.54 866.25 396.41 867.7 397.27 869.16C398.12 870.62 398.95 872.1 399.76 873.58C400.57 875.06 401.36 876.55 402.13 878.05C402.91 879.55 403.66 881.05 404.39 882.56C405.13 884.07 405.84 885.58 406.54 887.11C407.23 888.63 407.91 890.16 408.56 891.69C409.22 893.23 409.86 894.77 410.47 896.31C411.09 897.86 411.69 899.42 412.26 900.98C412.84 902.54 413.4 904.1 413.94 905.67C414.47 907.25 414.99 908.82 415.49 910.41C415.98 911.99 416.46 913.58 416.92 915.18C417.38 916.77 417.81 918.37 418.23 919.98C418.65 921.59 419.04 923.2 419.42 924.82C419.79 926.44 420.15 928.06 420.48 929.69C420.82 931.32 421.13 932.95 421.42 934.6C421.72 936.24 421.99 937.88 422.24 939.53C422.49 941.18 422.72 942.84 422.93 944.5C423.14 946.16 423.41 948.67 423.5 949.5L423.5 961.5Z" fill="#7D1416"/>
</g>
<!-- panel d -->
<clipPath id="clip-d"><rect x="545.5" y="536.25" width="395" height="411.5"/></clipPath>
<g clip-path="url(#clip-d)">
<path d="M599.9 524.25L599.9 536.25C599.96 537.08 600.16 539.58 600.29 541.25C600.41 542.92 600.54 544.59 600.67 546.26C600.79 547.93 600.92 549.6 601.05 551.27C601.18 552.94 601.3 554.61 601.43 556.29C601.56 557.96 601.69 559.63 601.82 561.3C601.95 562.97 602.08 564.65 602.21 566.32C602.35 567.99 602.48 569.67 602.61 571.34C602.75 573.02 602.89 574.69 603.03 576.36C603.17 578.04 603.31 579.71 603.45 581.38C603.6 583.06 603.74 584.73 603.89 586.4C604.04 588.08 604.2 589.75 604.35 591.42C604.51 593.1 604.67 594.77 604.83 596.44C605 598.11 605.16 599.78 605.33 601.46C605.51 603.13 605.68 604.8 605.86 606.47C606.04 608.14 606.22 609.81 606.41 611.48C606.6 613.14 606.8 614.81 607 616.48C607.2 618.15 607.4 619.81 607.61 621.48C607.82 623.14 608.04 624.81 608.26 626.47C608.48 628.13 608.71 629.79 608.95 631.46C609.18 633.12 609.42 634.78 609.67 636.43C609.92 638.09 610.17 639.75 610.44 641.41C610.7 643.06 610.97 644.72 611.24 646.37C611.52 648.02 611.81 649.67 612.1 651.32C612.39 652.97 612.69 654.62 613 656.27C613.31 657.91 613.63 659.56 613.95 661.2C614.28 662.84 614.62 664.48 614.96 666.12C615.3 667.76 615.66 669.4 616.02 671.03C616.38 672.67 616.76 674.3 617.14 675.93C617.52 677.56 617.91 679.19 618.32 680.82C618.72 682.44 619.13 684.07 619.55 685.69C619.98 687.31 620.41 688.93 620.86 690.55C621.3 692.17 621.76 693.78 622.23 695.39C622.7 697 623.18 698.61 623.67 700.22C624.16 701.83 624.66 703.43 625.18 705.03C625.69 706.63 626.22 708.23 626.76 709.83C627.3 711.42 627.86 713.01 628.42 714.6C628.99 716.19 629.57 717.78 630.16 719.36C630.75 720.95 631.36 722.53 631.98 724.1C632.6 725.67 633.23 727.25 633.91 728.8C634.59 730.34 635.28 731.87 636.04 733.35C636.8 734.83 637.59 736.29 638.46 737.68C639.33 739.06 640.25 740.41 641.27 741.67C642.29 742.93 643.38 744.13 644.58 745.23C645.78 746.34 647.08 747.34 648.46 748.28C649.85 749.22 651.39 749.99 652.87 750.87C654.34 751.75 655.91 752.55 657.3 753.55C658.7 754.56 660.01 755.69 661.25 756.88C662.49 758.07 663.56 759.49 664.74 760.69C665.93 761.88 667.08 763.11 668.38 764.04C669.67 764.98 671.05 765.77 672.5 766.28C673.95 766.78 675.51 767.02 677.1 767.07C678.69 767.13 680.4 766.75 682.05 766.6C683.7 766.44 685.41 766.05 687 766.13C688.6 766.21 690.14 766.49 691.61 767.07C693.07 767.66 694.43 768.68 695.8 769.63C697.17 770.59 698.47 771.83 699.82 772.83C701.18 773.83 702.52 774.92 703.93 775.64C705.33 776.35 706.76 776.93 708.25 777.14C709.75 777.34 711.31 777.1 712.9 776.85C714.49 776.6 716.14 776.01 717.8 775.64C719.47 775.26 722.05 774.77 722.9 774.6L725.3 782.8L760 792L809.7 731.4L794.8 729.5L806.4 727.2C806.94 726.57 808.68 724.77 809.65 723.43C810.62 722.1 811.44 720.66 812.2 719.19C812.97 717.72 813.62 716.18 814.26 714.61C814.89 713.05 815.44 711.43 816 709.81C816.56 708.2 817.07 706.55 817.63 704.93C818.19 703.3 818.72 701.67 819.34 700.08C819.95 698.49 820.6 696.91 821.32 695.39C822.04 693.87 822.83 692.39 823.68 690.94C824.52 689.5 825.42 688.09 826.37 686.7C827.31 685.32 828.31 683.97 829.34 682.63C830.36 681.3 831.43 679.99 832.52 678.7C833.61 677.4 834.74 676.13 835.87 674.86C837.01 673.59 838.17 672.34 839.33 671.08C840.49 669.83 841.66 668.58 842.83 667.33C844 666.08 845.17 664.83 846.32 663.57C847.48 662.3 848.62 661.04 849.75 659.75C850.87 658.47 851.98 657.17 853.06 655.86C854.15 654.55 855.22 653.23 856.27 651.9C857.32 650.56 858.35 649.22 859.37 647.86C860.38 646.5 861.38 645.13 862.36 643.75C863.33 642.37 864.3 640.98 865.24 639.58C866.19 638.18 867.11 636.76 868.02 635.34C868.94 633.91 869.83 632.48 870.71 631.04C871.59 629.59 872.45 628.14 873.29 626.68C874.14 625.21 874.97 623.74 875.78 622.26C876.6 620.78 877.4 619.29 878.18 617.79C878.96 616.29 879.73 614.78 880.48 613.27C881.24 611.75 881.98 610.23 882.7 608.7C883.43 607.17 884.14 605.63 884.83 604.08C885.53 602.54 886.21 600.98 886.88 599.43C887.55 597.87 888.2 596.3 888.84 594.73C889.48 593.16 890.11 591.58 890.72 589.99C891.34 588.41 891.94 586.82 892.53 585.22C893.12 583.63 893.7 582.03 894.26 580.42C894.82 578.82 895.38 577.21 895.92 575.59C896.46 573.98 896.99 572.36 897.5 570.74C898.02 569.12 898.52 567.49 899.02 565.86C899.51 564.23 900 562.6 900.47 560.96C900.94 559.32 901.4 557.69 901.86 556.04C902.31 554.4 902.75 552.76 903.18 551.11C903.61 549.46 904.03 547.82 904.44 546.17C904.85 544.52 905.26 542.86 905.65 541.21C906.04 539.56 906.61 537.08 906.8 536.25L906.8 524.25Z" fill="#3A53A4"/>
<path d="M615.8 959.75L615.8 947.75C615.83 946.87 615.87 944.19 615.97 942.45C616.08 940.7 616.24 938.97 616.44 937.25C616.64 935.54 616.89 933.85 617.18 932.17C617.46 930.49 617.8 928.83 618.16 927.18C618.53 925.53 618.94 923.89 619.38 922.27C619.82 920.65 620.3 919.04 620.8 917.44C621.31 915.85 621.85 914.26 622.41 912.68C622.98 911.11 623.57 909.54 624.18 907.98C624.8 906.42 625.44 904.87 626.09 903.33C626.75 901.78 627.43 900.24 628.12 898.71C628.82 897.18 629.53 895.65 630.25 894.13C630.97 892.6 631.71 891.08 632.45 889.56C633.19 888.04 633.95 886.52 634.7 885.01C635.46 883.49 636.22 881.97 636.99 880.45C637.75 878.93 638.52 877.42 639.28 875.89C640.04 874.37 640.8 872.84 641.56 871.32C642.32 869.79 643.07 868.25 643.83 866.73C644.59 865.2 645.34 863.67 646.12 862.15C646.89 860.63 647.67 859.12 648.47 857.62C649.26 856.11 650.07 854.62 650.91 853.14C651.75 851.67 652.6 850.21 653.48 848.77C654.37 847.33 655.28 845.9 656.22 844.51C657.17 843.11 658.15 841.73 659.17 840.39C660.19 839.05 661.24 837.73 662.34 836.45C663.44 835.16 664.58 833.91 665.75 832.69C666.92 831.47 668.13 830.28 669.37 829.13C670.61 827.97 671.89 826.86 673.2 825.78C674.5 824.7 675.85 823.67 677.2 822.65C678.56 821.63 679.97 820.69 681.31 819.67C682.64 818.64 683.99 817.63 685.22 816.49C686.44 815.34 687.58 814.08 688.66 812.77C689.73 811.45 690.7 810.01 691.68 808.6C692.67 807.18 693.59 805.69 694.57 804.28C695.55 802.87 696.51 801.44 697.58 800.14C698.64 798.84 699.74 797.58 700.97 796.49C702.2 795.4 703.51 794.41 704.94 793.6C706.37 792.8 707.93 792.19 709.54 791.68C711.15 791.17 712.94 790.94 714.58 790.55C716.22 790.16 717.94 789.91 719.37 789.33C720.81 788.75 722.2 788.16 723.19 787.07C724.18 785.98 724.95 783.51 725.3 782.8L760 750L809.7 731.4C810.33 731.98 812.18 733.76 813.49 734.88C814.79 735.99 816.13 737.11 817.53 738.07C818.92 739.04 820.36 739.96 821.86 740.69C823.35 741.41 824.91 742 826.5 742.41C828.1 742.82 829.8 742.94 831.45 743.16C833.1 743.38 834.82 743.4 836.43 743.72C838.04 744.05 839.61 744.47 841.12 745.1C842.62 745.74 844.02 746.68 845.45 747.55C846.88 748.42 848.26 749.45 849.71 750.32C851.15 751.19 852.64 751.99 854.12 752.79C855.61 753.58 857.13 754.29 858.63 755.07C860.13 755.86 861.63 756.64 863.1 757.48C864.57 758.32 866.03 759.2 867.45 760.12C868.87 761.04 870.27 762 871.63 763C872.99 764 874.32 765.05 875.6 766.14C876.88 767.23 878.12 768.37 879.3 769.55C880.48 770.74 881.61 771.97 882.68 773.25C883.76 774.53 884.76 775.87 885.73 777.23C886.7 778.6 887.61 780.01 888.49 781.44C889.37 782.88 890.21 784.35 891.02 785.83C891.83 787.32 892.6 788.84 893.36 790.35C894.11 791.87 894.84 793.41 895.56 794.95C896.28 796.49 896.99 798.04 897.68 799.59C898.37 801.14 899.05 802.69 899.71 804.25C900.37 805.81 901.02 807.38 901.65 808.95C902.29 810.52 902.91 812.09 903.51 813.67C904.12 815.25 904.71 816.84 905.29 818.43C905.87 820.02 906.44 821.61 906.99 823.21C907.55 824.81 908.09 826.41 908.62 828.02C909.15 829.62 909.66 831.23 910.17 832.85C910.67 834.46 911.16 836.08 911.64 837.7C912.12 839.32 912.59 840.95 913.04 842.57C913.5 844.2 913.95 845.84 914.38 847.47C914.81 849.11 915.23 850.74 915.64 852.39C916.06 854.03 916.46 855.67 916.84 857.32C917.23 858.97 917.61 860.62 917.98 862.27C918.35 863.92 918.71 865.58 919.05 867.23C919.4 868.89 919.74 870.55 920.07 872.21C920.4 873.88 920.71 875.54 921.02 877.21C921.33 878.87 921.63 880.54 921.92 882.21C922.21 883.88 922.49 885.55 922.77 887.22C923.04 888.9 923.3 890.57 923.56 892.25C923.81 893.92 924.06 895.6 924.3 897.28C924.53 898.96 924.76 900.64 924.99 902.32C925.21 904 925.42 905.68 925.63 907.36C925.84 909.04 926.04 910.73 926.23 912.41C926.42 914.09 926.61 915.78 926.78 917.46C926.96 919.14 927.13 920.83 927.3 922.51C927.46 924.2 927.62 925.88 927.77 927.56C927.92 929.25 928.06 930.93 928.2 932.61C928.34 934.3 928.48 935.98 928.6 937.66C928.73 939.35 928.85 941.03 928.97 942.71C929.08 944.39 929.24 946.91 929.3 947.75L929.3 959.75Z" fill="#3A53A4"/>
<path d="M602.9 524.25L602.9 536.25C602.96 537.08 603.14 539.57 603.26 541.23C603.38 542.89 603.5 544.56 603.62 546.22C603.74 547.89 603.86 549.56 603.98 551.23C604.11 552.9 604.23 554.57 604.35 556.24C604.48 557.92 604.6 559.59 604.73 561.27C604.86 562.94 604.99 564.62 605.12 566.3C605.26 567.97 605.39 569.65 605.53 571.33C605.67 573.01 605.81 574.69 605.95 576.37C606.09 578.05 606.24 579.73 606.39 581.41C606.54 583.09 606.69 584.77 606.85 586.45C607.01 588.14 607.17 589.82 607.33 591.5C607.5 593.18 607.67 594.85 607.84 596.53C608.02 598.21 608.2 599.89 608.38 601.57C608.57 603.24 608.76 604.92 608.95 606.6C609.15 608.27 609.35 609.94 609.55 611.62C609.76 613.29 609.97 614.96 610.19 616.63C610.41 618.3 610.64 619.96 610.87 621.63C611.1 623.29 611.34 624.96 611.59 626.62C611.83 628.28 612.08 629.94 612.35 631.59C612.61 633.25 612.87 634.9 613.15 636.55C613.43 638.2 613.71 639.85 614 641.5C614.3 643.14 614.6 644.78 614.91 646.42C615.22 648.06 615.54 649.69 615.86 651.33C616.19 652.96 616.53 654.59 616.87 656.21C617.22 657.84 617.57 659.47 617.94 661.09C618.3 662.71 618.68 664.33 619.06 665.95C619.44 667.57 619.84 669.19 620.24 670.81C620.64 672.43 621.05 674.04 621.48 675.66C621.9 677.28 622.33 678.89 622.77 680.51C623.22 682.13 623.67 683.74 624.13 685.36C624.6 686.98 625.07 688.6 625.56 690.22C626.04 691.84 626.53 693.46 627.04 695.08C627.55 696.7 628.06 698.33 628.59 699.96C629.12 701.58 629.66 703.22 630.21 704.84C630.76 706.47 631.32 708.11 631.91 709.73C632.5 711.34 633.11 712.96 633.75 714.54C634.39 716.13 635.06 717.71 635.77 719.24C636.48 720.78 637.23 722.29 638.03 723.75C638.83 725.22 639.67 726.65 640.57 728.03C641.47 729.4 642.42 730.73 643.45 732C644.47 733.26 645.55 734.47 646.71 735.61C647.87 736.75 649.1 737.8 650.39 738.82C651.67 739.83 653.03 740.78 654.42 741.7C655.81 742.62 657.25 743.49 658.71 744.34C660.17 745.2 661.67 746.03 663.17 746.84C664.68 747.64 666.22 748.42 667.77 749.16C669.32 749.9 670.89 750.6 672.47 751.25C674.06 751.9 675.66 752.51 677.27 753.05C678.88 753.58 680.5 754.07 682.13 754.48C683.76 754.88 685.41 755.23 687.05 755.48C688.69 755.74 690.35 755.92 692 756C693.65 756.07 695.3 756.07 696.95 755.95C698.6 755.84 700.25 755.6 701.9 755.3C703.55 754.99 705.19 754.56 706.83 754.13C708.47 753.7 710.11 753.18 711.75 752.72C713.4 752.25 715.03 751.74 716.68 751.33C718.32 750.92 719.96 750.52 721.6 750.25C723.25 749.99 724.9 749.81 726.55 749.76C728.19 749.7 729.86 749.87 731.49 749.91C733.12 749.95 734.76 750.12 736.35 750C737.93 749.88 739.49 749.65 741.01 749.17C742.53 748.7 744 747.93 745.46 747.13C746.92 746.34 748.34 745.34 749.77 744.43C751.2 743.51 752.61 742.49 754.04 741.66C755.47 740.82 756.9 739.98 758.36 739.43C759.82 738.87 761.3 738.42 762.82 738.34C764.34 738.26 765.91 738.56 767.51 738.94C769.1 739.33 770.75 740.14 772.4 740.65C774.05 741.16 776.57 741.78 777.4 742C777.45 741.05 777.32 737.98 777.68 736.27C778.03 734.57 778.72 733.12 779.55 731.78C780.37 730.44 781.47 729.3 782.64 728.22C783.82 727.15 785.2 726.23 786.6 725.32C788 724.41 789.54 723.6 791.06 722.77C792.57 721.94 794.15 721.15 795.69 720.33C797.24 719.51 798.81 718.71 800.31 717.85C801.81 716.99 803.3 716.13 804.7 715.18C806.09 714.24 807.45 713.26 808.67 712.18C809.89 711.1 811.03 709.96 812.02 708.69C813.01 707.43 813.84 706.05 814.6 704.61C815.35 703.17 815.95 701.61 816.54 700.03C817.13 698.46 817.62 696.8 818.14 695.17C818.67 693.54 819.13 691.86 819.69 690.24C820.25 688.62 820.8 686.99 821.48 685.45C822.15 683.91 822.91 682.42 823.75 680.98C824.58 679.54 825.51 678.17 826.48 676.82C827.45 675.47 828.49 674.17 829.56 672.88C830.62 671.6 831.75 670.35 832.87 669.1C834 667.85 835.16 666.62 836.31 665.38C837.46 664.15 838.62 662.91 839.76 661.67C840.9 660.42 842.04 659.16 843.16 657.89C844.28 656.62 845.39 655.35 846.48 654.06C847.58 652.77 848.67 651.48 849.74 650.17C850.81 648.86 851.87 647.55 852.92 646.22C853.97 644.9 855.01 643.56 856.03 642.22C857.05 640.88 858.06 639.52 859.06 638.16C860.06 636.8 861.04 635.43 862.01 634.05C862.98 632.67 863.94 631.28 864.88 629.88C865.82 628.48 866.75 627.07 867.66 625.66C868.58 624.24 869.47 622.82 870.36 621.38C871.24 619.95 872.11 618.51 872.96 617.06C873.82 615.61 874.65 614.15 875.47 612.68C876.3 611.21 877.1 609.74 877.89 608.25C878.68 606.77 879.45 605.27 880.21 603.77C880.97 602.27 881.71 600.76 882.43 599.25C883.15 597.73 883.86 596.2 884.55 594.67C885.23 593.14 885.91 591.6 886.56 590.05C887.21 588.5 887.84 586.94 888.46 585.38C889.08 583.81 889.67 582.24 890.25 580.66C890.83 579.08 891.39 577.49 891.93 575.9C892.47 574.3 893 572.7 893.5 571.09C894 569.48 894.48 567.87 894.94 566.24C895.41 564.62 895.85 562.99 896.27 561.35C896.69 559.71 897.09 558.06 897.47 556.41C897.85 554.76 898.21 553.1 898.55 551.43C898.89 549.76 899.2 548.09 899.5 546.41C899.79 544.73 900.06 543.04 900.31 541.35C900.57 539.66 900.89 537.1 901 536.25L901 524.25Z" fill="#3F7ABD"/>
<path d="M619.1 959.75L619.1 947.75C619.13 946.86 619.16 944.16 619.27 942.4C619.38 940.65 619.55 938.92 619.77 937.22C619.98 935.52 620.25 933.84 620.55 932.18C620.86 930.53 621.22 928.9 621.61 927.28C622.01 925.66 622.45 924.07 622.92 922.49C623.39 920.91 623.9 919.35 624.44 917.8C624.97 916.25 625.55 914.72 626.15 913.19C626.74 911.67 627.37 910.16 628.02 908.65C628.67 907.15 629.34 905.65 630.03 904.16C630.72 902.67 631.43 901.19 632.16 899.71C632.88 898.23 633.62 896.75 634.37 895.28C635.11 893.8 635.87 892.32 636.63 890.85C637.4 889.37 638.17 887.89 638.94 886.4C639.7 884.92 640.48 883.43 641.24 881.93C642.01 880.43 642.78 878.93 643.53 877.42C644.29 875.9 645.03 874.38 645.77 872.84C646.51 871.31 647.23 869.75 647.96 868.2C648.68 866.66 649.4 865.1 650.14 863.55C650.87 862.01 651.61 860.47 652.37 858.95C653.14 857.44 653.92 855.93 654.74 854.46C655.55 853 656.39 851.55 657.28 850.15C658.17 848.74 659.09 847.37 660.08 846.06C661.06 844.75 662.09 843.48 663.19 842.27C664.29 841.07 665.45 839.92 666.68 838.84C667.9 837.75 669.21 836.74 670.54 835.75C671.87 834.77 673.27 833.84 674.66 832.91C676.05 831.98 677.49 831.09 678.9 830.17C680.32 829.26 681.75 828.36 683.14 827.42C684.54 826.48 685.93 825.53 687.25 824.52C688.58 823.51 689.87 822.46 691.1 821.36C692.34 820.26 693.51 819.09 694.68 817.91C695.85 816.74 696.98 815.51 698.12 814.3C699.27 813.09 700.41 811.85 701.57 810.65C702.74 809.44 703.91 808.22 705.11 807.05C706.31 805.87 707.52 804.71 708.77 803.59C710.02 802.47 711.29 801.38 712.6 800.35C713.91 799.32 715.24 798.32 716.62 797.4C718 796.48 719.43 795.63 720.88 794.82C722.33 794.01 723.84 793.3 725.31 792.55C726.79 791.8 728.29 791.11 729.73 790.33C731.17 789.55 732.6 788.77 733.94 787.87C735.27 786.98 736.51 785.95 737.76 784.95C739.01 783.94 740.16 782.81 741.44 781.83C742.72 780.85 744.05 779.92 745.43 779.05C746.8 778.19 748.25 777.41 749.7 776.65C751.16 775.89 752.65 775.19 754.15 774.5C755.65 773.82 757.17 773.17 758.71 772.54C760.24 771.9 761.79 771.3 763.34 770.69C764.9 770.09 766.46 769.5 768.02 768.9C769.58 768.31 771.15 767.72 772.7 767.11C774.26 766.49 775.81 765.88 777.36 765.24C778.9 764.6 780.44 763.94 781.96 763.25C783.49 762.56 785.01 761.86 786.51 761.11C788.02 760.36 789.51 759.58 790.99 758.76C792.47 757.94 793.93 757.04 795.39 756.17C796.84 755.3 798.27 754.28 799.72 753.55C801.16 752.82 802.6 752.08 804.07 751.81C805.53 751.53 807.01 751.62 808.52 751.9C810.03 752.17 811.57 752.97 813.13 753.46C814.68 753.96 816.27 754.51 817.86 754.86C819.46 755.2 821.08 755.38 822.71 755.53C824.33 755.68 825.97 755.72 827.62 755.78C829.26 755.84 830.91 755.82 832.56 755.89C834.21 755.96 835.86 756.01 837.5 756.19C839.14 756.36 840.78 756.6 842.4 756.95C844.02 757.29 845.63 757.74 847.22 758.26C848.8 758.78 850.38 759.39 851.92 760.06C853.46 760.73 854.98 761.49 856.46 762.29C857.95 763.1 859.4 763.97 860.81 764.89C862.22 765.8 863.6 766.77 864.93 767.78C866.26 768.78 867.55 769.84 868.8 770.92C870.06 772.01 871.27 773.14 872.44 774.3C873.62 775.46 874.76 776.67 875.87 777.89C876.97 779.12 878.05 780.39 879.09 781.67C880.13 782.96 881.14 784.28 882.12 785.62C883.1 786.97 884.05 788.33 884.97 789.72C885.89 791.11 886.79 792.52 887.66 793.94C888.54 795.37 889.38 796.81 890.21 798.27C891.03 799.72 891.84 801.2 892.62 802.68C893.4 804.15 894.17 805.65 894.91 807.14C895.66 808.64 896.38 810.15 897.09 811.66C897.81 813.17 898.5 814.68 899.17 816.21C899.85 817.73 900.51 819.26 901.15 820.8C901.8 822.34 902.42 823.88 903.03 825.43C903.64 826.98 904.24 828.53 904.82 830.09C905.39 831.65 905.96 833.21 906.51 834.78C907.05 836.35 907.59 837.93 908.11 839.51C908.63 841.09 909.13 842.68 909.62 844.27C910.11 845.86 910.58 847.45 911.05 849.05C911.51 850.65 911.96 852.25 912.39 853.86C912.83 855.46 913.25 857.08 913.66 858.69C914.07 860.3 914.46 861.92 914.85 863.54C915.23 865.17 915.6 866.79 915.96 868.42C916.32 870.05 916.67 871.68 917.01 873.31C917.34 874.95 917.67 876.59 917.98 878.23C918.3 879.86 918.6 881.51 918.89 883.15C919.18 884.8 919.47 886.44 919.74 888.09C920.01 889.74 920.27 891.39 920.53 893.04C920.78 894.69 921.02 896.35 921.26 898C921.49 899.66 921.71 901.31 921.93 902.97C922.15 904.63 922.35 906.29 922.55 907.94C922.75 909.6 922.94 911.26 923.13 912.92C923.31 914.58 923.49 916.24 923.66 917.91C923.82 919.57 923.98 921.23 924.14 922.89C924.29 924.55 924.44 926.21 924.58 927.87C924.72 929.53 924.86 931.19 924.99 932.85C925.12 934.51 925.24 936.17 925.36 937.82C925.47 939.48 925.59 941.14 925.69 942.79C925.8 944.44 925.95 946.92 926 947.75L926 959.75Z" fill="#3F7ABD"/>
<path d="M605.7 524.25L605.7 536.25C605.77 537.08 606 539.58 606.14 541.24C606.29 542.91 606.44 544.58 606.58 546.25C606.73 547.92 606.87 549.59 607.01 551.26C607.16 552.93 607.3 554.6 607.44 556.28C607.58 557.95 607.73 559.63 607.87 561.3C608.02 562.98 608.16 564.65 608.31 566.33C608.45 568.01 608.6 569.69 608.75 571.36C608.9 573.04 609.05 574.72 609.2 576.4C609.36 578.08 609.51 579.76 609.67 581.43C609.83 583.11 609.99 584.79 610.16 586.47C610.33 588.15 610.5 589.83 610.67 591.5C610.84 593.18 611.02 594.86 611.2 596.53C611.39 598.21 611.57 599.89 611.77 601.56C611.96 603.24 612.16 604.91 612.36 606.59C612.56 608.26 612.77 609.93 612.99 611.6C613.2 613.27 613.43 614.95 613.65 616.61C613.88 618.28 614.12 619.95 614.36 621.62C614.61 623.28 614.86 624.95 615.12 626.61C615.37 628.27 615.64 629.93 615.92 631.59C616.19 633.25 616.48 634.91 616.77 636.56C617.06 638.22 617.37 639.87 617.68 641.52C617.99 643.17 618.31 644.82 618.64 646.46C618.98 648.11 619.32 649.75 619.67 651.39C620.03 653.03 620.39 654.67 620.77 656.3C621.14 657.94 621.53 659.57 621.93 661.2C622.33 662.83 622.74 664.45 623.16 666.07C623.58 667.7 624.02 669.32 624.47 670.93C624.92 672.55 625.38 674.16 625.85 675.77C626.33 677.37 626.82 678.98 627.32 680.58C627.83 682.18 628.34 683.78 628.88 685.37C629.41 686.96 629.96 688.55 630.52 690.13C631.08 691.72 631.66 693.3 632.25 694.87C632.84 696.45 633.45 698.02 634.08 699.59C634.71 701.15 635.35 702.72 636.01 704.27C636.67 705.82 637.35 707.37 638.06 708.9C638.77 710.43 639.5 711.96 640.27 713.45C641.04 714.95 641.83 716.43 642.68 717.88C643.52 719.33 644.39 720.76 645.32 722.15C646.24 723.55 647.21 724.91 648.23 726.23C649.25 727.56 650.32 728.85 651.45 730.09C652.58 731.33 653.76 732.53 655.01 733.68C656.26 734.82 657.58 735.93 658.93 736.96C660.29 738 661.72 738.98 663.17 739.88C664.62 740.78 666.12 741.62 667.65 742.36C669.18 743.11 670.74 743.78 672.32 744.35C673.9 744.91 675.51 745.39 677.12 745.76C678.74 746.13 680.37 746.38 682 746.55C683.63 746.71 685.26 746.75 686.9 746.78C688.54 746.81 690.18 746.74 691.82 746.71C693.46 746.67 695.11 746.63 696.75 746.57C698.4 746.51 700.04 746.45 701.69 746.35C703.33 746.25 704.98 746.13 706.63 745.95C708.28 745.78 709.93 745.54 711.58 745.3C713.24 745.06 714.9 744.78 716.57 744.5C718.24 744.23 719.92 743.96 721.6 743.67C723.28 743.38 724.98 743.13 726.63 742.77C728.28 742.41 729.93 742.04 731.5 741.53C733.07 741.03 734.59 740.41 736.06 739.72C737.54 739.02 738.94 738.19 740.33 737.34C741.73 736.49 743.07 735.54 744.43 734.6C745.78 733.65 747.11 732.65 748.46 731.67C749.81 730.7 751.17 729.71 752.53 728.73C753.89 727.75 755.26 726.77 756.64 725.79C758.01 724.81 759.39 723.82 760.76 722.84C762.14 721.85 763.51 720.86 764.88 719.86C766.25 718.87 767.62 717.87 768.98 716.86C770.34 715.85 771.7 714.84 773.04 713.82C774.39 712.79 775.72 711.76 777.05 710.72C778.37 709.68 779.69 708.63 780.99 707.58C782.3 706.52 783.59 705.45 784.88 704.38C786.17 703.31 787.45 702.23 788.72 701.14C789.99 700.06 791.26 698.96 792.52 697.86C793.77 696.76 795.03 695.65 796.27 694.54C797.52 693.42 798.76 692.3 799.99 691.18C801.23 690.05 802.46 688.92 803.68 687.78C804.91 686.65 806.13 685.5 807.35 684.36C808.57 683.21 809.78 682.06 810.99 680.9C812.2 679.74 813.41 678.58 814.62 677.42C815.83 676.25 817.03 675.08 818.24 673.91C819.44 672.74 820.65 671.56 821.85 670.39C823.05 669.21 824.25 668.02 825.45 666.84C826.65 665.65 827.84 664.46 829.04 663.26C830.23 662.07 831.41 660.87 832.6 659.66C833.78 658.45 834.95 657.24 836.12 656.02C837.29 654.8 838.45 653.57 839.61 652.34C840.76 651.11 841.91 649.87 843.04 648.62C844.18 647.37 845.3 646.12 846.42 644.86C847.53 643.59 848.64 642.32 849.73 641.04C850.82 639.76 851.9 638.46 852.96 637.16C854.02 635.86 855.07 634.55 856.11 633.23C857.14 631.91 858.16 630.58 859.16 629.23C860.16 627.89 861.15 626.54 862.12 625.17C863.08 623.8 864.03 622.42 864.96 621.03C865.89 619.64 866.8 618.24 867.69 616.82C868.57 615.4 869.44 613.97 870.28 612.52C871.13 611.08 871.95 609.62 872.75 608.14C873.55 606.67 874.33 605.19 875.08 603.69C875.84 602.19 876.57 600.68 877.29 599.16C878 597.64 878.69 596.1 879.36 594.56C880.03 593.02 880.68 591.46 881.31 589.9C881.94 588.34 882.55 586.77 883.14 585.19C883.73 583.61 884.3 582.02 884.85 580.42C885.4 578.82 885.92 577.22 886.44 575.61C886.95 574 887.44 572.38 887.91 570.76C888.38 569.14 888.83 567.52 889.27 565.88C889.7 564.25 890.12 562.62 890.52 560.98C890.92 559.34 891.3 557.7 891.66 556.05C892.03 554.41 892.37 552.76 892.7 551.11C893.03 549.46 893.34 547.81 893.63 546.16C893.93 544.51 894.2 542.85 894.47 541.2C894.73 539.55 895.08 537.08 895.2 536.25L895.2 524.25Z" fill="#6DCBDD"/>
<path d="M622.4 959.75L622.4 947.75C622.46 946.86 622.59 944.17 622.76 942.42C622.93 940.66 623.15 938.94 623.41 937.24C623.67 935.53 623.98 933.86 624.33 932.2C624.67 930.54 625.06 928.9 625.49 927.28C625.91 925.66 626.37 924.06 626.87 922.48C627.36 920.89 627.89 919.33 628.45 917.77C629.01 916.21 629.6 914.68 630.21 913.15C630.82 911.61 631.47 910.1 632.13 908.59C632.79 907.08 633.48 905.58 634.19 904.09C634.89 902.59 635.62 901.11 636.36 899.62C637.1 898.14 637.86 896.66 638.63 895.18C639.4 893.71 640.18 892.23 640.97 890.76C641.76 889.28 642.56 887.81 643.37 886.33C644.17 884.85 644.98 883.37 645.79 881.88C646.6 880.39 647.42 878.9 648.23 877.4C649.04 875.9 649.85 874.39 650.65 872.87C651.46 871.36 652.25 869.82 653.06 868.3C653.86 866.77 654.66 865.24 655.48 863.73C656.3 862.21 657.12 860.7 657.98 859.21C658.83 857.73 659.69 856.26 660.59 854.82C661.49 853.39 662.42 851.97 663.38 850.61C664.35 849.24 665.35 847.91 666.4 846.63C667.45 845.36 668.54 844.12 669.69 842.96C670.84 841.79 672.04 840.68 673.3 839.64C674.57 838.6 675.9 837.63 677.26 836.7C678.63 835.77 680.06 834.91 681.5 834.06C682.94 833.21 684.42 832.41 685.91 831.6C687.39 830.79 688.9 830.01 690.39 829.21C691.89 828.41 693.39 827.62 694.86 826.78C696.34 825.94 697.8 825.1 699.22 824.2C700.65 823.3 702.03 822.35 703.4 821.38C704.77 820.41 706.11 819.4 707.44 818.4C708.78 817.39 710.1 816.36 711.43 815.35C712.77 814.34 714.09 813.32 715.44 812.35C716.8 811.37 718.16 810.41 719.56 809.49C720.96 808.58 722.39 807.71 723.83 806.86C725.27 806 726.75 805.19 728.22 804.37C729.69 803.56 731.17 802.77 732.65 801.95C734.12 801.14 735.6 800.34 737.05 799.5C738.51 798.66 739.94 797.79 741.37 796.91C742.79 796.04 744.19 795.11 745.61 794.24C747.03 793.37 748.44 792.49 749.89 791.67C751.33 790.85 752.81 790.11 754.27 789.32C755.72 788.53 757.19 787.78 758.61 786.94C760.03 786.11 761.39 785.17 762.79 784.31C764.18 783.45 765.55 782.55 766.98 781.78C768.42 781.01 769.9 780.35 771.41 779.71C772.91 779.06 774.46 778.51 776.01 777.9C777.56 777.29 779.13 776.7 780.69 776.04C782.25 775.38 783.8 774.66 785.36 773.94C786.92 773.23 788.48 772.46 790.03 771.74C791.59 771.02 793.15 770.29 794.72 769.63C796.29 768.97 797.85 768.32 799.43 767.78C801 767.24 802.58 766.74 804.17 766.39C805.76 766.03 807.36 765.76 808.96 765.63C810.57 765.5 812.19 765.56 813.81 765.63C815.44 765.69 817.08 765.91 818.72 766.01C820.37 766.11 822.03 766.23 823.69 766.23C825.35 766.23 827.03 766.07 828.69 766C830.36 765.92 832.03 765.75 833.67 765.79C835.32 765.82 836.96 765.9 838.56 766.2C840.17 766.5 841.75 767 843.3 767.58C844.86 768.16 846.39 768.92 847.89 769.69C849.39 770.46 850.86 771.32 852.3 772.2C853.75 773.08 855.16 773.99 856.55 774.94C857.93 775.89 859.29 776.88 860.63 777.9C861.96 778.92 863.26 779.98 864.54 781.07C865.81 782.15 867.06 783.27 868.29 784.42C869.51 785.56 870.7 786.74 871.87 787.94C873.04 789.14 874.19 790.36 875.3 791.61C876.42 792.86 877.51 794.14 878.58 795.43C879.64 796.73 880.68 798.05 881.69 799.39C882.71 800.73 883.7 802.09 884.66 803.47C885.62 804.84 886.56 806.24 887.47 807.65C888.39 809.07 889.27 810.5 890.14 811.94C891 813.38 891.84 814.84 892.66 816.31C893.47 817.78 894.26 819.27 895.03 820.76C895.8 822.25 896.54 823.76 897.26 825.27C897.98 826.79 898.68 828.31 899.35 829.84C900.03 831.37 900.68 832.91 901.31 834.46C901.94 836.01 902.55 837.56 903.13 839.13C903.72 840.69 904.29 842.26 904.84 843.84C905.39 845.41 905.91 847 906.42 848.59C906.93 850.18 907.42 851.77 907.9 853.38C908.37 854.98 908.83 856.59 909.27 858.2C909.71 859.82 910.13 861.43 910.54 863.06C910.95 864.68 911.34 866.31 911.72 867.95C912.09 869.58 912.46 871.22 912.81 872.86C913.15 874.5 913.49 876.15 913.81 877.8C914.14 879.45 914.45 881.1 914.75 882.75C915.05 884.41 915.33 886.07 915.61 887.73C915.89 889.39 916.15 891.06 916.41 892.72C916.67 894.39 916.91 896.05 917.15 897.72C917.39 899.39 917.62 901.06 917.84 902.73C918.06 904.41 918.28 906.08 918.48 907.75C918.69 909.43 918.89 911.1 919.09 912.77C919.28 914.45 919.47 916.12 919.66 917.79C919.84 919.47 920.02 921.14 920.2 922.81C920.38 924.48 920.55 926.15 920.72 927.82C920.89 929.49 921.06 931.16 921.22 932.82C921.39 934.49 921.55 936.15 921.72 937.82C921.88 939.48 922.04 941.14 922.21 942.79C922.37 944.45 922.62 946.92 922.7 947.75L922.7 959.75Z" fill="#6DCBDD"/>
<path d="M609.6 524.25L609.6 536.25C609.67 537.09 609.89 539.61 610.03 541.28C610.18 542.96 610.32 544.64 610.45 546.31C610.59 547.98 610.73 549.66 610.86 551.33C611 553 611.13 554.67 611.26 556.34C611.39 558.01 611.53 559.68 611.66 561.34C611.79 563.01 611.92 564.67 612.06 566.34C612.19 568 612.33 569.66 612.46 571.32C612.6 572.98 612.74 574.64 612.88 576.3C613.02 577.96 613.16 579.62 613.31 581.27C613.46 582.93 613.61 584.59 613.76 586.24C613.92 587.89 614.07 589.54 614.24 591.2C614.4 592.85 614.57 594.5 614.74 596.14C614.91 597.79 615.09 599.44 615.27 601.09C615.46 602.73 615.65 604.38 615.85 606.02C616.04 607.66 616.25 609.31 616.46 610.95C616.67 612.59 616.89 614.23 617.12 615.87C617.35 617.5 617.58 619.14 617.83 620.78C618.07 622.41 618.33 624.05 618.59 625.68C618.86 627.32 619.13 628.95 619.41 630.58C619.7 632.21 619.99 633.84 620.3 635.47C620.61 637.1 620.93 638.73 621.26 640.35C621.59 641.98 621.93 643.61 622.28 645.23C622.64 646.85 623 648.48 623.39 650.1C623.77 651.72 624.16 653.34 624.57 654.96C624.98 656.58 625.4 658.2 625.84 659.82C626.28 661.43 626.73 663.05 627.2 664.66C627.67 666.28 628.15 667.89 628.65 669.51C629.15 671.12 629.67 672.73 630.21 674.34C630.74 675.95 631.29 677.56 631.86 679.17C632.43 680.78 633.02 682.39 633.63 683.99C634.23 685.59 634.86 687.19 635.51 688.78C636.16 690.37 636.83 691.95 637.52 693.51C638.22 695.07 638.94 696.62 639.69 698.15C640.44 699.68 641.21 701.19 642.02 702.67C642.83 704.15 643.66 705.61 644.53 707.03C645.4 708.46 646.29 709.86 647.23 711.21C648.16 712.57 649.13 713.9 650.14 715.18C651.15 716.46 652.19 717.7 653.27 718.89C654.36 720.09 655.48 721.24 656.64 722.33C657.81 723.43 659.01 724.48 660.27 725.46C661.52 726.45 662.81 727.38 664.16 728.25C665.5 729.12 666.89 729.93 668.33 730.66C669.77 731.4 671.26 732.08 672.81 732.67C674.35 733.27 675.95 733.8 677.59 734.25C679.23 734.7 680.94 735.08 682.64 735.39C684.34 735.71 686.09 735.95 687.81 736.16C689.53 736.36 691.26 736.5 692.94 736.61C694.63 736.71 696.28 736.77 697.92 736.78C699.55 736.78 701.16 736.75 702.76 736.63C704.37 736.52 705.96 736.34 707.57 736.1C709.17 735.87 710.77 735.54 712.39 735.23C714 734.92 715.63 734.55 717.27 734.25C718.92 733.94 720.6 733.67 722.27 733.38C723.94 733.1 725.64 732.89 727.28 732.54C728.91 732.19 730.54 731.84 732.07 731.29C733.61 730.75 735.06 730.06 736.47 729.28C737.88 728.49 739.21 727.55 740.53 726.59C741.85 725.62 743.12 724.55 744.4 723.49C745.69 722.44 746.95 721.33 748.24 720.27C749.54 719.22 750.85 718.18 752.17 717.16C753.5 716.14 754.85 715.15 756.2 714.16C757.55 713.18 758.92 712.21 760.28 711.24C761.65 710.28 763.02 709.32 764.38 708.36C765.75 707.39 767.12 706.43 768.47 705.45C769.82 704.47 771.17 703.49 772.5 702.49C773.83 701.48 775.14 700.46 776.44 699.42C777.74 698.38 779.02 697.32 780.29 696.25C781.57 695.18 782.83 694.1 784.09 693.01C785.35 691.93 786.6 690.83 787.85 689.74C789.1 688.64 790.35 687.54 791.6 686.44C792.85 685.35 794.1 684.25 795.36 683.16C796.62 682.08 797.89 680.99 799.16 679.92C800.43 678.85 801.71 677.79 803 676.73C804.28 675.67 805.57 674.62 806.86 673.56C808.15 672.51 809.44 671.46 810.73 670.4C812.02 669.34 813.3 668.28 814.58 667.21C815.86 666.14 817.13 665.07 818.4 663.98C819.66 662.89 820.92 661.79 822.16 660.68C823.4 659.57 824.64 658.44 825.86 657.31C827.08 656.17 828.29 655.02 829.49 653.86C830.69 652.69 831.87 651.52 833.05 650.33C834.22 649.14 835.38 647.94 836.53 646.73C837.68 645.52 838.82 644.29 839.94 643.06C841.06 641.82 842.17 640.57 843.27 639.31C844.36 638.05 845.44 636.78 846.51 635.5C847.57 634.22 848.63 632.92 849.66 631.62C850.7 630.31 851.72 628.99 852.73 627.67C853.74 626.34 854.73 625 855.7 623.65C856.68 622.3 857.64 620.94 858.58 619.57C859.52 618.2 860.45 616.81 861.35 615.42C862.26 614.03 863.15 612.63 864.03 611.21C864.9 609.8 865.76 608.37 866.59 606.94C867.43 605.51 868.25 604.06 869.05 602.61C869.85 601.15 870.63 599.69 871.4 598.22C872.16 596.74 872.9 595.26 873.63 593.77C874.35 592.27 875.05 590.77 875.74 589.26C876.42 587.75 877.08 586.23 877.73 584.7C878.37 583.17 878.99 581.63 879.59 580.08C880.19 578.53 880.77 576.97 881.32 575.41C881.88 573.84 882.42 572.27 882.93 570.69C883.44 569.1 883.93 567.51 884.4 565.91C884.86 564.31 885.31 562.7 885.73 561.09C886.15 559.47 886.54 557.84 886.92 556.21C887.29 554.58 887.64 552.94 887.96 551.29C888.29 549.64 888.59 547.99 888.86 546.32C889.13 544.66 889.38 542.99 889.61 541.31C889.83 539.63 890.1 537.09 890.2 536.25L890.2 524.25Z" fill="#6FC06B"/>
<path d="M626.6 959.75L626.6 947.75C626.67 946.86 626.84 944.17 627.03 942.42C627.22 940.67 627.46 938.95 627.74 937.25C628.02 935.55 628.35 933.89 628.72 932.24C629.09 930.59 629.5 928.97 629.94 927.36C630.39 925.76 630.87 924.18 631.39 922.61C631.91 921.05 632.46 919.5 633.04 917.97C633.62 916.44 634.24 914.92 634.88 913.42C635.52 911.92 636.19 910.43 636.88 908.95C637.58 907.47 638.3 906 639.04 904.54C639.77 903.08 640.54 901.63 641.31 900.18C642.09 898.74 642.89 897.3 643.7 895.86C644.51 894.42 645.34 892.98 646.17 891.55C647.01 890.11 647.86 888.68 648.72 887.24C649.57 885.81 650.44 884.37 651.31 882.93C652.18 881.48 653.06 880.04 653.93 878.58C654.81 877.13 655.69 875.67 656.56 874.2C657.44 872.73 658.31 871.24 659.19 869.76C660.07 868.28 660.94 866.79 661.83 865.31C662.72 863.83 663.61 862.35 664.53 860.9C665.45 859.45 666.38 858.01 667.33 856.61C668.29 855.21 669.27 853.82 670.28 852.49C671.3 851.15 672.34 849.85 673.42 848.6C674.51 847.35 675.63 846.15 676.8 845.01C677.97 843.88 679.18 842.79 680.44 841.78C681.71 840.78 683.04 839.85 684.41 838.98C685.78 838.11 687.22 837.33 688.69 836.58C690.15 835.83 691.67 835.16 693.19 834.48C694.71 833.8 696.27 833.18 697.83 832.53C699.38 831.88 700.95 831.26 702.5 830.6C704.05 829.94 705.61 829.29 707.13 828.57C708.65 827.85 710.15 827.1 711.61 826.29C713.08 825.49 714.52 824.63 715.94 823.75C717.35 822.87 718.75 821.94 720.13 821C721.52 820.07 722.88 819.1 724.24 818.13C725.61 817.16 726.96 816.17 728.32 815.19C729.67 814.22 731.03 813.23 732.39 812.27C733.76 811.32 735.12 810.36 736.51 809.44C737.9 808.52 739.3 807.63 740.72 806.77C742.14 805.9 743.58 805.08 745.03 804.27C746.47 803.45 747.93 802.67 749.39 801.88C750.84 801.1 752.3 800.33 753.75 799.54C755.19 798.76 756.63 797.97 758.06 797.17C759.48 796.37 760.88 795.54 762.29 794.73C763.7 793.92 765.09 793.09 766.53 792.32C767.96 791.54 769.41 790.81 770.88 790.09C772.36 789.37 773.86 788.7 775.37 788.02C776.87 787.34 778.4 786.68 779.93 786C781.46 785.33 783 784.65 784.55 783.99C786.1 783.32 787.65 782.66 789.22 782.03C790.78 781.4 792.35 780.78 793.93 780.21C795.51 779.64 797.09 779.1 798.68 778.62C800.27 778.14 801.87 777.7 803.48 777.34C805.08 776.98 806.69 776.68 808.31 776.47C809.93 776.25 811.55 776.13 813.18 776.06C814.81 775.98 816.45 775.99 818.1 775.99C819.74 775.99 821.4 776.04 823.06 776.05C824.73 776.07 826.4 776.05 828.08 776.09C829.75 776.13 831.43 776.15 833.09 776.28C834.75 776.41 836.41 776.58 838.04 776.87C839.67 777.17 841.29 777.57 842.87 778.07C844.45 778.57 846 779.17 847.5 779.86C849 780.55 850.45 781.34 851.85 782.2C853.26 783.05 854.6 784.01 855.91 785C857.23 786 858.49 787.08 859.74 788.19C860.98 789.3 862.19 790.47 863.38 791.66C864.58 792.84 865.74 794.08 866.9 795.31C868.06 796.54 869.21 797.8 870.36 799.05C871.51 800.29 872.65 801.55 873.8 802.78C874.95 804.02 876.1 805.25 877.24 806.48C878.38 807.71 879.51 808.94 880.62 810.18C881.72 811.43 882.81 812.67 883.86 813.95C884.91 815.22 885.94 816.51 886.91 817.83C887.88 819.15 888.82 820.49 889.7 821.88C890.57 823.26 891.39 824.69 892.16 826.14C892.94 827.6 893.64 829.1 894.33 830.61C895.01 832.13 895.64 833.68 896.25 835.23C896.87 836.78 897.45 838.35 898.03 839.93C898.6 841.5 899.15 843.08 899.7 844.66C900.24 846.24 900.77 847.82 901.29 849.41C901.8 851 902.3 852.6 902.79 854.19C903.28 855.79 903.75 857.39 904.22 858.99C904.68 860.6 905.13 862.2 905.56 863.82C906 865.43 906.42 867.04 906.83 868.66C907.24 870.27 907.64 871.89 908.02 873.52C908.41 875.14 908.79 876.76 909.15 878.39C909.51 880.02 909.86 881.65 910.2 883.28C910.54 884.92 910.87 886.55 911.18 888.19C911.5 889.83 911.81 891.47 912.1 893.11C912.4 894.75 912.68 896.4 912.96 898.04C913.23 899.69 913.5 901.33 913.75 902.98C914.01 904.63 914.25 906.28 914.49 907.94C914.72 909.59 914.95 911.24 915.17 912.9C915.38 914.55 915.59 916.21 915.79 917.86C915.99 919.52 916.18 921.18 916.36 922.84C916.54 924.5 916.72 926.16 916.88 927.82C917.05 929.48 917.2 931.14 917.35 932.8C917.5 934.46 917.64 936.12 917.78 937.78C917.91 939.44 918.04 941.1 918.16 942.77C918.28 944.43 918.44 946.92 918.5 947.75L918.5 959.75Z" fill="#6FC06B"/>
<path d="M614 524.25L614 536.25C614.07 537.08 614.29 539.57 614.43 541.24C614.57 542.9 614.7 544.57 614.83 546.24C614.97 547.91 615.1 549.58 615.23 551.25C615.36 552.93 615.48 554.6 615.61 556.28C615.74 557.96 615.87 559.63 616 561.31C616.12 562.99 616.25 564.67 616.38 566.35C616.51 568.04 616.64 569.72 616.78 571.4C616.91 573.08 617.05 574.77 617.19 576.45C617.33 578.13 617.47 579.81 617.62 581.5C617.76 583.18 617.92 584.86 618.07 586.54C618.23 588.23 618.39 589.91 618.56 591.59C618.73 593.27 618.9 594.95 619.08 596.63C619.27 598.31 619.45 599.98 619.65 601.66C619.85 603.33 620.05 605.01 620.27 606.68C620.48 608.35 620.7 610.02 620.93 611.69C621.17 613.36 621.41 615.03 621.66 616.69C621.92 618.35 622.18 620.01 622.46 621.67C622.73 623.33 623.02 624.99 623.32 626.64C623.62 628.29 623.93 629.94 624.26 631.58C624.59 633.23 624.93 634.87 625.29 636.51C625.64 638.15 626.01 639.78 626.4 641.41C626.78 643.04 627.18 644.67 627.6 646.29C628.02 647.91 628.45 649.52 628.9 651.14C629.35 652.75 629.82 654.35 630.31 655.96C630.8 657.56 631.3 659.15 631.83 660.74C632.35 662.33 632.9 663.92 633.46 665.5C634.03 667.08 634.61 668.65 635.21 670.22C635.82 671.79 636.44 673.35 637.08 674.9C637.73 676.45 638.39 678 639.08 679.54C639.76 681.08 640.47 682.61 641.2 684.13C641.92 685.66 642.67 687.17 643.44 688.68C644.21 690.19 645 691.69 645.81 693.17C646.62 694.66 647.46 696.15 648.31 697.62C649.17 699.09 650.04 700.56 650.95 702C651.85 703.45 652.77 704.89 653.74 706.29C654.7 707.68 655.69 709.06 656.72 710.38C657.76 711.7 658.82 712.98 659.94 714.19C661.06 715.41 662.22 716.57 663.45 717.65C664.67 718.72 665.93 719.74 667.27 720.64C668.61 721.55 670 722.39 671.46 723.1C672.92 723.82 674.46 724.43 676.04 724.95C677.63 725.46 679.29 725.86 680.97 726.19C682.65 726.52 684.39 726.76 686.13 726.93C687.87 727.1 689.65 727.19 691.42 727.23C693.18 727.27 694.97 727.24 696.73 727.18C698.48 727.12 700.24 727 701.95 726.86C703.66 726.72 705.35 726.54 706.99 726.34C708.63 726.15 710.21 725.94 711.8 725.71C713.39 725.48 714.93 725.23 716.52 724.96C718.11 724.69 719.72 724.42 721.35 724.1C722.98 723.78 724.66 723.47 726.29 723.04C727.93 722.61 729.58 722.15 731.15 721.54C732.73 720.93 734.25 720.19 735.72 719.38C737.2 718.57 738.61 717.62 740.01 716.67C741.4 715.73 742.76 714.72 744.11 713.71C745.46 712.7 746.79 711.66 748.1 710.62C749.42 709.57 750.71 708.5 752.01 707.43C753.3 706.36 754.57 705.27 755.85 704.18C757.12 703.08 758.39 701.98 759.65 700.88C760.92 699.78 762.19 698.68 763.46 697.58C764.73 696.48 765.99 695.38 767.27 694.3C768.56 693.21 769.84 692.13 771.14 691.06C772.44 689.99 773.75 688.94 775.06 687.88C776.37 686.83 777.69 685.79 779.02 684.75C780.34 683.71 781.68 682.68 783.01 681.64C784.34 680.61 785.68 679.58 787.01 678.55C788.35 677.52 789.69 676.5 791.02 675.47C792.36 674.43 793.69 673.4 795.02 672.36C796.35 671.32 797.68 670.28 799 669.23C800.31 668.18 801.63 667.12 802.94 666.05C804.24 664.99 805.54 663.91 806.83 662.82C808.11 661.73 809.39 660.63 810.66 659.52C811.93 658.41 813.18 657.28 814.43 656.15C815.67 655.01 816.91 653.86 818.13 652.71C819.35 651.55 820.56 650.38 821.76 649.2C822.96 648.01 824.15 646.82 825.33 645.62C826.5 644.41 827.67 643.2 828.82 641.97C829.97 640.74 831.11 639.5 832.23 638.26C833.36 637.01 834.47 635.75 835.57 634.48C836.67 633.21 837.75 631.92 838.82 630.63C839.9 629.34 840.95 628.04 842 626.72C843.04 625.41 844.07 624.09 845.09 622.75C846.1 621.42 847.1 620.07 848.09 618.72C849.07 617.36 850.04 616 851 614.62C851.95 613.24 852.89 611.86 853.82 610.46C854.74 609.07 855.65 607.66 856.54 606.24C857.43 604.83 858.31 603.4 859.17 601.97C860.03 600.53 860.87 599.08 861.69 597.63C862.52 596.17 863.33 594.71 864.12 593.23C864.91 591.76 865.69 590.28 866.44 588.78C867.2 587.29 867.94 585.79 868.66 584.27C869.38 582.76 870.08 581.24 870.76 579.71C871.44 578.18 872.11 576.64 872.75 575.09C873.4 573.54 874.03 571.98 874.63 570.42C875.24 568.85 875.83 567.27 876.4 565.69C876.97 564.1 877.51 562.51 878.04 560.91C878.57 559.31 879.08 557.7 879.57 556.08C880.05 554.46 880.52 552.83 880.97 551.2C881.41 549.56 881.84 547.92 882.24 546.26C882.64 544.61 883.02 542.95 883.39 541.28C883.75 539.61 884.23 537.09 884.4 536.25L884.4 524.25Z" fill="#6ABD45"/>
<path d="M630.7 959.75L630.7 947.75C630.81 946.86 631.12 944.17 631.39 942.42C631.66 940.67 631.98 938.95 632.34 937.26C632.69 935.57 633.09 933.9 633.52 932.26C633.95 930.62 634.43 929.01 634.93 927.41C635.43 925.81 635.97 924.24 636.55 922.69C637.12 921.13 637.72 919.6 638.35 918.08C638.98 916.56 639.65 915.06 640.33 913.57C641.02 912.08 641.74 910.61 642.48 909.15C643.21 907.68 643.98 906.24 644.76 904.79C645.54 903.35 646.35 901.92 647.17 900.49C647.99 899.06 648.84 897.65 649.69 896.23C650.55 894.81 651.42 893.4 652.31 891.99C653.19 890.58 654.1 889.17 655 887.76C655.91 886.35 656.84 884.94 657.76 883.52C658.69 882.1 659.63 880.68 660.57 879.26C661.51 877.83 662.45 876.4 663.4 874.96C664.35 873.52 665.3 872.06 666.25 870.61C667.2 869.15 668.16 867.69 669.13 866.24C670.1 864.78 671.07 863.33 672.07 861.91C673.07 860.48 674.08 859.07 675.11 857.69C676.15 856.31 677.21 854.96 678.3 853.65C679.39 852.35 680.5 851.07 681.66 849.86C682.81 848.65 684 847.48 685.23 846.38C686.47 845.29 687.74 844.24 689.06 843.29C690.38 842.33 691.75 841.44 693.17 840.64C694.6 839.84 696.09 839.14 697.61 838.49C699.13 837.84 700.71 837.29 702.29 836.74C703.88 836.19 705.51 835.71 707.11 835.19C708.72 834.67 710.35 834.18 711.94 833.63C713.53 833.07 715.11 832.51 716.64 831.84C718.17 831.18 719.67 830.46 721.1 829.63C722.53 828.81 723.9 827.86 725.24 826.88C726.58 825.89 727.87 824.81 729.16 823.74C730.46 822.67 731.72 821.54 733.02 820.47C734.32 819.4 735.61 818.31 736.96 817.31C738.31 816.31 739.7 815.37 741.13 814.5C742.55 813.62 744.04 812.85 745.53 812.07C747.01 811.29 748.53 810.57 750.02 809.82C751.51 809.08 753 808.34 754.48 807.6C755.97 806.85 757.44 806.11 758.92 805.36C760.39 804.62 761.86 803.88 763.34 803.13C764.81 802.39 766.28 801.65 767.76 800.91C769.24 800.17 770.72 799.43 772.22 798.69C773.71 797.95 775.2 797.22 776.71 796.49C778.22 795.76 779.74 795.03 781.28 794.31C782.81 793.59 784.36 792.87 785.91 792.18C787.47 791.5 789.04 790.82 790.62 790.19C792.2 789.57 793.78 788.96 795.38 788.43C796.98 787.89 798.58 787.39 800.19 786.97C801.8 786.55 803.42 786.19 805.04 785.91C806.67 785.64 808.29 785.45 809.93 785.34C811.56 785.23 813.19 785.25 814.84 785.27C816.48 785.29 818.13 785.4 819.8 785.46C821.46 785.51 823.14 785.56 824.82 785.6C826.5 785.64 828.21 785.6 829.89 785.68C831.57 785.76 833.25 785.82 834.89 786.07C836.54 786.31 838.16 786.65 839.74 787.15C841.31 787.65 842.86 788.32 844.34 789.08C845.83 789.83 847.27 790.73 848.65 791.69C850.04 792.64 851.35 793.7 852.63 794.79C853.9 795.89 855.11 797.06 856.31 798.25C857.51 799.44 858.65 800.69 859.8 801.93C860.95 803.17 862.07 804.44 863.2 805.68C864.34 806.93 865.46 808.19 866.62 809.39C867.77 810.6 868.93 811.79 870.14 812.92C871.34 814.04 872.61 815.08 873.85 816.14C875.09 817.21 876.4 818.17 877.57 819.29C878.74 820.4 879.86 821.56 880.89 822.82C881.92 824.08 882.84 825.44 883.74 826.83C884.64 828.22 885.46 829.69 886.29 831.15C887.11 832.61 887.91 834.1 888.68 835.6C889.46 837.1 890.22 838.61 890.95 840.12C891.68 841.64 892.39 843.17 893.07 844.71C893.75 846.24 894.4 847.79 895.03 849.34C895.66 850.89 896.27 852.45 896.86 854.02C897.44 855.59 898 857.16 898.54 858.74C899.08 860.33 899.6 861.91 900.1 863.51C900.6 865.1 901.08 866.71 901.54 868.31C902 869.92 902.44 871.54 902.86 873.15C903.28 874.77 903.69 876.4 904.08 878.02C904.46 879.65 904.83 881.29 905.19 882.92C905.54 884.56 905.88 886.2 906.21 887.85C906.53 889.49 906.84 891.14 907.14 892.8C907.44 894.45 907.72 896.1 907.99 897.76C908.26 899.42 908.52 901.08 908.77 902.74C909.02 904.41 909.25 906.07 909.48 907.74C909.71 909.4 909.92 911.07 910.13 912.74C910.34 914.41 910.54 916.08 910.73 917.75C910.92 919.42 911.1 921.09 911.28 922.76C911.46 924.43 911.63 926.1 911.8 927.77C911.96 929.44 912.12 931.11 912.28 932.78C912.43 934.45 912.59 936.12 912.73 937.78C912.88 939.45 913.03 941.11 913.17 942.77C913.32 944.43 913.53 946.92 913.6 947.75L913.6 959.75Z" fill="#6ABD45"/>
<path d="M619.5 524.25L619.5 536.25C619.58 537.07 619.82 539.54 619.97 541.2C620.12 542.85 620.27 544.5 620.41 546.16C620.56 547.82 620.7 549.49 620.84 551.15C620.98 552.82 621.11 554.49 621.25 556.16C621.39 557.83 621.52 559.5 621.66 561.17C621.79 562.85 621.93 564.52 622.06 566.2C622.2 567.88 622.34 569.56 622.48 571.24C622.62 572.92 622.76 574.6 622.9 576.28C623.05 577.96 623.2 579.65 623.35 581.33C623.51 583.01 623.66 584.69 623.83 586.37C623.99 588.05 624.16 589.74 624.33 591.42C624.51 593.1 624.69 594.78 624.88 596.45C625.07 598.13 625.27 599.81 625.48 601.48C625.68 603.16 625.9 604.83 626.12 606.5C626.35 608.17 626.58 609.84 626.83 611.5C627.07 613.17 627.33 614.83 627.6 616.49C627.87 618.15 628.15 619.8 628.44 621.46C628.74 623.11 629.04 624.76 629.36 626.4C629.68 628.05 630.02 629.69 630.37 631.32C630.72 632.96 631.09 634.59 631.47 636.21C631.85 637.84 632.25 639.46 632.67 641.08C633.08 642.69 633.51 644.3 633.97 645.9C634.42 647.51 634.89 649.11 635.38 650.7C635.87 652.29 636.38 653.87 636.91 655.45C637.44 657.03 637.99 658.6 638.56 660.16C639.14 661.72 639.73 663.28 640.35 664.83C640.97 666.37 641.61 667.91 642.28 669.44C642.94 670.97 643.63 672.49 644.36 673.99C645.08 675.5 645.82 677 646.6 678.48C647.38 679.96 648.19 681.43 649.03 682.88C649.87 684.33 650.74 685.77 651.64 687.19C652.55 688.62 653.49 690.02 654.46 691.41C655.44 692.8 656.45 694.17 657.5 695.52C658.55 696.87 659.63 698.21 660.76 699.51C661.88 700.81 663.05 702.11 664.26 703.32C665.47 704.53 666.72 705.71 668.02 706.78C669.32 707.85 670.66 708.86 672.06 709.73C673.45 710.6 674.89 711.38 676.39 712C677.88 712.62 679.43 713.11 681.03 713.43C682.63 713.74 684.31 713.84 685.99 713.88C687.68 713.93 689.44 713.75 691.16 713.69C692.87 713.63 694.62 713.49 696.31 713.51C698 713.52 699.65 713.68 701.3 713.79C702.95 713.91 704.56 714.13 706.19 714.2C707.83 714.26 709.46 714.29 711.12 714.17C712.77 714.04 714.45 713.77 716.11 713.44C717.76 713.11 719.44 712.65 721.07 712.18C722.7 711.7 724.31 711.16 725.89 710.59C727.47 710.02 729.02 709.41 730.54 708.76C732.06 708.11 733.55 707.42 735.02 706.69C736.48 705.95 737.92 705.17 739.33 704.34C740.75 703.51 742.13 702.63 743.5 701.71C744.86 700.79 746.2 699.82 747.53 698.83C748.86 697.83 750.16 696.79 751.46 695.74C752.75 694.68 754.03 693.59 755.31 692.5C756.58 691.4 757.85 690.27 759.11 689.15C760.37 688.03 761.63 686.88 762.89 685.75C764.15 684.62 765.41 683.48 766.68 682.36C767.95 681.24 769.22 680.12 770.5 679.01C771.78 677.91 773.07 676.82 774.36 675.73C775.65 674.64 776.94 673.57 778.24 672.49C779.54 671.42 780.84 670.35 782.14 669.29C783.44 668.22 784.74 667.16 786.04 666.1C787.34 665.04 788.65 663.98 789.94 662.92C791.24 661.86 792.54 660.8 793.83 659.73C795.12 658.67 796.41 657.6 797.69 656.52C798.97 655.44 800.24 654.36 801.51 653.27C802.77 652.18 804.03 651.08 805.28 649.97C806.53 648.86 807.77 647.74 809 646.6C810.23 645.47 811.45 644.32 812.65 643.16C813.86 642 815.05 640.83 816.24 639.64C817.42 638.45 818.59 637.25 819.74 636.04C820.9 634.83 822.05 633.61 823.18 632.37C824.31 631.13 825.43 629.88 826.54 628.62C827.65 627.36 828.74 626.09 829.82 624.8C830.9 623.52 831.97 622.22 833.02 620.91C834.07 619.6 835.11 618.29 836.14 616.95C837.16 615.62 838.18 614.28 839.17 612.93C840.17 611.58 841.15 610.22 842.12 608.84C843.09 607.47 844.05 606.09 844.99 604.7C845.92 603.3 846.85 601.9 847.76 600.48C848.67 599.07 849.56 597.65 850.44 596.22C851.32 594.78 852.18 593.34 853.03 591.89C853.87 590.44 854.7 588.98 855.52 587.51C856.33 586.04 857.13 584.56 857.91 583.08C858.69 581.59 859.46 580.1 860.21 578.59C860.96 577.09 861.69 575.58 862.4 574.06C863.12 572.54 863.82 571.01 864.5 569.48C865.18 567.95 865.84 566.4 866.48 564.85C867.13 563.31 867.75 561.75 868.36 560.19C868.97 558.62 869.56 557.05 870.14 555.47C870.71 553.9 871.26 552.31 871.8 550.72C872.33 549.13 872.85 547.54 873.35 545.93C873.84 544.33 874.32 542.72 874.78 541.11C875.24 539.5 875.88 537.06 876.1 536.25L876.1 524.25Z" fill="#F5EC1E"/>
<path d="M636.2 959.75L636.2 947.75C636.18 946.84 636.03 944.05 636.11 942.28C636.18 940.51 636.38 938.8 636.67 937.13C636.95 935.46 637.34 933.84 637.79 932.25C638.25 930.67 638.8 929.12 639.4 927.6C640 926.08 640.68 924.59 641.4 923.12C642.12 921.65 642.9 920.21 643.7 918.77C644.51 917.34 645.36 915.92 646.22 914.51C647.08 913.09 647.98 911.69 648.87 910.28C649.75 908.86 650.66 907.45 651.55 906.03C652.44 904.61 653.33 903.18 654.21 901.74C655.09 900.31 655.97 898.86 656.85 897.42C657.73 895.98 658.61 894.53 659.5 893.09C660.38 891.65 661.27 890.21 662.17 888.78C663.07 887.35 663.98 885.92 664.9 884.51C665.83 883.09 666.76 881.68 667.71 880.29C668.66 878.91 669.63 877.53 670.62 876.17C671.61 874.81 672.62 873.47 673.65 872.15C674.69 870.84 675.75 869.54 676.83 868.27C677.91 866.99 679.02 865.74 680.14 864.51C681.27 863.28 682.42 862.08 683.6 860.89C684.77 859.7 685.96 858.54 687.17 857.4C688.39 856.26 689.62 855.14 690.88 854.04C692.13 852.95 693.4 851.87 694.7 850.82C695.99 849.77 697.3 848.74 698.63 847.73C699.95 846.73 701.3 845.74 702.66 844.78C704.03 843.82 705.4 842.88 706.8 841.96C708.19 841.04 709.6 840.15 711.03 839.28C712.45 838.41 713.89 837.56 715.35 836.73C716.8 835.9 718.27 835.1 719.75 834.32C721.23 833.54 722.72 832.78 724.22 832.05C725.73 831.31 727.25 830.6 728.77 829.91C730.3 829.22 731.84 828.56 733.38 827.91C734.93 827.26 736.49 826.65 738.05 826.03C739.6 825.41 741.17 824.81 742.73 824.19C744.28 823.57 745.84 822.95 747.38 822.31C748.92 821.66 750.46 821 751.98 820.3C753.49 819.6 754.99 818.88 756.47 818.09C757.95 817.31 759.39 816.46 760.83 815.6C762.26 814.73 763.66 813.79 765.08 812.91C766.5 812.03 767.91 811.15 769.35 810.33C770.78 809.51 772.23 808.73 773.69 807.99C775.15 807.25 776.62 806.56 778.11 805.9C779.59 805.24 781.09 804.62 782.61 804.04C784.12 803.47 785.65 802.93 787.2 802.42C788.75 801.92 790.31 801.45 791.88 801.02C793.46 800.59 795.05 800.19 796.66 799.83C798.28 799.47 799.9 799.14 801.55 798.85C803.19 798.56 804.86 798.3 806.54 798.07C808.22 797.84 809.92 797.64 811.63 797.47C813.35 797.31 815.09 797.18 816.82 797.09C818.56 797 820.31 796.94 822.04 796.94C823.78 796.94 825.53 796.98 827.25 797.08C828.98 797.17 830.7 797.32 832.39 797.53C834.08 797.74 835.77 798.01 837.41 798.35C839.06 798.68 840.68 799.08 842.26 799.56C843.84 800.03 845.38 800.58 846.88 801.2C848.37 801.83 849.83 802.54 851.23 803.31C852.64 804.09 854.01 804.94 855.33 805.85C856.66 806.76 857.94 807.74 859.18 808.77C860.43 809.8 861.63 810.9 862.8 812.04C863.97 813.18 865.1 814.38 866.19 815.61C867.29 816.85 868.35 818.14 869.39 819.45C870.42 820.77 871.41 822.13 872.38 823.52C873.35 824.9 874.29 826.32 875.2 827.76C876.12 829.2 877 830.67 877.86 832.14C878.72 833.62 879.55 835.12 880.36 836.63C881.17 838.13 881.95 839.65 882.72 841.17C883.48 842.69 884.23 844.22 884.95 845.75C885.67 847.28 886.38 848.82 887.06 850.36C887.74 851.91 888.4 853.45 889.04 855C889.69 856.56 890.31 858.11 890.91 859.68C891.52 861.24 892.1 862.8 892.67 864.38C893.24 865.95 893.78 867.52 894.32 869.1C894.85 870.68 895.36 872.27 895.86 873.86C896.35 875.45 896.83 877.04 897.3 878.64C897.76 880.24 898.21 881.84 898.64 883.45C899.07 885.05 899.49 886.66 899.89 888.28C900.29 889.89 900.68 891.51 901.05 893.13C901.43 894.75 901.79 896.38 902.13 898C902.48 899.63 902.81 901.27 903.13 902.9C903.45 904.54 903.75 906.18 904.04 907.82C904.34 909.46 904.62 911.1 904.89 912.75C905.16 914.4 905.42 916.05 905.67 917.71C905.91 919.36 906.15 921.02 906.38 922.68C906.61 924.34 906.82 926 907.03 927.66C907.24 929.33 907.43 930.99 907.62 932.66C907.81 934.33 907.99 936.01 908.16 937.68C908.33 939.35 908.5 941.03 908.65 942.71C908.81 944.39 909.03 946.91 909.1 947.75L909.1 959.75Z" fill="#F5EC1E"/>
<path d="M624.5 524.25L624.5 536.25C624.57 537.08 624.77 539.55 624.91 541.2C625.04 542.86 625.17 544.51 625.3 546.17C625.44 547.83 625.57 549.49 625.7 551.15C625.83 552.81 625.96 554.47 626.09 556.13C626.23 557.8 626.36 559.46 626.5 561.13C626.64 562.79 626.78 564.46 626.92 566.12C627.06 567.79 627.21 569.46 627.36 571.12C627.51 572.79 627.67 574.45 627.83 576.12C627.99 577.78 628.16 579.45 628.33 581.11C628.51 582.78 628.69 584.44 628.88 586.11C629.07 587.77 629.26 589.43 629.47 591.09C629.68 592.75 629.89 594.41 630.11 596.06C630.34 597.72 630.57 599.37 630.82 601.03C631.06 602.68 631.32 604.33 631.59 605.98C631.86 607.62 632.14 609.27 632.43 610.91C632.72 612.55 633.03 614.19 633.35 615.83C633.67 617.46 634.01 619.1 634.36 620.72C634.71 622.35 635.07 623.98 635.45 625.6C635.83 627.22 636.23 628.84 636.65 630.45C637.06 632.06 637.49 633.67 637.94 635.27C638.4 636.87 638.86 638.47 639.35 640.07C639.84 641.66 640.35 643.25 640.88 644.83C641.4 646.41 641.95 647.99 642.52 649.56C643.09 651.13 643.68 652.7 644.3 654.25C644.91 655.81 645.55 657.37 646.21 658.91C646.87 660.46 647.55 662 648.26 663.53C648.97 665.06 649.71 666.58 650.47 668.08C651.24 669.58 652.03 671.07 652.86 672.53C653.7 673.99 654.56 675.43 655.46 676.84C656.37 678.24 657.31 679.62 658.29 680.95C659.28 682.28 660.3 683.58 661.38 684.83C662.45 686.07 663.57 687.28 664.74 688.43C665.92 689.58 667.14 690.68 668.42 691.71C669.69 692.75 671.02 693.73 672.39 694.63C673.76 695.53 675.19 696.38 676.65 697.13C678.11 697.88 679.62 698.56 681.16 699.15C682.69 699.74 684.28 700.25 685.88 700.67C687.48 701.1 689.12 701.44 690.77 701.72C692.41 701.99 694.09 702.19 695.77 702.32C697.45 702.44 699.14 702.5 700.83 702.5C702.53 702.49 704.23 702.42 705.91 702.29C707.6 702.16 709.29 701.97 710.96 701.72C712.62 701.47 714.29 701.17 715.92 700.8C717.56 700.43 719.18 700.01 720.77 699.53C722.36 699.05 723.93 698.51 725.48 697.92C727.03 697.33 728.55 696.69 730.05 696C731.55 695.31 733.03 694.57 734.49 693.8C735.94 693.02 737.38 692.2 738.8 691.35C740.22 690.5 741.61 689.6 742.99 688.68C744.37 687.76 745.73 686.8 747.08 685.82C748.42 684.85 749.75 683.84 751.06 682.81C752.37 681.78 753.66 680.73 754.94 679.67C756.22 678.61 757.48 677.52 758.74 676.43C759.99 675.34 761.22 674.23 762.45 673.11C763.68 671.99 764.9 670.85 766.11 669.71C767.32 668.57 768.51 667.42 769.71 666.26C770.9 665.11 772.09 663.94 773.27 662.77C774.46 661.6 775.64 660.42 776.81 659.24C777.99 658.07 779.17 656.88 780.34 655.7C781.52 654.52 782.69 653.34 783.87 652.16C785.05 650.97 786.23 649.79 787.42 648.62C788.6 647.44 789.79 646.27 790.99 645.1C792.18 643.93 793.39 642.77 794.6 641.62C795.81 640.46 797.03 639.32 798.26 638.18C799.5 637.05 800.74 635.92 801.99 634.81C803.25 633.69 804.51 632.59 805.78 631.49C807.05 630.39 808.33 629.3 809.61 628.21C810.88 627.11 812.16 626.03 813.44 624.93C814.71 623.84 815.98 622.75 817.25 621.65C818.51 620.55 819.77 619.45 821.01 618.33C822.26 617.22 823.49 616.1 824.71 614.96C825.92 613.82 827.12 612.67 828.3 611.51C829.48 610.34 830.64 609.16 831.77 607.95C832.9 606.74 834.01 605.52 835.09 604.27C836.17 603.02 837.22 601.75 838.23 600.45C839.25 599.14 840.23 597.81 841.17 596.45C842.12 595.09 843.03 593.71 843.91 592.3C844.79 590.89 845.64 589.45 846.46 588C847.28 586.54 848.07 585.07 848.83 583.57C849.59 582.08 850.32 580.57 851.03 579.04C851.74 577.51 852.42 575.97 853.08 574.41C853.74 572.86 854.38 571.29 854.99 569.71C855.6 568.14 856.19 566.55 856.76 564.96C857.33 563.37 857.88 561.77 858.42 560.17C858.95 558.57 859.46 556.96 859.96 555.35C860.46 553.75 860.94 552.14 861.41 550.54C861.88 548.93 862.33 547.33 862.78 545.74C863.22 544.14 863.65 542.55 864.07 540.97C864.49 539.39 865.09 537.04 865.3 536.25L865.3 524.25Z" fill="#F58220"/>
<path d="M642.3 959.75L642.3 947.75C642.4 946.89 642.62 944.28 642.87 942.59C643.12 940.89 643.44 939.23 643.8 937.58C644.16 935.94 644.58 934.32 645.05 932.73C645.52 931.13 646.04 929.56 646.6 928.01C647.17 926.46 647.78 924.93 648.43 923.41C649.08 921.9 649.78 920.41 650.51 918.94C651.25 917.46 652.02 916.01 652.83 914.57C653.63 913.13 654.47 911.71 655.34 910.3C656.21 908.89 657.11 907.49 658.04 906.11C658.96 904.73 659.92 903.36 660.89 902C661.86 900.64 662.86 899.29 663.87 897.95C664.88 896.61 665.92 895.28 666.96 893.96C668.01 892.64 669.07 891.32 670.14 890.02C671.2 888.71 672.28 887.4 673.37 886.11C674.45 884.81 675.55 883.51 676.65 882.23C677.76 880.95 678.87 879.67 679.99 878.41C681.11 877.14 682.25 875.89 683.39 874.65C684.54 873.41 685.69 872.18 686.86 870.96C688.03 869.75 689.21 868.54 690.4 867.36C691.59 866.18 692.8 865.01 694.02 863.86C695.24 862.71 696.47 861.58 697.72 860.47C698.97 859.37 700.23 858.28 701.51 857.21C702.79 856.15 704.08 855.1 705.39 854.09C706.7 853.07 708.03 852.08 709.38 851.11C710.72 850.15 712.08 849.21 713.46 848.3C714.84 847.39 716.24 846.51 717.66 845.66C719.08 844.81 720.52 844 721.98 843.21C723.43 842.43 724.91 841.68 726.41 840.96C727.91 840.25 729.43 839.57 730.97 838.92C732.51 838.27 734.07 837.66 735.63 837.06C737.2 836.46 738.79 835.89 740.37 835.33C741.96 834.76 743.56 834.21 745.15 833.66C746.75 833.11 748.35 832.57 749.94 832.02C751.53 831.47 753.12 830.92 754.7 830.34C756.28 829.77 757.85 829.19 759.41 828.58C760.96 827.97 762.5 827.33 764.03 826.68C765.56 826.03 767.08 825.35 768.59 824.68C770.11 824 771.62 823.31 773.14 822.63C774.66 821.95 776.18 821.25 777.71 820.59C779.24 819.92 780.78 819.25 782.33 818.62C783.88 817.98 785.45 817.36 787.02 816.78C788.59 816.2 790.17 815.64 791.76 815.13C793.34 814.63 794.94 814.15 796.55 813.74C798.16 813.33 799.77 812.96 801.4 812.67C803.03 812.37 804.66 812.14 806.31 811.97C807.95 811.8 809.6 811.71 811.26 811.63C812.92 811.54 814.58 811.52 816.25 811.47C817.92 811.42 819.6 811.38 821.28 811.33C822.95 811.28 824.63 811.2 826.31 811.19C827.99 811.19 829.67 811.18 831.35 811.3C833.02 811.41 834.7 811.6 836.36 811.9C838.01 812.2 839.67 812.6 841.28 813.08C842.88 813.56 844.47 814.13 845.99 814.78C847.52 815.43 848.99 816.16 850.42 816.96C851.85 817.75 853.22 818.63 854.55 819.56C855.88 820.5 857.16 821.5 858.4 822.56C859.64 823.62 860.83 824.74 861.98 825.91C863.14 827.07 864.25 828.3 865.32 829.56C866.39 830.82 867.43 832.14 868.43 833.48C869.43 834.83 870.39 836.21 871.32 837.63C872.25 839.04 873.15 840.49 874.02 841.96C874.89 843.43 875.73 844.92 876.55 846.43C877.36 847.94 878.14 849.47 878.91 851.01C879.67 852.54 880.41 854.1 881.13 855.65C881.85 857.2 882.54 858.75 883.22 860.31C883.9 861.86 884.56 863.42 885.19 864.98C885.83 866.55 886.45 868.11 887.05 869.68C887.65 871.24 888.23 872.81 888.79 874.39C889.35 875.96 889.9 877.53 890.43 879.11C890.95 880.69 891.46 882.27 891.95 883.86C892.44 885.44 892.92 887.03 893.37 888.62C893.83 890.22 894.27 891.81 894.7 893.41C895.12 895.01 895.53 896.61 895.92 898.22C896.32 899.83 896.69 901.44 897.06 903.05C897.42 904.67 897.76 906.28 898.1 907.91C898.43 909.53 898.75 911.16 899.05 912.79C899.36 914.42 899.65 916.06 899.93 917.7C900.2 919.34 900.47 920.98 900.72 922.63C900.97 924.28 901.21 925.93 901.44 927.59C901.66 929.25 901.88 930.92 902.08 932.59C902.28 934.26 902.47 935.93 902.65 937.61C902.83 939.29 903 940.97 903.16 942.66C903.32 944.35 903.53 946.9 903.6 947.75L903.6 959.75Z" fill="#F58220"/>
<path d="M629 524.25L629 536.25C629.05 537.07 629.2 539.55 629.3 541.2C629.41 542.85 629.52 544.51 629.63 546.16C629.75 547.82 629.87 549.48 629.99 551.14C630.12 552.8 630.25 554.46 630.39 556.12C630.52 557.78 630.67 559.45 630.82 561.11C630.97 562.77 631.13 564.44 631.3 566.1C631.46 567.77 631.64 569.43 631.82 571.1C632.01 572.76 632.2 574.42 632.4 576.09C632.61 577.75 632.82 579.41 633.04 581.07C633.27 582.73 633.5 584.39 633.75 586.04C633.99 587.7 634.25 589.36 634.52 591.01C634.79 592.66 635.07 594.31 635.37 595.96C635.66 597.6 635.97 599.25 636.29 600.89C636.61 602.53 636.95 604.16 637.3 605.8C637.65 607.43 638.02 609.06 638.4 610.68C638.78 612.31 639.17 613.93 639.59 615.54C640 617.16 640.43 618.77 640.88 620.37C641.32 621.98 641.79 623.58 642.27 625.17C642.75 626.76 643.25 628.35 643.77 629.93C644.29 631.51 644.83 633.09 645.39 634.66C645.94 636.22 646.52 637.78 647.12 639.34C647.72 640.89 648.33 642.44 648.97 643.98C649.61 645.51 650.27 647.05 650.96 648.57C651.64 650.08 652.35 651.6 653.09 653.09C653.83 654.58 654.59 656.06 655.4 657.52C656.2 658.97 657.04 660.41 657.92 661.82C658.8 663.22 659.71 664.61 660.67 665.95C661.64 667.3 662.64 668.62 663.7 669.9C664.76 671.18 665.86 672.43 667.02 673.63C668.18 674.82 669.4 675.99 670.66 677.08C671.92 678.17 673.24 679.22 674.61 680.19C675.97 681.16 677.39 682.07 678.85 682.89C680.31 683.72 681.83 684.46 683.37 685.13C684.92 685.79 686.51 686.38 688.11 686.87C689.71 687.37 691.35 687.79 692.99 688.12C694.63 688.46 696.29 688.71 697.95 688.86C699.6 689.01 701.27 689.08 702.91 689.05C704.56 689.01 706.2 688.88 707.82 688.65C709.44 688.42 711.05 688.06 712.63 687.65C714.21 687.23 715.78 686.71 717.33 686.15C718.88 685.59 720.42 684.95 721.94 684.29C723.47 683.63 724.98 682.92 726.48 682.2C727.99 681.48 729.49 680.74 730.98 679.99C732.46 679.23 733.95 678.47 735.41 677.68C736.88 676.89 738.33 676.08 739.76 675.24C741.19 674.39 742.59 673.52 743.98 672.61C745.37 671.71 746.73 670.77 748.08 669.81C749.42 668.85 750.75 667.86 752.05 666.85C753.35 665.84 754.64 664.8 755.9 663.74C757.17 662.68 758.42 661.59 759.66 660.49C760.89 659.39 762.11 658.27 763.32 657.14C764.53 656 765.73 654.85 766.91 653.69C768.1 652.53 769.28 651.35 770.45 650.16C771.62 648.98 772.78 647.78 773.94 646.57C775.1 645.37 776.25 644.16 777.4 642.95C778.55 641.73 779.7 640.51 780.85 639.29C781.99 638.07 783.14 636.85 784.29 635.63C785.45 634.41 786.6 633.19 787.76 631.98C788.92 630.77 790.08 629.56 791.25 628.36C792.42 627.16 793.6 625.96 794.79 624.78C795.98 623.6 797.17 622.43 798.38 621.27C799.59 620.11 800.82 618.97 802.05 617.84C803.29 616.71 804.54 615.59 805.79 614.48C807.04 613.37 808.3 612.27 809.56 611.17C810.82 610.07 812.08 608.97 813.33 607.87C814.59 606.77 815.84 605.67 817.08 604.56C818.32 603.45 819.55 602.34 820.76 601.21C821.97 600.08 823.17 598.94 824.35 597.78C825.52 596.61 826.68 595.44 827.81 594.24C828.94 593.04 830.05 591.82 831.12 590.57C832.19 589.31 833.23 588.04 834.24 586.73C835.24 585.41 836.21 584.07 837.13 582.69C838.05 581.3 838.93 579.88 839.77 578.42C840.61 576.97 841.4 575.46 842.16 573.94C842.91 572.41 843.63 570.85 844.31 569.28C845 567.7 845.65 566.1 846.29 564.49C846.92 562.89 847.52 561.26 848.1 559.64C848.69 558.03 849.25 556.4 849.81 554.78C850.36 553.17 850.9 551.55 851.43 549.96C851.97 548.36 852.49 546.78 853.02 545.22C853.54 543.67 854.06 542.13 854.59 540.64C855.12 539.14 855.93 536.98 856.2 536.25L856.2 524.25Z" fill="#ED1C24"/>
<path d="M648.1 959.75L648.1 947.75C648.24 946.92 648.62 944.43 648.95 942.79C649.29 941.16 649.67 939.54 650.1 937.93C650.52 936.32 651 934.73 651.52 933.16C652.03 931.58 652.59 930.02 653.19 928.47C653.8 926.93 654.44 925.4 655.12 923.89C655.8 922.37 656.52 920.88 657.27 919.39C658.03 917.91 658.82 916.45 659.64 915C660.46 913.55 661.32 912.12 662.21 910.7C663.09 909.28 664.01 907.88 664.96 906.5C665.9 905.12 666.88 903.75 667.88 902.4C668.88 901.05 669.9 899.72 670.95 898.41C672 897.09 673.07 895.79 674.16 894.51C675.25 893.23 676.37 891.97 677.5 890.72C678.63 889.48 679.78 888.25 680.94 887.04C682.11 885.83 683.29 884.64 684.48 883.46C685.68 882.29 686.89 881.13 688.12 880C689.35 878.86 690.59 877.74 691.85 876.64C693.11 875.54 694.38 874.46 695.67 873.41C696.95 872.35 698.26 871.31 699.57 870.29C700.89 869.27 702.22 868.27 703.57 867.29C704.91 866.31 706.27 865.36 707.64 864.42C709.02 863.49 710.4 862.57 711.8 861.68C713.2 860.79 714.62 859.91 716.04 859.07C717.47 858.22 718.91 857.39 720.36 856.59C721.81 855.78 723.27 855 724.75 854.25C726.23 853.49 727.72 852.75 729.22 852.04C730.72 851.33 732.23 850.65 733.75 849.98C735.28 849.32 736.81 848.68 738.36 848.06C739.9 847.44 741.45 846.84 743.01 846.24C744.57 845.65 746.14 845.08 747.71 844.51C749.28 843.94 750.86 843.39 752.44 842.83C754.02 842.27 755.6 841.73 757.18 841.17C758.76 840.62 760.35 840.07 761.93 839.51C763.51 838.95 765.09 838.38 766.66 837.8C768.24 837.23 769.81 836.64 771.38 836.04C772.94 835.43 774.5 834.81 776.05 834.18C777.6 833.54 779.14 832.87 780.68 832.21C782.22 831.55 783.76 830.86 785.29 830.22C786.83 829.57 788.36 828.92 789.91 828.33C791.45 827.74 793 827.16 794.56 826.67C796.12 826.17 797.69 825.71 799.28 825.36C800.87 825 802.47 824.7 804.1 824.51C805.73 824.33 807.38 824.26 809.04 824.23C810.7 824.2 812.39 824.27 814.07 824.33C815.75 824.4 817.45 824.52 819.13 824.6C820.82 824.69 822.51 824.75 824.19 824.85C825.86 824.95 827.54 825.03 829.19 825.21C830.85 825.4 832.49 825.62 834.11 825.96C835.73 826.31 837.34 826.75 838.91 827.27C840.47 827.8 842.02 828.42 843.51 829.12C845 829.81 846.46 830.6 847.86 831.45C849.27 832.3 850.62 833.24 851.93 834.23C853.24 835.22 854.5 836.29 855.73 837.4C856.95 838.51 858.13 839.69 859.27 840.91C860.41 842.12 861.51 843.39 862.58 844.69C863.65 845.99 864.68 847.34 865.68 848.7C866.68 850.07 867.64 851.47 868.58 852.88C869.51 854.29 870.42 855.73 871.3 857.18C872.18 858.62 873.03 860.08 873.86 861.54C874.68 863.01 875.48 864.49 876.26 865.97C877.04 867.46 877.79 868.96 878.51 870.47C879.24 871.97 879.94 873.49 880.62 875.01C881.3 876.54 881.95 878.07 882.58 879.62C883.21 881.16 883.82 882.71 884.41 884.27C884.99 885.83 885.56 887.39 886.1 888.97C886.64 890.54 887.16 892.12 887.67 893.71C888.17 895.3 888.65 896.89 889.11 898.49C889.57 900.09 890.01 901.7 890.43 903.31C890.85 904.92 891.26 906.54 891.64 908.16C892.03 909.78 892.39 911.41 892.74 913.04C893.09 914.67 893.43 916.31 893.74 917.95C894.06 919.59 894.36 921.23 894.64 922.88C894.92 924.53 895.19 926.18 895.44 927.83C895.69 929.48 895.93 931.14 896.15 932.79C896.38 934.45 896.59 936.11 896.78 937.77C896.98 939.43 897.16 941.09 897.33 942.76C897.5 944.42 897.72 946.92 897.8 947.75L897.8 959.75Z" fill="#ED1C24"/>
<path d="M634 524.25L634 536.25C634.05 537.09 634.21 539.61 634.32 541.29C634.44 542.97 634.56 544.65 634.69 546.33C634.83 548.01 634.97 549.68 635.12 551.36C635.27 553.03 635.44 554.71 635.61 556.38C635.78 558.05 635.97 559.72 636.16 561.39C636.36 563.06 636.56 564.73 636.78 566.39C637 568.05 637.23 569.72 637.47 571.38C637.72 573.04 637.97 574.69 638.24 576.35C638.51 578 638.79 579.65 639.09 581.3C639.39 582.95 639.7 584.6 640.02 586.24C640.35 587.88 640.69 589.52 641.04 591.16C641.4 592.79 641.77 594.43 642.15 596.05C642.54 597.68 642.94 599.31 643.36 600.93C643.78 602.55 644.22 604.17 644.67 605.78C645.12 607.39 645.59 609 646.08 610.6C646.57 612.21 647.08 613.8 647.6 615.4C648.13 616.99 648.67 618.58 649.23 620.17C649.8 621.75 650.38 623.33 650.98 624.9C651.59 626.48 652.21 628.05 652.85 629.61C653.5 631.17 654.16 632.73 654.85 634.28C655.54 635.82 656.25 637.36 656.99 638.89C657.72 640.41 658.48 641.92 659.28 643.41C660.07 644.9 660.89 646.38 661.74 647.82C662.59 649.27 663.47 650.7 664.39 652.1C665.31 653.5 666.25 654.88 667.24 656.22C668.23 657.56 669.25 658.88 670.31 660.15C671.38 661.41 672.47 662.66 673.65 663.82C674.83 664.99 676.05 666.11 677.37 667.11C678.7 668.12 680.12 669.05 681.61 669.86C683.1 670.68 684.71 671.39 686.33 671.98C687.95 672.58 689.65 673.07 691.31 673.44C692.98 673.82 694.67 674.07 696.34 674.23C698 674.38 699.66 674.42 701.3 674.37C702.94 674.33 704.58 674.17 706.2 673.94C707.82 673.71 709.43 673.39 711.03 673C712.62 672.61 714.21 672.13 715.78 671.6C717.35 671.07 718.91 670.47 720.45 669.82C721.99 669.17 723.52 668.46 725.03 667.71C726.54 666.97 728.04 666.17 729.52 665.35C731 664.52 732.46 663.66 733.91 662.78C735.35 661.9 736.78 660.99 738.19 660.06C739.59 659.12 740.98 658.16 742.33 657.17C743.69 656.17 745.02 655.15 746.32 654.09C747.61 653.04 748.88 651.95 750.11 650.83C751.35 649.7 752.54 648.54 753.72 647.37C754.9 646.19 756.04 644.98 757.18 643.76C758.32 642.54 759.43 641.3 760.55 640.06C761.67 638.82 762.78 637.57 763.89 636.33C765.01 635.08 766.12 633.83 767.25 632.61C768.39 631.38 769.53 630.16 770.69 628.96C771.86 627.76 773.05 626.59 774.25 625.42C775.45 624.25 776.67 623.11 777.89 621.97C779.12 620.83 780.37 619.7 781.62 618.58C782.87 617.46 784.13 616.35 785.39 615.24C786.65 614.13 787.92 613.03 789.19 611.92C790.46 610.82 791.73 609.71 793 608.61C794.27 607.5 795.54 606.39 796.79 605.27C798.05 604.15 799.31 603.03 800.55 601.89C801.79 600.75 803.03 599.61 804.24 598.45C805.46 597.28 806.67 596.11 807.86 594.92C809.05 593.72 810.22 592.52 811.38 591.29C812.53 590.07 813.67 588.83 814.79 587.57C815.91 586.31 817.02 585.04 818.1 583.75C819.19 582.47 820.25 581.16 821.3 579.85C822.35 578.53 823.38 577.2 824.39 575.85C825.4 574.51 826.39 573.14 827.35 571.77C828.32 570.39 829.27 569.01 830.2 567.6C831.13 566.2 832.03 564.78 832.92 563.35C833.8 561.92 834.66 560.48 835.5 559.02C836.34 557.57 837.16 556.1 837.95 554.62C838.74 553.13 839.51 551.64 840.26 550.13C841 548.63 841.73 547.11 842.42 545.58C843.12 544.04 843.79 542.5 844.44 540.95C845.08 539.39 845.99 537.03 846.3 536.25L846.3 524.25Z" fill="#7D1416"/>
<path d="M654 959.75L654 947.75C654.1 946.85 654.27 944.09 654.57 942.35C654.87 940.61 655.28 938.93 655.77 937.31C656.27 935.68 656.87 934.12 657.53 932.59C658.19 931.06 658.95 929.59 659.76 928.14C660.57 926.7 661.45 925.3 662.38 923.93C663.3 922.55 664.3 921.21 665.31 919.89C666.33 918.57 667.4 917.28 668.48 915.99C669.56 914.7 670.68 913.44 671.8 912.18C672.91 910.91 674.06 909.66 675.19 908.41C676.31 907.15 677.45 905.9 678.57 904.64C679.69 903.38 680.8 902.11 681.92 900.85C683.03 899.59 684.14 898.32 685.26 897.07C686.38 895.82 687.51 894.58 688.65 893.35C689.8 892.12 690.95 890.9 692.13 889.7C693.31 888.51 694.51 887.33 695.74 886.18C696.96 885.03 698.21 883.89 699.48 882.79C700.76 881.68 702.05 880.6 703.37 879.55C704.69 878.49 706.03 877.46 707.38 876.46C708.74 875.46 710.12 874.48 711.52 873.54C712.92 872.59 714.33 871.68 715.77 870.79C717.2 869.91 718.65 869.05 720.12 868.23C721.59 867.41 723.07 866.62 724.57 865.87C726.07 865.11 727.59 864.39 729.12 863.71C730.65 863.02 732.19 862.37 733.74 861.74C735.29 861.12 736.86 860.53 738.43 859.97C740.01 859.41 741.59 858.89 743.18 858.38C744.77 857.88 746.37 857.41 747.97 856.93C749.56 856.45 751.17 855.99 752.76 855.51C754.35 855.02 755.94 854.53 757.53 854.02C759.11 853.5 760.69 852.96 762.26 852.41C763.84 851.87 765.4 851.3 766.97 850.73C768.54 850.16 770.1 849.58 771.67 849C773.24 848.42 774.81 847.84 776.38 847.27C777.95 846.7 779.53 846.13 781.11 845.59C782.69 845.05 784.28 844.51 785.88 844.01C787.48 843.51 789.09 843.02 790.71 842.58C792.33 842.14 793.96 841.72 795.6 841.35C797.24 840.97 798.9 840.63 800.55 840.33C802.21 840.03 803.88 839.76 805.55 839.54C807.22 839.32 808.9 839.14 810.59 839.01C812.27 838.88 813.95 838.79 815.64 838.75C817.33 838.71 819.02 838.71 820.71 838.77C822.39 838.84 824.09 838.94 825.76 839.13C827.43 839.32 829.09 839.56 830.72 839.91C832.35 840.25 833.96 840.68 835.53 841.21C837.1 841.73 838.64 842.35 840.14 843.05C841.64 843.74 843.11 844.53 844.54 845.38C845.96 846.23 847.36 847.16 848.71 848.14C850.06 849.13 851.37 850.18 852.64 851.28C853.91 852.38 855.14 853.54 856.32 854.74C857.5 855.93 858.64 857.18 859.74 858.46C860.83 859.73 861.88 861.05 862.89 862.39C863.89 863.74 864.85 865.11 865.78 866.52C866.71 867.92 867.59 869.35 868.44 870.8C869.29 872.26 870.11 873.74 870.89 875.23C871.68 876.73 872.43 878.25 873.15 879.78C873.87 881.31 874.57 882.87 875.24 884.43C875.91 885.99 876.55 887.57 877.18 889.15C877.8 890.73 878.4 892.32 878.98 893.92C879.57 895.51 880.13 897.12 880.68 898.72C881.24 900.32 881.77 901.92 882.3 903.52C882.82 905.12 883.34 906.72 883.84 908.31C884.34 909.9 884.84 911.49 885.32 913.08C885.79 914.67 886.26 916.26 886.7 917.85C887.13 919.44 887.56 921.04 887.95 922.64C888.34 924.25 888.71 925.86 889.04 927.48C889.37 929.1 889.68 930.74 889.94 932.39C890.2 934.04 890.44 935.7 890.62 937.39C890.81 939.07 890.96 940.77 891.05 942.5C891.15 944.23 891.18 946.87 891.2 947.75L891.2 959.75Z" fill="#7D1416"/>
</g>

<rect x="90" y="50" width="394" height="413.75" fill="none" stroke="#000" stroke-width="2.0"/>
<text class="tk" transform="translate(90.5 499.75) scale(0.895 1)" text-anchor="middle">1.5</text>
<text class="tk" transform="translate(189 499.75) scale(0.895 1)" text-anchor="middle">2.0</text>
<text class="tk" transform="translate(287.5 499.75) scale(0.895 1)" text-anchor="middle">2.5</text>
<text class="tk" transform="translate(386 499.75) scale(0.895 1)" text-anchor="middle">3.0</text>
<text class="tk" transform="translate(484.5 499.75) scale(0.895 1)" text-anchor="middle">3.5</text>
<text class="tk" transform="translate(77 471) scale(0.895 1)" text-anchor="end">40</text>
<text class="tk" transform="translate(77 388.25) scale(0.895 1)" text-anchor="end">45</text>
<text class="tk" transform="translate(77 305.5) scale(0.895 1)" text-anchor="end">50</text>
<text class="tk" transform="translate(77 222.75) scale(0.895 1)" text-anchor="end">55</text>
<text class="tk" transform="translate(77 140) scale(0.895 1)" text-anchor="end">60</text>
<text class="tk" transform="translate(77 57.25) scale(0.895 1)" text-anchor="end">65</text>
<path d="M90 463.75v8.2M139.25 463.75v4.6M188.5 463.75v8.2M237.75 463.75v4.6M287 463.75v8.2M336.25 463.75v4.6M385.5 463.75v8.2M434.75 463.75v4.6M484 463.75v8.2M90 463.75h-8.2M90 422.38h-4.6M90 381h-8.2M90 339.62h-4.6M90 298.25h-8.2M90 256.88h-4.6M90 215.5h-8.2M90 174.12h-4.6M90 132.75h-8.2M90 91.38h-4.6M90 50h-8.2" stroke="#000" stroke-width="1.7" fill="none"/>
<path d="M89.5 246.2H484" stroke="#231F20" stroke-width="3.8" stroke-dasharray="6.05 5.45" fill="none"/>
<rect x="543.75" y="52.25" width="397.75" height="413" fill="none" stroke="#000" stroke-width="2.0"/>
<text class="tk" transform="translate(544.25 499.75) scale(0.895 1)" text-anchor="middle">1.5</text>
<text class="tk" transform="translate(643.69 499.75) scale(0.895 1)" text-anchor="middle">2.0</text>
<text class="tk" transform="translate(743.12 499.75) scale(0.895 1)" text-anchor="middle">2.5</text>
<text class="tk" transform="translate(842.56 499.75) scale(0.895 1)" text-anchor="middle">3.0</text>
<text class="tk" transform="translate(942 499.75) scale(0.895 1)" text-anchor="middle">3.5</text>
<text class="tk" transform="translate(533.25 471.05) scale(0.895 1)" text-anchor="end">40</text>
<text class="tk" transform="translate(533.25 388.45) scale(0.895 1)" text-anchor="end">45</text>
<text class="tk" transform="translate(533.25 305.85) scale(0.895 1)" text-anchor="end">50</text>
<text class="tk" transform="translate(533.25 223.25) scale(0.895 1)" text-anchor="end">55</text>
<text class="tk" transform="translate(533.25 140.65) scale(0.895 1)" text-anchor="end">60</text>
<text class="tk" transform="translate(533.25 58.05) scale(0.895 1)" text-anchor="end">65</text>
<path d="M543.75 465.25v8.2M593.47 465.25v4.6M593.47 52.25v4.6M643.19 465.25v8.2M643.19 52.25v8.2M692.91 465.25v4.6M692.91 52.25v4.6M742.62 465.25v8.2M742.62 52.25v8.2M792.34 465.25v4.6M792.34 52.25v4.6M842.06 465.25v8.2M842.06 52.25v8.2M891.78 465.25v4.6M891.78 52.25v4.6M941.5 465.25v8.2M543.75 465.25h-8.2M543.75 423.95h-4.6M941.5 423.95h-4.6M543.75 382.65h-8.2M941.5 382.65h-8.2M543.75 341.35h-4.6M941.5 341.35h-4.6M543.75 300.05h-8.2M941.5 300.05h-8.2M543.75 258.75h-4.6M941.5 258.75h-4.6M543.75 217.45h-8.2M941.5 217.45h-8.2M543.75 176.15h-4.6M941.5 176.15h-4.6M543.75 134.85h-8.2M941.5 134.85h-8.2M543.75 93.55h-4.6M941.5 93.55h-4.6M543.75 52.25h-8.2" stroke="#000" stroke-width="1.7" fill="none"/>
<path d="M545.25 223.8H941.5" stroke="#231F20" stroke-width="3.8" stroke-dasharray="6.05 5.45" fill="none"/>
<rect x="90" y="537.5" width="396.6" height="412" fill="none" stroke="#000" stroke-width="2.0"/>
<text class="tk" transform="translate(90.5 979.3) scale(0.895 1)" text-anchor="middle">7</text>
<text class="tk" transform="translate(169.82 979.3) scale(0.895 1)" text-anchor="middle">8</text>
<text class="tk" transform="translate(249.14 979.3) scale(0.895 1)" text-anchor="middle">9</text>
<text class="tk" transform="translate(328.46 979.3) scale(0.895 1)" text-anchor="middle">10</text>
<text class="tk" transform="translate(407.78 979.3) scale(0.895 1)" text-anchor="middle">11</text>
<text class="tk" transform="translate(487.1 979.3) scale(0.895 1)" text-anchor="middle">12</text>
<text class="tk" transform="translate(77.9 956.2) scale(0.895 1)" text-anchor="end">40</text>
<text class="tk" transform="translate(77.9 853.2) scale(0.895 1)" text-anchor="end">45</text>
<text class="tk" transform="translate(77.9 750.2) scale(0.895 1)" text-anchor="end">50</text>
<text class="tk" transform="translate(77.9 647.2) scale(0.895 1)" text-anchor="end">55</text>
<text class="tk" transform="translate(77.9 544.2) scale(0.895 1)" text-anchor="end">60</text>
<path d="M90 949.5v8.2M129.66 949.5v4.6M129.66 537.5v4.6M169.32 949.5v8.2M169.32 537.5v8.2M208.98 949.5v4.6M208.98 537.5v4.6M248.64 949.5v8.2M248.64 537.5v8.2M288.3 949.5v4.6M288.3 537.5v4.6M327.96 949.5v8.2M327.96 537.5v8.2M367.62 949.5v4.6M367.62 537.5v4.6M407.28 949.5v8.2M407.28 537.5v8.2M446.94 949.5v4.6M446.94 537.5v4.6M486.6 949.5v8.2M90 949.5h-8.2M90 898h-4.6M486.6 898h-4.6M90 846.5h-8.2M486.6 846.5h-8.2M90 795h-4.6M486.6 795h-4.6M90 743.5h-8.2M486.6 743.5h-8.2M90 692h-4.6M486.6 692h-4.6M90 640.5h-8.2M486.6 640.5h-8.2M90 589h-4.6M486.6 589h-4.6M90 537.5h-8.2" stroke="#000" stroke-width="1.7" fill="none"/>
<path d="M92 741.9H479.6" stroke="#231F20" stroke-width="3.8" stroke-dasharray="6.05 5.45" fill="none"/>
<rect x="545.5" y="536.25" width="395" height="411.5" fill="none" stroke="#000" stroke-width="2.0"/>
<text class="tk" transform="translate(546 978.95) scale(0.895 1)" text-anchor="middle">7</text>
<text class="tk" transform="translate(625 978.95) scale(0.895 1)" text-anchor="middle">8</text>
<text class="tk" transform="translate(704 978.95) scale(0.895 1)" text-anchor="middle">9</text>
<text class="tk" transform="translate(783 978.95) scale(0.895 1)" text-anchor="middle">10</text>
<text class="tk" transform="translate(862 978.95) scale(0.895 1)" text-anchor="middle">11</text>
<text class="tk" transform="translate(941 978.95) scale(0.895 1)" text-anchor="middle">12</text>
<text class="tk" transform="translate(533.2 953.75) scale(0.895 1)" text-anchor="end">40</text>
<text class="tk" transform="translate(533.2 850.88) scale(0.895 1)" text-anchor="end">45</text>
<text class="tk" transform="translate(533.2 748) scale(0.895 1)" text-anchor="end">50</text>
<text class="tk" transform="translate(533.2 645.12) scale(0.895 1)" text-anchor="end">55</text>
<text class="tk" transform="translate(533.2 542.25) scale(0.895 1)" text-anchor="end">60</text>
<path d="M545.5 947.75v8.2M585 947.75v4.6M585 536.25v4.6M624.5 947.75v8.2M624.5 536.25v8.2M664 947.75v4.6M664 536.25v4.6M703.5 947.75v8.2M703.5 536.25v8.2M743 947.75v4.6M743 536.25v4.6M782.5 947.75v8.2M782.5 536.25v8.2M822 947.75v4.6M822 536.25v4.6M861.5 947.75v8.2M861.5 536.25v8.2M901 947.75v4.6M901 536.25v4.6M940.5 947.75v8.2M545.5 947.75h-8.2M545.5 896.31h-4.6M940.5 896.31h-4.6M545.5 844.88h-8.2M940.5 844.88h-8.2M545.5 793.44h-4.6M940.5 793.44h-4.6M545.5 742h-8.2M940.5 742h-8.2M545.5 690.56h-4.6M940.5 690.56h-4.6M545.5 639.12h-8.2M940.5 639.12h-8.2M545.5 587.69h-4.6M940.5 587.69h-4.6M545.5 536.25h-8.2" stroke="#000" stroke-width="1.7" fill="none"/>
<path d="M546.5 757.2H932.4" stroke="#231F20" stroke-width="3.8" stroke-dasharray="6.05 5.45" fill="none"/>
<rect x="968" y="52" width="22.5" height="46.8" fill="#3A53A4"/>
<rect x="968" y="98.5" width="22.5" height="46.8" fill="#3F7ABD"/>
<rect x="968" y="145" width="22.5" height="46.8" fill="#6DCBDD"/>
<rect x="968" y="191.5" width="22.5" height="46.8" fill="#6FC06B"/>
<rect x="968" y="238" width="22.5" height="46.8" fill="#6ABD45"/>
<rect x="968" y="284.5" width="22.5" height="46.8" fill="#F5EC1E"/>
<rect x="968" y="331" width="22.5" height="46.8" fill="#F58220"/>
<rect x="968" y="377.5" width="22.5" height="46.8" fill="#ED1C24"/>
<rect x="968" y="424" width="22.5" height="46.8" fill="#7D1416"/>
<rect x="968" y="534.6" width="22.5" height="46.82" fill="#3A53A4"/>
<rect x="968" y="581.12" width="22.5" height="46.82" fill="#3F7ABD"/>
<rect x="968" y="627.63" width="22.5" height="46.82" fill="#6DCBDD"/>
<rect x="968" y="674.15" width="22.5" height="46.82" fill="#6FC06B"/>
<rect x="968" y="720.67" width="22.5" height="46.82" fill="#6ABD45"/>
<rect x="968" y="767.18" width="22.5" height="46.82" fill="#F5EC1E"/>
<rect x="968" y="813.7" width="22.5" height="46.82" fill="#F58220"/>
<rect x="968" y="860.22" width="22.5" height="46.82" fill="#ED1C24"/>
<rect x="968" y="906.73" width="22.5" height="46.82" fill="#7D1416"/>
<text class="m" transform="translate(101.50 31.20) scale(1.2 1.0)" font-size="35" font-style="italic">ϵ</text>
<text class="m" transform="translate(141.20 32.90) scale(1.98 1.0)" font-size="34">=</text>
<text class="m" transform="translate(200.80 31.40) scale(1.25 1.0)" font-size="38.6">0.7</text>
<text class="m" transform="translate(554.80 34.20) scale(1.2 1.0)" font-size="35" font-style="italic">ϵ</text>
<text class="m" transform="translate(593.20 35.90) scale(1.98 1.0)" font-size="34">=</text>
<text class="m" transform="translate(651.80 34.40) scale(1.25 1.0)" font-size="38.6">0.3</text>
<text transform="translate(99.10 84.50) scale(0.96 1.0)" font-size="34.8">(a)</text>
<text transform="translate(554.80 86.00) scale(0.96 1.0)" font-size="34.8">(b)</text>
<text transform="translate(101.50 568.80) scale(0.96 1.0)" font-size="34.8">(c)</text>
<text transform="translate(554.50 568.80) scale(0.96 1.0)" font-size="34.8">(d)</text>
<text transform="translate(30.00 267.60) rotate(-90) scale(1.061 1.0)" font-size="31" text-anchor="middle">Angle (degree)</text>
<text transform="translate(33.00 751.60) rotate(-90) scale(1.061 1.0)" font-size="31" text-anchor="middle">Angle (degree)</text>
<text transform="translate(294.60 1018.70) scale(0.985 1.0)" font-size="30" text-anchor="middle">Energy (a.u.)</text>
<text transform="translate(748.00 1018.70) scale(0.985 1.0)" font-size="30" text-anchor="middle">Energy (a.u.)</text>
<text transform="translate(1013.00 80.40) rotate(-90)" font-size="23" text-anchor="middle">min</text>
<text transform="translate(1013.00 453.00) rotate(-90)" font-size="23" text-anchor="middle">max</text>
<text transform="translate(1013.00 562.50) rotate(-90)" font-size="23" text-anchor="middle">min</text>
<text transform="translate(1013.00 934.50) rotate(-90)" font-size="23" text-anchor="middle">max</text>
<text transform="translate(849.85 129.30) scale(1.2 1.0)" font-size="37">H</text>
<text transform="translate(881.10 139.85) scale(1.28 1.0)" font-size="29.4">2</text>
<text transform="translate(892.70 120.40) scale(1.24 1.0)" font-size="41.8">+</text>
<text class="m" transform="translate(825.75 179.00) scale(1.2 1.0)" font-size="36.2">1</text>
<text class="m" transform="translate(850.60 179.30) scale(1.365 1.0)" font-size="36" font-style="italic">s</text>
<text class="m" transform="translate(870.30 179.30) scale(1.555 1.0)" font-size="32.3" font-style="italic">σ</text>
<text class="m" transform="translate(898.20 183.60) scale(1.4 1.0)" font-size="24.1" font-style="italic">g</text>
<rect x="820.9" y="686" width="106" height="40" fill="#fff"/>
<text class="m" transform="translate(826.00 715.10) scale(1.23 1.0)" font-size="37.5">2</text>
<text class="m" transform="translate(851.10 714.70) scale(1.28 1.0)" font-size="35.3" font-style="italic">p</text>
<text class="m" transform="translate(872.10 714.80) scale(1.61 1.0)" font-size="30.4" font-style="italic">σ</text>
<text class="m" transform="translate(898.30 719.70) scale(1.74 1.0)" font-size="25.5" font-style="italic">u</text>
</svg>
</body></html>
